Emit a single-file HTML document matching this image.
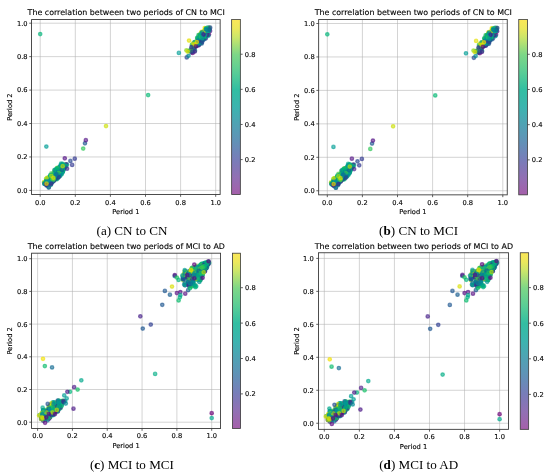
<!DOCTYPE html>
<html><head><meta charset="utf-8"><title>Correlation between two periods</title>
<style>html,body{margin:0;padding:0;background:#fff}svg{display:block}</style></head>
<body>
<svg width="550" height="476" viewBox="0 0 550 476">
<defs><linearGradient id="vg" x1="0" y1="0" x2="0" y2="1"><stop offset="0%" stop-color="#fbe758"/><stop offset="5%" stop-color="#ece85c"/><stop offset="10%" stop-color="#cde669"/><stop offset="15%" stop-color="#a5de78"/><stop offset="20%" stop-color="#7dd787"/><stop offset="25%" stop-color="#6cd28e"/><stop offset="30%" stop-color="#5acd96"/><stop offset="35%" stop-color="#46c69c"/><stop offset="40%" stop-color="#32bea2"/><stop offset="45%" stop-color="#37b9a8"/><stop offset="50%" stop-color="#3cb4af"/><stop offset="55%" stop-color="#46abb2"/><stop offset="60%" stop-color="#50a2b4"/><stop offset="65%" stop-color="#599ab6"/><stop offset="70%" stop-color="#6291b7"/><stop offset="75%" stop-color="#6d87b8"/><stop offset="80%" stop-color="#787db9"/><stop offset="85%" stop-color="#8476b6"/><stop offset="90%" stop-color="#9170b4"/><stop offset="95%" stop-color="#9b68af"/><stop offset="100%" stop-color="#a55faa"/></linearGradient></defs>
<rect width="550" height="476" fill="#fff"/>
<g><path d="M40.2 19.55V194.5M31.55 190.4H220.15M75.3 19.55V194.5M31.55 156.96H220.15M110.4 19.55V194.5M31.55 123.52H220.15M145.5 19.55V194.5M31.55 90.08H220.15M180.6 19.55V194.5M31.55 56.64H220.15M215.7 19.55V194.5M31.55 23.2H220.15" stroke="#b0b0b0" stroke-width="0.55" fill="none"/>
<g fill-opacity="0.6" stroke-opacity="0.6" stroke-width="1.25">
<circle cx="56.23" cy="175.97" r="1.75" fill="#00a88c" stroke="#00a88c"/>
<circle cx="50.18" cy="177.32" r="1.75" fill="#2bc658" stroke="#2bc658"/>
<circle cx="51.33" cy="181.1" r="1.75" fill="#00aa8a" stroke="#00aa8a"/>
<circle cx="57.69" cy="178.28" r="1.75" fill="#0a7996" stroke="#0a7996"/>
<circle cx="56.57" cy="175.66" r="1.75" fill="#32c854" stroke="#32c854"/>
<circle cx="50.68" cy="184.89" r="1.75" fill="#00aa8a" stroke="#00aa8a"/>
<circle cx="61.33" cy="169.06" r="1.75" fill="#048f96" stroke="#048f96"/>
<circle cx="57.03" cy="170.6" r="1.75" fill="#00ae86" stroke="#00ae86"/>
<circle cx="47.42" cy="181.39" r="1.75" fill="#00a193" stroke="#00a193"/>
<circle cx="55.14" cy="178.66" r="1.75" fill="#185d8e" stroke="#185d8e"/>
<circle cx="62.86" cy="169.36" r="1.75" fill="#03ba6c" stroke="#03ba6c"/>
<circle cx="46.87" cy="179.05" r="1.75" fill="#019996" stroke="#019996"/>
<circle cx="47.12" cy="182.54" r="1.75" fill="#84d728" stroke="#84d728"/>
<circle cx="54.66" cy="175.71" r="1.75" fill="#15c064" stroke="#15c064"/>
<circle cx="51.1" cy="176.61" r="1.75" fill="#009c96" stroke="#009c96"/>
<circle cx="46.09" cy="178.75" r="1.75" fill="#8fd922" stroke="#8fd922"/>
<circle cx="60.24" cy="166.74" r="1.75" fill="#00a68e" stroke="#00a68e"/>
<circle cx="45.99" cy="184.14" r="1.75" fill="#00a88c" stroke="#00a88c"/>
<circle cx="58.26" cy="171.16" r="1.75" fill="#0c7395" stroke="#0c7395"/>
<circle cx="60.4" cy="168.32" r="1.75" fill="#078496" stroke="#078496"/>
<circle cx="59.57" cy="172.31" r="1.75" fill="#1ac261" stroke="#1ac261"/>
<circle cx="51.48" cy="181.65" r="1.75" fill="#39308f" stroke="#39308f"/>
<circle cx="53.29" cy="176.96" r="1.75" fill="#087f96" stroke="#087f96"/>
<circle cx="56.68" cy="176.1" r="1.75" fill="#00a98b" stroke="#00a98b"/>
<circle cx="47.03" cy="183.6" r="1.75" fill="#049096" stroke="#049096"/>
<circle cx="63.64" cy="166.37" r="1.75" fill="#284690" stroke="#284690"/>
<circle cx="54.28" cy="170.46" r="1.75" fill="#38c951" stroke="#38c951"/>
<circle cx="57.96" cy="174.56" r="1.75" fill="#00a490" stroke="#00a490"/>
<circle cx="52.16" cy="178.56" r="1.75" fill="#087e96" stroke="#087e96"/>
<circle cx="57.84" cy="172.91" r="1.75" fill="#16618f" stroke="#16618f"/>
<circle cx="45.3" cy="184.08" r="1.75" fill="#00b677" stroke="#00b677"/>
<circle cx="53.61" cy="174.1" r="1.75" fill="#00a58f" stroke="#00a58f"/>
<circle cx="64.45" cy="167.05" r="1.75" fill="#38318f" stroke="#38318f"/>
<circle cx="62" cy="170.39" r="1.75" fill="#00ad87" stroke="#00ad87"/>
<circle cx="53.38" cy="181.22" r="1.75" fill="#146390" stroke="#146390"/>
<circle cx="57.11" cy="175.61" r="1.75" fill="#009f95" stroke="#009f95"/>
<circle cx="52.61" cy="176.42" r="1.75" fill="#b6de0c" stroke="#b6de0c"/>
<circle cx="52.45" cy="177.83" r="1.75" fill="#2c4090" stroke="#2c4090"/>
<circle cx="57.57" cy="175.37" r="1.75" fill="#244b8f" stroke="#244b8f"/>
<circle cx="50.43" cy="180.96" r="1.75" fill="#00a391" stroke="#00a391"/>
<circle cx="48.89" cy="181.48" r="1.75" fill="#00b380" stroke="#00b380"/>
<circle cx="56.42" cy="172.64" r="1.75" fill="#058d96" stroke="#058d96"/>
<circle cx="57.6" cy="174.26" r="1.75" fill="#195b8e" stroke="#195b8e"/>
<circle cx="50.11" cy="180.97" r="1.75" fill="#00b96e" stroke="#00b96e"/>
<circle cx="58.58" cy="176.4" r="1.75" fill="#088096" stroke="#088096"/>
<circle cx="54.13" cy="179.2" r="1.75" fill="#224e8f" stroke="#224e8f"/>
<circle cx="57.37" cy="168.83" r="1.75" fill="#00a193" stroke="#00a193"/>
<circle cx="61.72" cy="174.18" r="1.75" fill="#00b678" stroke="#00b678"/>
<circle cx="54.66" cy="176.58" r="1.75" fill="#14c064" stroke="#14c064"/>
<circle cx="56.81" cy="172.98" r="1.75" fill="#0dbd67" stroke="#0dbd67"/>
<circle cx="53.39" cy="177.96" r="1.75" fill="#323791" stroke="#323791"/>
<circle cx="49.9" cy="182.61" r="1.75" fill="#078296" stroke="#078296"/>
<circle cx="65.71" cy="164.68" r="1.75" fill="#70d533" stroke="#70d533"/>
<circle cx="54.19" cy="176.2" r="1.75" fill="#039496" stroke="#039496"/>
<circle cx="49.78" cy="180.87" r="1.75" fill="#00a193" stroke="#00a193"/>
<circle cx="57.38" cy="177.78" r="1.75" fill="#4d1c89" stroke="#4d1c89"/>
<circle cx="54.76" cy="175.99" r="1.75" fill="#00a490" stroke="#00a490"/>
<circle cx="50.61" cy="182.01" r="1.75" fill="#00af85" stroke="#00af85"/>
<circle cx="48.71" cy="183.15" r="1.75" fill="#00ab89" stroke="#00ab89"/>
<circle cx="46.39" cy="183.51" r="1.75" fill="#2a4290" stroke="#2a4290"/>
<circle cx="49.98" cy="178.81" r="1.75" fill="#019c96" stroke="#019c96"/>
<circle cx="47.69" cy="180.48" r="1.75" fill="#00aa8a" stroke="#00aa8a"/>
<circle cx="48.65" cy="183.08" r="1.75" fill="#18c162" stroke="#18c162"/>
<circle cx="45.73" cy="182.39" r="1.75" fill="#91d921" stroke="#91d921"/>
<circle cx="52.63" cy="174.77" r="1.75" fill="#00ab89" stroke="#00ab89"/>
<circle cx="59.65" cy="167.75" r="1.75" fill="#43cb4b" stroke="#43cb4b"/>
<circle cx="54.65" cy="172.16" r="1.75" fill="#19c162" stroke="#19c162"/>
<circle cx="49.56" cy="181.26" r="1.75" fill="#00b676" stroke="#00b676"/>
<circle cx="50.93" cy="179.94" r="1.75" fill="#019c96" stroke="#019c96"/>
<circle cx="53.86" cy="174.42" r="1.75" fill="#126891" stroke="#126891"/>
<circle cx="51.35" cy="182.57" r="1.75" fill="#02ba6d" stroke="#02ba6d"/>
<circle cx="56.22" cy="173.6" r="1.75" fill="#116a92" stroke="#116a92"/>
<circle cx="56.48" cy="175.23" r="1.75" fill="#234d8f" stroke="#234d8f"/>
<circle cx="56.48" cy="174.82" r="1.75" fill="#00b871" stroke="#00b871"/>
<circle cx="62.66" cy="172.07" r="1.75" fill="#1e538f" stroke="#1e538f"/>
<circle cx="50.85" cy="181.85" r="1.75" fill="#2b4090" stroke="#2b4090"/>
<circle cx="52.72" cy="177.73" r="1.75" fill="#029796" stroke="#029796"/>
<circle cx="51.86" cy="176.28" r="1.75" fill="#00a490" stroke="#00a490"/>
<circle cx="47.53" cy="180.41" r="1.75" fill="#106c92" stroke="#106c92"/>
<circle cx="51.55" cy="179.08" r="1.75" fill="#00a58f" stroke="#00a58f"/>
<circle cx="59.81" cy="170.98" r="1.75" fill="#00ae86" stroke="#00ae86"/>
<circle cx="63.23" cy="169.16" r="1.75" fill="#3c2d8e" stroke="#3c2d8e"/>
<circle cx="60.08" cy="169.19" r="1.75" fill="#1e548f" stroke="#1e548f"/>
<circle cx="47.53" cy="183.57" r="1.75" fill="#343590" stroke="#343590"/>
<circle cx="56.64" cy="172.16" r="1.75" fill="#00b084" stroke="#00b084"/>
<circle cx="43.98" cy="182.04" r="1.75" fill="#d9e005" stroke="#d9e005"/>
<circle cx="51.26" cy="179.24" r="1.75" fill="#019b96" stroke="#019b96"/>
<circle cx="54.1" cy="180.12" r="1.75" fill="#00ad87" stroke="#00ad87"/>
<circle cx="55.42" cy="177.15" r="1.75" fill="#15628f" stroke="#15628f"/>
<circle cx="62.89" cy="171.12" r="1.75" fill="#078496" stroke="#078496"/>
<circle cx="63.86" cy="169.47" r="1.75" fill="#00a391" stroke="#00a391"/>
<circle cx="62.49" cy="164.44" r="1.75" fill="#82d729" stroke="#82d729"/>
<circle cx="46.7" cy="183.19" r="1.75" fill="#0a7896" stroke="#0a7896"/>
<circle cx="52.58" cy="181.72" r="1.75" fill="#078396" stroke="#078396"/>
<circle cx="51.88" cy="176.86" r="1.75" fill="#0dbd68" stroke="#0dbd68"/>
<circle cx="58.81" cy="168.28" r="1.75" fill="#c6df08" stroke="#c6df08"/>
<circle cx="55.36" cy="175.93" r="1.75" fill="#00af85" stroke="#00af85"/>
<circle cx="48.88" cy="183.31" r="1.75" fill="#264890" stroke="#264890"/>
<circle cx="61.99" cy="169.16" r="1.75" fill="#1ac261" stroke="#1ac261"/>
<circle cx="51.98" cy="177.7" r="1.75" fill="#175e8e" stroke="#175e8e"/>
<circle cx="46.36" cy="182.49" r="1.75" fill="#088096" stroke="#088096"/>
<circle cx="44.34" cy="183.14" r="1.75" fill="#00ac88" stroke="#00ac88"/>
<circle cx="55.82" cy="171.43" r="1.75" fill="#009e96" stroke="#009e96"/>
<circle cx="54.49" cy="172.85" r="1.75" fill="#9cda1a" stroke="#9cda1a"/>
<circle cx="44.26" cy="182.76" r="1.75" fill="#67d438" stroke="#67d438"/>
<circle cx="61.82" cy="166.77" r="1.75" fill="#029796" stroke="#029796"/>
<circle cx="56.08" cy="178.2" r="1.75" fill="#0f6d93" stroke="#0f6d93"/>
<circle cx="58.96" cy="171.69" r="1.75" fill="#15628f" stroke="#15628f"/>
<circle cx="57.53" cy="172" r="1.75" fill="#1d558f" stroke="#1d558f"/>
<circle cx="51.59" cy="179.81" r="1.75" fill="#106b92" stroke="#106b92"/>
<circle cx="49.87" cy="178.24" r="1.75" fill="#097e96" stroke="#097e96"/>
<circle cx="54.98" cy="176.31" r="1.75" fill="#039296" stroke="#039296"/>
<circle cx="50.13" cy="182.67" r="1.75" fill="#039396" stroke="#039396"/>
<circle cx="56.03" cy="170.63" r="1.75" fill="#1cc260" stroke="#1cc260"/>
<circle cx="48.28" cy="180.47" r="1.75" fill="#00a78d" stroke="#00a78d"/>
<circle cx="48.6" cy="181.29" r="1.75" fill="#7bd62d" stroke="#7bd62d"/>
<circle cx="57.81" cy="170.15" r="1.75" fill="#009d96" stroke="#009d96"/>
<circle cx="52.98" cy="174.7" r="1.75" fill="#0f6d93" stroke="#0f6d93"/>
<circle cx="46.35" cy="183.26" r="1.75" fill="#0b7695" stroke="#0b7695"/>
<circle cx="56.74" cy="179.25" r="1.75" fill="#02ba6d" stroke="#02ba6d"/>
<circle cx="53.71" cy="178.41" r="1.75" fill="#15c063" stroke="#15c063"/>
<circle cx="62.08" cy="169.37" r="1.75" fill="#146590" stroke="#146590"/>
<circle cx="58.65" cy="174.2" r="1.75" fill="#00a490" stroke="#00a490"/>
<circle cx="55.06" cy="174.8" r="1.75" fill="#009d96" stroke="#009d96"/>
<circle cx="59.6" cy="167.66" r="1.75" fill="#0dbd67" stroke="#0dbd67"/>
<circle cx="47" cy="184.71" r="1.75" fill="#039496" stroke="#039496"/>
<circle cx="55.46" cy="177.82" r="1.75" fill="#00ac88" stroke="#00ac88"/>
<circle cx="57.21" cy="167.94" r="1.75" fill="#97da1d" stroke="#97da1d"/>
<circle cx="57.72" cy="173.78" r="1.75" fill="#00a094" stroke="#00a094"/>
<circle cx="51.11" cy="182.47" r="1.75" fill="#078496" stroke="#078496"/>
<circle cx="57.24" cy="172.5" r="1.75" fill="#0f6e93" stroke="#0f6e93"/>
<circle cx="50.91" cy="178.42" r="1.75" fill="#00ae86" stroke="#00ae86"/>
<circle cx="58.1" cy="174.04" r="1.75" fill="#00a490" stroke="#00a490"/>
<circle cx="44.8" cy="183.67" r="1.75" fill="#195b8e" stroke="#195b8e"/>
<circle cx="57.06" cy="174.54" r="1.75" fill="#0b7595" stroke="#0b7595"/>
<circle cx="58.16" cy="174.53" r="1.75" fill="#16608f" stroke="#16608f"/>
<circle cx="56.45" cy="173.45" r="1.75" fill="#00a391" stroke="#00a391"/>
<circle cx="45.62" cy="182.89" r="1.75" fill="#00b870" stroke="#00b870"/>
<circle cx="57.84" cy="174.12" r="1.75" fill="#0fbe66" stroke="#0fbe66"/>
<circle cx="62.39" cy="167.04" r="1.75" fill="#65d339" stroke="#65d339"/>
<circle cx="58.25" cy="172.32" r="1.75" fill="#088196" stroke="#088196"/>
<circle cx="61.03" cy="163.63" r="1.75" fill="#00ac88" stroke="#00ac88"/>
<circle cx="53.32" cy="178.89" r="1.75" fill="#00ab89" stroke="#00ab89"/>
<circle cx="59.29" cy="167.49" r="1.75" fill="#087f96" stroke="#087f96"/>
<circle cx="47.65" cy="182.95" r="1.75" fill="#068796" stroke="#068796"/>
<circle cx="58.28" cy="172.38" r="1.75" fill="#00b96f" stroke="#00b96f"/>
<circle cx="52.58" cy="175.97" r="1.75" fill="#16608f" stroke="#16608f"/>
<circle cx="55.98" cy="172.09" r="1.75" fill="#234d8f" stroke="#234d8f"/>
<circle cx="53.84" cy="173.3" r="1.75" fill="#078596" stroke="#078596"/>
<circle cx="55.7" cy="173.82" r="1.75" fill="#039396" stroke="#039396"/>
<circle cx="52.06" cy="179.89" r="1.75" fill="#2f3b91" stroke="#2f3b91"/>
<circle cx="67.02" cy="164.57" r="1.75" fill="#009f95" stroke="#009f95"/>
<circle cx="50.51" cy="178.62" r="1.75" fill="#20528f" stroke="#20528f"/>
<circle cx="51.98" cy="176.94" r="1.75" fill="#2a4390" stroke="#2a4390"/>
<circle cx="47" cy="179.89" r="1.75" fill="#28c559" stroke="#28c559"/>
<circle cx="49.4" cy="179.98" r="1.75" fill="#3dca4f" stroke="#3dca4f"/>
<circle cx="59.24" cy="168.36" r="1.75" fill="#96da1d" stroke="#96da1d"/>
<circle cx="61.68" cy="164.72" r="1.75" fill="#078596" stroke="#078596"/>
<circle cx="62.37" cy="167.48" r="1.75" fill="#078496" stroke="#078496"/>
<circle cx="60.41" cy="173.7" r="1.75" fill="#00a094" stroke="#00a094"/>
<circle cx="58.65" cy="174.7" r="1.75" fill="#353490" stroke="#353490"/>
<circle cx="54.59" cy="179.47" r="1.75" fill="#078596" stroke="#078596"/>
<circle cx="48.64" cy="177.73" r="1.75" fill="#3cca4f" stroke="#3cca4f"/>
<circle cx="59.05" cy="173.44" r="1.75" fill="#313991" stroke="#313991"/>
<circle cx="51.06" cy="176.21" r="1.75" fill="#00a78d" stroke="#00a78d"/>
<circle cx="54.88" cy="174" r="1.75" fill="#00b872" stroke="#00b872"/>
<circle cx="56.11" cy="169.85" r="1.75" fill="#4ccd46" stroke="#4ccd46"/>
<circle cx="48.05" cy="179.84" r="1.75" fill="#00b282" stroke="#00b282"/>
<circle cx="56.68" cy="173.93" r="1.75" fill="#165f8e" stroke="#165f8e"/>
<circle cx="54.1" cy="176.8" r="1.75" fill="#254a90" stroke="#254a90"/>
<circle cx="55.35" cy="174.8" r="1.75" fill="#00b96f" stroke="#00b96f"/>
<circle cx="61.4" cy="168.44" r="1.75" fill="#a4db16" stroke="#a4db16"/>
<circle cx="63.61" cy="168.01" r="1.75" fill="#019a96" stroke="#019a96"/>
<circle cx="62.75" cy="167.61" r="1.75" fill="#00ad87" stroke="#00ad87"/>
<circle cx="56.4" cy="169.83" r="1.75" fill="#09bc69" stroke="#09bc69"/>
<circle cx="60.62" cy="174.04" r="1.75" fill="#048e96" stroke="#048e96"/>
<circle cx="50.94" cy="178.83" r="1.75" fill="#2ac659" stroke="#2ac659"/>
<circle cx="65.35" cy="167.22" r="1.75" fill="#048e96" stroke="#048e96"/>
<circle cx="52.49" cy="177.43" r="1.75" fill="#0dbd68" stroke="#0dbd68"/>
<circle cx="44.38" cy="183.98" r="1.75" fill="#058b96" stroke="#058b96"/>
<circle cx="66.12" cy="164.26" r="1.75" fill="#3f2a8d" stroke="#3f2a8d"/>
<circle cx="47.31" cy="181.18" r="1.75" fill="#00a292" stroke="#00a292"/>
<circle cx="56.69" cy="177.74" r="1.75" fill="#116992" stroke="#116992"/>
<circle cx="53.35" cy="174.21" r="1.75" fill="#00a391" stroke="#00a391"/>
<circle cx="46.53" cy="185.49" r="1.75" fill="#106d92" stroke="#106d92"/>
<circle cx="61.18" cy="167.51" r="1.75" fill="#1b588e" stroke="#1b588e"/>
<circle cx="54.81" cy="175.1" r="1.75" fill="#00a094" stroke="#00a094"/>
<circle cx="59.88" cy="176.07" r="1.75" fill="#00b872" stroke="#00b872"/>
<circle cx="63.79" cy="168.4" r="1.75" fill="#00a88c" stroke="#00a88c"/>
<circle cx="57.83" cy="171.94" r="1.75" fill="#097b96" stroke="#097b96"/>
<circle cx="48.51" cy="177.97" r="1.75" fill="#5fd23c" stroke="#5fd23c"/>
<circle cx="49.71" cy="179.99" r="1.75" fill="#029896" stroke="#029896"/>
<circle cx="48.83" cy="180.96" r="1.75" fill="#00a490" stroke="#00a490"/>
<circle cx="58.96" cy="174.98" r="1.75" fill="#146490" stroke="#146490"/>
<circle cx="50.28" cy="176.48" r="1.75" fill="#00b47d" stroke="#00b47d"/>
<circle cx="47.66" cy="178.18" r="1.75" fill="#00b380" stroke="#00b380"/>
<circle cx="56.45" cy="173.83" r="1.75" fill="#17c163" stroke="#17c163"/>
<circle cx="50.51" cy="180.49" r="1.75" fill="#2cc658" stroke="#2cc658"/>
<circle cx="53.71" cy="180.83" r="1.75" fill="#5e0b7f" stroke="#5e0b7f"/>
<circle cx="52.26" cy="175.89" r="1.75" fill="#67d438" stroke="#67d438"/>
<circle cx="54.82" cy="169.91" r="1.75" fill="#068896" stroke="#068896"/>
<circle cx="47.09" cy="181.55" r="1.75" fill="#0dbd68" stroke="#0dbd68"/>
<circle cx="46.06" cy="181.19" r="1.75" fill="#00b872" stroke="#00b872"/>
<circle cx="46.18" cy="182.92" r="1.75" fill="#39308f" stroke="#39308f"/>
<circle cx="53.9" cy="179.01" r="1.75" fill="#00aa8a" stroke="#00aa8a"/>
<circle cx="46.26" cy="180.8" r="1.75" fill="#00b678" stroke="#00b678"/>
<circle cx="51.33" cy="182.25" r="1.75" fill="#45248c" stroke="#45248c"/>
<circle cx="56.35" cy="174.54" r="1.75" fill="#00ab89" stroke="#00ab89"/>
<circle cx="58.41" cy="171.2" r="1.75" fill="#284590" stroke="#284590"/>
<circle cx="61.96" cy="166.07" r="1.75" fill="#116991" stroke="#116991"/>
<circle cx="57.4" cy="171.88" r="1.75" fill="#0fbe67" stroke="#0fbe67"/>
<circle cx="61.46" cy="167.84" r="1.75" fill="#3dca4e" stroke="#3dca4e"/>
<circle cx="56.92" cy="175.38" r="1.75" fill="#0d7294" stroke="#0d7294"/>
<circle cx="60.54" cy="173.07" r="1.75" fill="#0a7996" stroke="#0a7996"/>
<circle cx="57.78" cy="172.4" r="1.75" fill="#00ae86" stroke="#00ae86"/>
<circle cx="66.11" cy="165.94" r="1.75" fill="#00b084" stroke="#00b084"/>
<circle cx="51.99" cy="181.77" r="1.75" fill="#00ab89" stroke="#00ab89"/>
<circle cx="56.21" cy="177.39" r="1.75" fill="#0e7093" stroke="#0e7093"/>
<circle cx="57.58" cy="174.01" r="1.75" fill="#00ac88" stroke="#00ac88"/>
<circle cx="51.13" cy="184.04" r="1.75" fill="#1a598e" stroke="#1a598e"/>
<circle cx="54.85" cy="178.97" r="1.75" fill="#165f8e" stroke="#165f8e"/>
<circle cx="55.77" cy="178.79" r="1.75" fill="#1e548f" stroke="#1e548f"/>
<circle cx="47.9" cy="182.1" r="1.75" fill="#2cc658" stroke="#2cc658"/>
<circle cx="50.72" cy="178.66" r="1.75" fill="#048d96" stroke="#048d96"/>
<circle cx="56.41" cy="168.8" r="1.75" fill="#00ac88" stroke="#00ac88"/>
<circle cx="62.82" cy="171.29" r="1.75" fill="#04ba6c" stroke="#04ba6c"/>
<circle cx="54.1" cy="178.02" r="1.75" fill="#00b579" stroke="#00b579"/>
<circle cx="54.05" cy="174" r="1.75" fill="#00b678" stroke="#00b678"/>
<circle cx="49.52" cy="181.48" r="1.75" fill="#00a094" stroke="#00a094"/>
<circle cx="51.84" cy="179.41" r="1.75" fill="#078396" stroke="#078396"/>
<circle cx="47.56" cy="178.53" r="1.75" fill="#46cc4a" stroke="#46cc4a"/>
<circle cx="55.34" cy="175.9" r="1.75" fill="#1f538f" stroke="#1f538f"/>
<circle cx="50.73" cy="182.66" r="1.75" fill="#274690" stroke="#274690"/>
<circle cx="50.98" cy="182.82" r="1.75" fill="#00b96e" stroke="#00b96e"/>
<circle cx="58.36" cy="171.11" r="1.75" fill="#00b281" stroke="#00b281"/>
<circle cx="55.67" cy="173.91" r="1.75" fill="#00a391" stroke="#00a391"/>
<circle cx="57.92" cy="175.93" r="1.75" fill="#078496" stroke="#078496"/>
<circle cx="52.54" cy="180.39" r="1.75" fill="#116991" stroke="#116991"/>
<circle cx="58.86" cy="170.09" r="1.75" fill="#068896" stroke="#068896"/>
<circle cx="58.09" cy="170.77" r="1.75" fill="#097c96" stroke="#097c96"/>
<circle cx="56.5" cy="175.5" r="1.75" fill="#294390" stroke="#294390"/>
<circle cx="63.78" cy="164.88" r="1.75" fill="#00b37e" stroke="#00b37e"/>
<circle cx="49.07" cy="179.91" r="1.75" fill="#019996" stroke="#019996"/>
<circle cx="62.32" cy="172.53" r="1.75" fill="#00a094" stroke="#00a094"/>
<circle cx="55.04" cy="176.13" r="1.75" fill="#058d96" stroke="#058d96"/>
<circle cx="52.82" cy="176.52" r="1.75" fill="#0e7094" stroke="#0e7094"/>
<circle cx="58.92" cy="172.87" r="1.75" fill="#39c950" stroke="#39c950"/>
<circle cx="60.29" cy="175.49" r="1.75" fill="#058c96" stroke="#058c96"/>
<circle cx="56.13" cy="174.96" r="1.75" fill="#009f95" stroke="#009f95"/>
<circle cx="49.03" cy="179.5" r="1.75" fill="#0c7495" stroke="#0c7495"/>
<circle cx="60.91" cy="165.34" r="1.75" fill="#00a490" stroke="#00a490"/>
<circle cx="58.87" cy="177.07" r="1.75" fill="#294490" stroke="#294490"/>
<circle cx="51.37" cy="173.42" r="1.75" fill="#49cd48" stroke="#49cd48"/>
<circle cx="52.85" cy="180.44" r="1.75" fill="#058c96" stroke="#058c96"/>
<circle cx="49.23" cy="178.76" r="1.75" fill="#67d438" stroke="#67d438"/>
<circle cx="51.84" cy="175.41" r="1.75" fill="#00b47c" stroke="#00b47c"/>
<circle cx="47.21" cy="180.74" r="1.75" fill="#126791" stroke="#126791"/>
<circle cx="55.72" cy="174.26" r="1.75" fill="#078396" stroke="#078396"/>
<circle cx="51.74" cy="181.65" r="1.75" fill="#00a094" stroke="#00a094"/>
<circle cx="62.68" cy="165.99" r="1.75" fill="#14c064" stroke="#14c064"/>
<circle cx="62.16" cy="169.96" r="1.75" fill="#136690" stroke="#136690"/>
<circle cx="48.81" cy="187.28" r="1.75" fill="#5e0b80" stroke="#5e0b80"/>
<circle cx="47.05" cy="177.79" r="1.75" fill="#d2df06" stroke="#d2df06"/>
<circle cx="47.3" cy="181.36" r="1.75" fill="#009c96" stroke="#009c96"/>
<circle cx="57.49" cy="168.19" r="1.75" fill="#01b96e" stroke="#01b96e"/>
<circle cx="47.27" cy="185.53" r="1.75" fill="#363390" stroke="#363390"/>
<circle cx="62.59" cy="163.93" r="1.75" fill="#00a88c" stroke="#00a88c"/>
<circle cx="60.46" cy="165.77" r="1.75" fill="#009e96" stroke="#009e96"/>
<circle cx="50.15" cy="176.3" r="1.75" fill="#27c55a" stroke="#27c55a"/>
<circle cx="63.78" cy="166.53" r="1.75" fill="#058d96" stroke="#058d96"/>
<circle cx="51.66" cy="181.84" r="1.75" fill="#0f6e93" stroke="#0f6e93"/>
<circle cx="50.26" cy="180.63" r="1.75" fill="#019c96" stroke="#019c96"/>
<circle cx="48.71" cy="187.38" r="1.75" fill="#039296" stroke="#039296"/>
<circle cx="51.37" cy="183.41" r="1.75" fill="#40298d" stroke="#40298d"/>
<circle cx="50.63" cy="179.57" r="1.75" fill="#048f96" stroke="#048f96"/>
<circle cx="53.49" cy="179.44" r="1.75" fill="#63d33a" stroke="#63d33a"/>
<circle cx="52.2" cy="178.63" r="1.75" fill="#46cc4a" stroke="#46cc4a"/>
<circle cx="56.45" cy="174.19" r="1.75" fill="#0d7394" stroke="#0d7394"/>
<circle cx="50.28" cy="175.21" r="1.75" fill="#00a88c" stroke="#00a88c"/>
<circle cx="51.28" cy="175.82" r="1.75" fill="#abdc12" stroke="#abdc12"/>
<circle cx="197.36" cy="41.17" r="1.75" fill="#00b676" stroke="#00b676"/>
<circle cx="197.77" cy="43.14" r="1.75" fill="#0c7495" stroke="#0c7495"/>
<circle cx="205.87" cy="38.25" r="1.75" fill="#2f3c91" stroke="#2f3c91"/>
<circle cx="202.72" cy="38.47" r="1.75" fill="#049096" stroke="#049096"/>
<circle cx="210.07" cy="30.95" r="1.75" fill="#531688" stroke="#531688"/>
<circle cx="197.76" cy="41.03" r="1.75" fill="#05bb6c" stroke="#05bb6c"/>
<circle cx="206.63" cy="31.57" r="1.75" fill="#0b7695" stroke="#0b7695"/>
<circle cx="200.48" cy="41.13" r="1.75" fill="#048e96" stroke="#048e96"/>
<circle cx="201.24" cy="39.11" r="1.75" fill="#5e0b80" stroke="#5e0b80"/>
<circle cx="197.7" cy="37.8" r="1.75" fill="#e1e004" stroke="#e1e004"/>
<circle cx="202.74" cy="38.95" r="1.75" fill="#0a7896" stroke="#0a7896"/>
<circle cx="197.9" cy="44.42" r="1.75" fill="#19c161" stroke="#19c161"/>
<circle cx="195.81" cy="44.93" r="1.75" fill="#00a490" stroke="#00a490"/>
<circle cx="198.29" cy="43.36" r="1.75" fill="#343590" stroke="#343590"/>
<circle cx="206.51" cy="33.16" r="1.75" fill="#068796" stroke="#068796"/>
<circle cx="200.35" cy="37.61" r="1.75" fill="#363390" stroke="#363390"/>
<circle cx="197.17" cy="37.96" r="1.75" fill="#00a58f" stroke="#00a58f"/>
<circle cx="207.98" cy="35.18" r="1.75" fill="#088096" stroke="#088096"/>
<circle cx="208.37" cy="29.87" r="1.75" fill="#106d93" stroke="#106d93"/>
<circle cx="204.96" cy="33.64" r="1.75" fill="#00ab89" stroke="#00ab89"/>
<circle cx="203.27" cy="35.93" r="1.75" fill="#4c1d89" stroke="#4c1d89"/>
<circle cx="199.33" cy="40.75" r="1.75" fill="#00b183" stroke="#00b183"/>
<circle cx="207.53" cy="31.73" r="1.75" fill="#097c96" stroke="#097c96"/>
<circle cx="198.07" cy="38.92" r="1.75" fill="#1cc260" stroke="#1cc260"/>
<circle cx="200.31" cy="40.39" r="1.75" fill="#00b676" stroke="#00b676"/>
<circle cx="194.45" cy="46.21" r="1.75" fill="#078496" stroke="#078496"/>
<circle cx="209.06" cy="29.03" r="1.75" fill="#048f96" stroke="#048f96"/>
<circle cx="189.86" cy="50.85" r="1.75" fill="#afdd0f" stroke="#afdd0f"/>
<circle cx="196.84" cy="43.58" r="1.75" fill="#078296" stroke="#078296"/>
<circle cx="207.97" cy="27.54" r="1.75" fill="#0a7996" stroke="#0a7996"/>
<circle cx="204.99" cy="33.74" r="1.75" fill="#16618f" stroke="#16618f"/>
<circle cx="194.83" cy="44.94" r="1.75" fill="#294590" stroke="#294590"/>
<circle cx="200.46" cy="39.08" r="1.75" fill="#244b8f" stroke="#244b8f"/>
<circle cx="191.22" cy="52.35" r="1.75" fill="#0a7896" stroke="#0a7896"/>
<circle cx="197.57" cy="44.56" r="1.75" fill="#058b96" stroke="#058b96"/>
<circle cx="201.56" cy="40.57" r="1.75" fill="#26c55b" stroke="#26c55b"/>
<circle cx="199.46" cy="39.57" r="1.75" fill="#30c756" stroke="#30c756"/>
<circle cx="196.05" cy="45.98" r="1.75" fill="#373290" stroke="#373290"/>
<circle cx="202.8" cy="39.16" r="1.75" fill="#0d7294" stroke="#0d7294"/>
<circle cx="203.73" cy="34.52" r="1.75" fill="#00b57a" stroke="#00b57a"/>
<circle cx="193.44" cy="45.58" r="1.75" fill="#46238b" stroke="#46238b"/>
<circle cx="204.55" cy="39.08" r="1.75" fill="#15628f" stroke="#15628f"/>
<circle cx="205.36" cy="28.64" r="1.75" fill="#f2e101" stroke="#f2e101"/>
<circle cx="206.24" cy="32.19" r="1.75" fill="#15628f" stroke="#15628f"/>
<circle cx="197.42" cy="42.73" r="1.75" fill="#8ad824" stroke="#8ad824"/>
<circle cx="204.83" cy="30.97" r="1.75" fill="#01b96e" stroke="#01b96e"/>
<circle cx="199.67" cy="39.66" r="1.75" fill="#1a5a8e" stroke="#1a5a8e"/>
<circle cx="204.22" cy="36.27" r="1.75" fill="#00b578" stroke="#00b578"/>
<circle cx="204.67" cy="28.04" r="1.75" fill="#f2e101" stroke="#f2e101"/>
<circle cx="197.23" cy="45.62" r="1.75" fill="#264890" stroke="#264890"/>
<circle cx="190.73" cy="50.42" r="1.75" fill="#13bf64" stroke="#13bf64"/>
<circle cx="203.59" cy="33" r="1.75" fill="#dbe005" stroke="#dbe005"/>
<circle cx="204.17" cy="37.62" r="1.75" fill="#048e96" stroke="#048e96"/>
<circle cx="194.34" cy="46.27" r="1.75" fill="#264890" stroke="#264890"/>
<circle cx="203.34" cy="34.55" r="1.75" fill="#00a094" stroke="#00a094"/>
<circle cx="198.48" cy="35.16" r="1.75" fill="#00ad87" stroke="#00ad87"/>
<circle cx="200.55" cy="41.29" r="1.75" fill="#00b677" stroke="#00b677"/>
<circle cx="205.6" cy="33.15" r="1.75" fill="#097c96" stroke="#097c96"/>
<circle cx="203.35" cy="33.8" r="1.75" fill="#00b47c" stroke="#00b47c"/>
<circle cx="200.01" cy="39.24" r="1.75" fill="#00a292" stroke="#00a292"/>
<circle cx="194.51" cy="49.1" r="1.75" fill="#244c8f" stroke="#244c8f"/>
<circle cx="202.32" cy="35.67" r="1.75" fill="#1b588e" stroke="#1b588e"/>
<circle cx="195.77" cy="44.05" r="1.75" fill="#058c96" stroke="#058c96"/>
<circle cx="192.68" cy="46.67" r="1.75" fill="#6ad436" stroke="#6ad436"/>
<circle cx="192.35" cy="45.16" r="1.75" fill="#009c96" stroke="#009c96"/>
<circle cx="195.02" cy="42.42" r="1.75" fill="#72d532" stroke="#72d532"/>
<circle cx="199.98" cy="38.37" r="1.75" fill="#3e2b8e" stroke="#3e2b8e"/>
<circle cx="199.73" cy="38.93" r="1.75" fill="#0abc69" stroke="#0abc69"/>
<circle cx="205.99" cy="35.6" r="1.75" fill="#3c2d8e" stroke="#3c2d8e"/>
<circle cx="208.61" cy="29.92" r="1.75" fill="#00b282" stroke="#00b282"/>
<circle cx="194.26" cy="45.47" r="1.75" fill="#00a58f" stroke="#00a58f"/>
<circle cx="200.45" cy="40.06" r="1.75" fill="#039296" stroke="#039296"/>
<circle cx="191.78" cy="48.66" r="1.75" fill="#23c45d" stroke="#23c45d"/>
<circle cx="200.91" cy="40.69" r="1.75" fill="#039496" stroke="#039496"/>
<circle cx="191.89" cy="44.58" r="1.75" fill="#41cb4c" stroke="#41cb4c"/>
<circle cx="201.54" cy="31.76" r="1.75" fill="#dbe005" stroke="#dbe005"/>
<circle cx="204.27" cy="35.62" r="1.75" fill="#224e8f" stroke="#224e8f"/>
<circle cx="209.37" cy="27.58" r="1.75" fill="#35c853" stroke="#35c853"/>
<circle cx="203.36" cy="36.24" r="1.75" fill="#00a094" stroke="#00a094"/>
<circle cx="201.34" cy="34.45" r="1.75" fill="#20518f" stroke="#20518f"/>
<circle cx="203.54" cy="34.19" r="1.75" fill="#029796" stroke="#029796"/>
<circle cx="195.4" cy="44.56" r="1.75" fill="#3dca4e" stroke="#3dca4e"/>
<circle cx="197.03" cy="43.51" r="1.75" fill="#a1db18" stroke="#a1db18"/>
<circle cx="205.91" cy="32.31" r="1.75" fill="#71d533" stroke="#71d533"/>
<circle cx="203.97" cy="37.65" r="1.75" fill="#5b0e82" stroke="#5b0e82"/>
<circle cx="194.33" cy="44.14" r="1.75" fill="#0e6f93" stroke="#0e6f93"/>
<circle cx="204.36" cy="36.42" r="1.75" fill="#116991" stroke="#116991"/>
<circle cx="205.04" cy="32.19" r="1.75" fill="#82d729" stroke="#82d729"/>
<circle cx="198.87" cy="40.41" r="1.75" fill="#00a292" stroke="#00a292"/>
<circle cx="206.13" cy="29.39" r="1.75" fill="#0ebe67" stroke="#0ebe67"/>
<circle cx="208.11" cy="30.18" r="1.75" fill="#00a78d" stroke="#00a78d"/>
<circle cx="205.24" cy="30.61" r="1.75" fill="#27c55a" stroke="#27c55a"/>
<circle cx="205.08" cy="36.16" r="1.75" fill="#323791" stroke="#323791"/>
<circle cx="205.2" cy="31.8" r="1.75" fill="#078396" stroke="#078396"/>
<circle cx="193.5" cy="47.57" r="1.75" fill="#13bf64" stroke="#13bf64"/>
<circle cx="204.2" cy="34.1" r="1.75" fill="#00b870" stroke="#00b870"/>
<circle cx="201.91" cy="37.07" r="1.75" fill="#00a490" stroke="#00a490"/>
<circle cx="202.56" cy="33.94" r="1.75" fill="#00b47b" stroke="#00b47b"/>
<circle cx="195.02" cy="50.76" r="1.75" fill="#00b282" stroke="#00b282"/>
<circle cx="205.68" cy="32.03" r="1.75" fill="#00b57b" stroke="#00b57b"/>
<circle cx="198.99" cy="44.75" r="1.75" fill="#254a90" stroke="#254a90"/>
<circle cx="194.85" cy="42.07" r="1.75" fill="#dae005" stroke="#dae005"/>
<circle cx="208.97" cy="34.57" r="1.75" fill="#660479" stroke="#660479"/>
<circle cx="199.07" cy="43.3" r="1.75" fill="#0f6e93" stroke="#0f6e93"/>
<circle cx="200.52" cy="43.49" r="1.75" fill="#00ad87" stroke="#00ad87"/>
<circle cx="199.75" cy="35.24" r="1.75" fill="#029896" stroke="#029896"/>
<circle cx="201.78" cy="40.97" r="1.75" fill="#00a292" stroke="#00a292"/>
<circle cx="195.42" cy="44.43" r="1.75" fill="#20518f" stroke="#20518f"/>
<circle cx="201.67" cy="39.02" r="1.75" fill="#00a193" stroke="#00a193"/>
<circle cx="192.64" cy="52.9" r="1.75" fill="#660479" stroke="#660479"/>
<circle cx="196.38" cy="44.57" r="1.75" fill="#0b7695" stroke="#0b7695"/>
<circle cx="188.47" cy="50.92" r="1.75" fill="#00a98b" stroke="#00a98b"/>
<circle cx="197.58" cy="42.76" r="1.75" fill="#42278c" stroke="#42278c"/>
<circle cx="205.24" cy="30.84" r="1.75" fill="#cadf07" stroke="#cadf07"/>
<circle cx="208.46" cy="30.72" r="1.75" fill="#31c755" stroke="#31c755"/>
<circle cx="210.19" cy="27.71" r="1.75" fill="#2a4390" stroke="#2a4390"/>
<circle cx="208.54" cy="30.69" r="1.75" fill="#039296" stroke="#039296"/>
<circle cx="200.55" cy="37.89" r="1.75" fill="#59d040" stroke="#59d040"/>
<circle cx="201.24" cy="32.81" r="1.75" fill="#f1e101" stroke="#f1e101"/>
<circle cx="207.61" cy="29.7" r="1.75" fill="#00a490" stroke="#00a490"/>
<circle cx="205.02" cy="33.15" r="1.75" fill="#00ac88" stroke="#00ac88"/>
<circle cx="194.34" cy="47.69" r="1.75" fill="#224e8f" stroke="#224e8f"/>
<circle cx="205.31" cy="35.43" r="1.75" fill="#4ece45" stroke="#4ece45"/>
<circle cx="206.31" cy="28.16" r="1.75" fill="#00b774" stroke="#00b774"/>
<circle cx="201.25" cy="41.09" r="1.75" fill="#15628f" stroke="#15628f"/>
<circle cx="204.41" cy="36.9" r="1.75" fill="#00ac88" stroke="#00ac88"/>
<circle cx="206.85" cy="31.85" r="1.75" fill="#51cf44" stroke="#51cf44"/>
<circle cx="196.42" cy="44.76" r="1.75" fill="#16618f" stroke="#16618f"/>
<circle cx="199.26" cy="34.93" r="1.75" fill="#9edb19" stroke="#9edb19"/>
<circle cx="194.75" cy="51.57" r="1.75" fill="#511888" stroke="#511888"/>
<circle cx="206.18" cy="31.36" r="1.75" fill="#9fdb19" stroke="#9fdb19"/>
<circle cx="199.29" cy="38.32" r="1.75" fill="#1f528f" stroke="#1f528f"/>
<circle cx="200.18" cy="42.34" r="1.75" fill="#058d96" stroke="#058d96"/>
<circle cx="203.03" cy="37.75" r="1.75" fill="#00a193" stroke="#00a193"/>
<circle cx="206.08" cy="31.27" r="1.75" fill="#9bda1b" stroke="#9bda1b"/>
<circle cx="201.63" cy="33.1" r="1.75" fill="#00b872" stroke="#00b872"/>
<circle cx="204.16" cy="37.22" r="1.75" fill="#00b870" stroke="#00b870"/>
<circle cx="198.68" cy="45.34" r="1.75" fill="#333691" stroke="#333691"/>
<circle cx="198.46" cy="38.56" r="1.75" fill="#00aa8a" stroke="#00aa8a"/>
<circle cx="193.26" cy="43.03" r="1.75" fill="#c4df08" stroke="#c4df08"/>
<circle cx="204.71" cy="34.97" r="1.75" fill="#2a4390" stroke="#2a4390"/>
<circle cx="201.77" cy="43.49" r="1.75" fill="#1c578f" stroke="#1c578f"/>
<circle cx="197.4" cy="38.47" r="1.75" fill="#20c45e" stroke="#20c45e"/>
<circle cx="208.15" cy="30.62" r="1.75" fill="#00a490" stroke="#00a490"/>
<circle cx="204.08" cy="31.68" r="1.75" fill="#8ed922" stroke="#8ed922"/>
<circle cx="204.98" cy="33.85" r="1.75" fill="#00a58f" stroke="#00a58f"/>
<circle cx="208.55" cy="30.66" r="1.75" fill="#068896" stroke="#068896"/>
<circle cx="197.35" cy="43.77" r="1.75" fill="#029796" stroke="#029796"/>
<circle cx="199.86" cy="35.57" r="1.75" fill="#088096" stroke="#088096"/>
<circle cx="203.87" cy="31.06" r="1.75" fill="#e4e003" stroke="#e4e003"/>
<circle cx="208.35" cy="35.74" r="1.75" fill="#009e96" stroke="#009e96"/>
<circle cx="199.47" cy="42.66" r="1.75" fill="#00ad87" stroke="#00ad87"/>
<circle cx="201.99" cy="32.28" r="1.75" fill="#048d96" stroke="#048d96"/>
<circle cx="203.57" cy="36.37" r="1.75" fill="#22c45d" stroke="#22c45d"/>
<circle cx="207.25" cy="34.86" r="1.75" fill="#45248c" stroke="#45248c"/>
<circle cx="202.71" cy="36.34" r="1.75" fill="#0f6d93" stroke="#0f6d93"/>
<circle cx="207.67" cy="30.93" r="1.75" fill="#00a193" stroke="#00a193"/>
<circle cx="199.68" cy="40.11" r="1.75" fill="#2f3c91" stroke="#2f3c91"/>
<circle cx="201.36" cy="39.22" r="1.75" fill="#4ece45" stroke="#4ece45"/>
<circle cx="198.63" cy="41.9" r="1.75" fill="#039496" stroke="#039496"/>
<circle cx="204.95" cy="35.03" r="1.75" fill="#00a58f" stroke="#00a58f"/>
<circle cx="198.49" cy="40.29" r="1.75" fill="#00b183" stroke="#00b183"/>
<circle cx="198.86" cy="43.02" r="1.75" fill="#048e96" stroke="#048e96"/>
<circle cx="199.56" cy="40.77" r="1.75" fill="#2c3f90" stroke="#2c3f90"/>
<circle cx="190.51" cy="50.79" r="1.75" fill="#234c8f" stroke="#234c8f"/>
<circle cx="205.81" cy="29.18" r="1.75" fill="#009e96" stroke="#009e96"/>
<circle cx="193.65" cy="45.75" r="1.75" fill="#00a292" stroke="#00a292"/>
<circle cx="194.45" cy="46.17" r="1.75" fill="#1ec35f" stroke="#1ec35f"/>
<circle cx="195.73" cy="42.91" r="1.75" fill="#00a58f" stroke="#00a58f"/>
<circle cx="198" cy="40.65" r="1.75" fill="#234c8f" stroke="#234c8f"/>
<circle cx="198.63" cy="38.05" r="1.75" fill="#00a094" stroke="#00a094"/>
<circle cx="202.78" cy="34.88" r="1.75" fill="#3a2f8f" stroke="#3a2f8f"/>
<circle cx="199.65" cy="34.93" r="1.75" fill="#00b47c" stroke="#00b47c"/>
<circle cx="194.52" cy="42.08" r="1.75" fill="#019c96" stroke="#019c96"/>
<circle cx="195.3" cy="44.99" r="1.75" fill="#058c96" stroke="#058c96"/>
<circle cx="209.5" cy="29.67" r="1.75" fill="#165f8e" stroke="#165f8e"/>
<circle cx="206.42" cy="29.64" r="1.75" fill="#097c96" stroke="#097c96"/>
<circle cx="200.86" cy="37.06" r="1.75" fill="#1ac261" stroke="#1ac261"/>
<circle cx="190.71" cy="50.43" r="1.75" fill="#53cf43" stroke="#53cf43"/>
<circle cx="203.09" cy="39.98" r="1.75" fill="#16618f" stroke="#16618f"/>
<circle cx="202.14" cy="42.05" r="1.75" fill="#274790" stroke="#274790"/>
<circle cx="195.05" cy="44.21" r="1.75" fill="#a9dc13" stroke="#a9dc13"/>
<circle cx="193.8" cy="44.48" r="1.75" fill="#e3e003" stroke="#e3e003"/>
<circle cx="191.37" cy="47.2" r="1.75" fill="#39308f" stroke="#39308f"/>
<circle cx="192.52" cy="51.63" r="1.75" fill="#2c4090" stroke="#2c4090"/>
<circle cx="202.04" cy="34.27" r="1.75" fill="#009d96" stroke="#009d96"/>
<circle cx="202.26" cy="38.33" r="1.75" fill="#009f95" stroke="#009f95"/>
<circle cx="196.83" cy="42.05" r="1.75" fill="#f2e101" stroke="#f2e101"/>
<circle cx="203.52" cy="34.27" r="1.75" fill="#41288d" stroke="#41288d"/>
<circle cx="195.83" cy="46.48" r="1.75" fill="#63077c" stroke="#63077c"/>
<circle cx="40.2" cy="34.07" r="1.75" fill="#00b57a" stroke="#00b57a"/>
<circle cx="46.34" cy="146.59" r="1.75" fill="#009e96" stroke="#009e96"/>
<circle cx="148.13" cy="95.1" r="1.75" fill="#00b872" stroke="#00b872"/>
<circle cx="106.01" cy="126.03" r="1.75" fill="#ccdf07" stroke="#ccdf07"/>
<circle cx="83.2" cy="148.6" r="1.75" fill="#2dc657" stroke="#2dc657"/>
<circle cx="84.95" cy="143.25" r="1.75" fill="#1d558f" stroke="#1d558f"/>
<circle cx="85.83" cy="140.24" r="1.75" fill="#551487" stroke="#551487"/>
<circle cx="64.77" cy="158.3" r="1.75" fill="#551487" stroke="#551487"/>
<circle cx="70.39" cy="160.97" r="1.75" fill="#284690" stroke="#284690"/>
<circle cx="74.77" cy="158.63" r="1.75" fill="#323791" stroke="#323791"/>
<circle cx="72.14" cy="164.99" r="1.75" fill="#323791" stroke="#323791"/>
<circle cx="67.05" cy="168.66" r="1.75" fill="#44268c" stroke="#44268c"/>
<circle cx="178.85" cy="52.96" r="1.75" fill="#009e96" stroke="#009e96"/>
<circle cx="189.02" cy="40.59" r="1.75" fill="#e5e003" stroke="#e5e003"/>
<circle cx="186.74" cy="57.48" r="1.75" fill="#284690" stroke="#284690"/>
<circle cx="188.5" cy="55.8" r="1.75" fill="#058b96" stroke="#058b96"/>
<circle cx="186.39" cy="50.29" r="1.75" fill="#91d921" stroke="#91d921"/>
<circle cx="187.62" cy="51.62" r="1.75" fill="#d8e005" stroke="#d8e005"/>
<circle cx="46.34" cy="184.55" r="1.75" fill="#551487" stroke="#551487"/>
<circle cx="46.52" cy="183.71" r="1.75" fill="#d8e005" stroke="#d8e005"/>
<circle cx="53.36" cy="177.86" r="1.75" fill="#d8e005" stroke="#d8e005"/>
<circle cx="62.66" cy="166.16" r="1.75" fill="#b9de0a" stroke="#b9de0a"/>
</g>
<path d="M40.2 194.5v2.3M31.55 190.4h-2.3M75.3 194.5v2.3M31.55 156.96h-2.3M110.4 194.5v2.3M31.55 123.52h-2.3M145.5 194.5v2.3M31.55 90.08h-2.3M180.6 194.5v2.3M31.55 56.64h-2.3M215.7 194.5v2.3M31.55 23.2h-2.3M240.35 159.58h2.3M240.35 124.46h2.3M240.35 89.34h2.3M240.35 54.22h2.3" stroke="#3a3a3a" stroke-width="0.8" fill="none"/>
<rect x="31.55" y="19.55" width="188.6" height="174.95" fill="none" stroke="#3a3a3a" stroke-width="0.9"/>
<rect x="231.65" y="19.55" width="8.7" height="174.95" fill="url(#vg)" stroke="none"/>
<rect x="231.65" y="19.55" width="8.7" height="174.95" fill="none" stroke="#3a3a3a" stroke-width="0.8"/>
<g font-family="'DejaVu Sans','Liberation Sans',sans-serif" fill="#000" stroke="#000" stroke-width="0.12">
<text x="126.15" y="15.2" font-size="7.93" text-anchor="middle">The correlation between two periods of CN to MCI</text>
<g font-size="6.7">
<text x="40.2" y="205.1" text-anchor="middle">0.0</text>
<text x="27.55" y="192.81" text-anchor="end">0.0</text>
<text x="75.3" y="205.1" text-anchor="middle">0.2</text>
<text x="27.55" y="159.37" text-anchor="end">0.2</text>
<text x="110.4" y="205.1" text-anchor="middle">0.4</text>
<text x="27.55" y="125.93" text-anchor="end">0.4</text>
<text x="145.5" y="205.1" text-anchor="middle">0.6</text>
<text x="27.55" y="92.49" text-anchor="end">0.6</text>
<text x="180.6" y="205.1" text-anchor="middle">0.8</text>
<text x="27.55" y="59.05" text-anchor="end">0.8</text>
<text x="215.7" y="205.1" text-anchor="middle">1.0</text>
<text x="27.55" y="25.61" text-anchor="end">1.0</text>
<text x="244.75" y="161.99">0.2</text>
<text x="244.75" y="126.87">0.4</text>
<text x="244.75" y="91.75">0.6</text>
<text x="244.75" y="56.63">0.8</text>
<text x="125.85" y="214" text-anchor="middle">Period 1</text>
<text transform="translate(11.5 107.03) rotate(-90)" text-anchor="middle">Period 2</text>
</g></g>
<text x="132" y="234.5" font-family="'Liberation Serif',serif" font-size="13.1" text-anchor="middle" fill="#000">(a) CN to CN</text></g>
<g><path d="M327.3 19.55V194.85M318.65 190.75H507.25M362.4 19.55V194.85M318.65 157.3H507.25M397.5 19.55V194.85M318.65 123.85H507.25M432.6 19.55V194.85M318.65 90.4H507.25M467.7 19.55V194.85M318.65 56.95H507.25M502.8 19.55V194.85M318.65 23.5H507.25" stroke="#b0b0b0" stroke-width="0.55" fill="none"/>
<g fill-opacity="0.6" stroke-opacity="0.6" stroke-width="1.25">
<circle cx="343.33" cy="176.31" r="1.75" fill="#00a88c" stroke="#00a88c"/>
<circle cx="337.28" cy="177.67" r="1.75" fill="#2bc658" stroke="#2bc658"/>
<circle cx="338.43" cy="181.44" r="1.75" fill="#00aa8a" stroke="#00aa8a"/>
<circle cx="344.79" cy="178.63" r="1.75" fill="#0a7996" stroke="#0a7996"/>
<circle cx="343.67" cy="176" r="1.75" fill="#32c854" stroke="#32c854"/>
<circle cx="337.78" cy="185.24" r="1.75" fill="#00aa8a" stroke="#00aa8a"/>
<circle cx="348.43" cy="169.4" r="1.75" fill="#048f96" stroke="#048f96"/>
<circle cx="344.13" cy="170.94" r="1.75" fill="#00ae86" stroke="#00ae86"/>
<circle cx="334.52" cy="181.73" r="1.75" fill="#00a193" stroke="#00a193"/>
<circle cx="342.24" cy="179" r="1.75" fill="#185d8e" stroke="#185d8e"/>
<circle cx="349.96" cy="169.71" r="1.75" fill="#03ba6c" stroke="#03ba6c"/>
<circle cx="333.97" cy="179.39" r="1.75" fill="#019996" stroke="#019996"/>
<circle cx="334.22" cy="182.88" r="1.75" fill="#84d728" stroke="#84d728"/>
<circle cx="341.76" cy="176.05" r="1.75" fill="#15c064" stroke="#15c064"/>
<circle cx="338.2" cy="176.96" r="1.75" fill="#009c96" stroke="#009c96"/>
<circle cx="333.19" cy="179.1" r="1.75" fill="#8fd922" stroke="#8fd922"/>
<circle cx="347.34" cy="167.09" r="1.75" fill="#00a68e" stroke="#00a68e"/>
<circle cx="333.09" cy="184.48" r="1.75" fill="#00a88c" stroke="#00a88c"/>
<circle cx="345.36" cy="171.51" r="1.75" fill="#0c7395" stroke="#0c7395"/>
<circle cx="347.5" cy="168.66" r="1.75" fill="#078496" stroke="#078496"/>
<circle cx="346.67" cy="172.66" r="1.75" fill="#1ac261" stroke="#1ac261"/>
<circle cx="338.58" cy="181.99" r="1.75" fill="#39308f" stroke="#39308f"/>
<circle cx="340.39" cy="177.31" r="1.75" fill="#087f96" stroke="#087f96"/>
<circle cx="343.78" cy="176.45" r="1.75" fill="#00a98b" stroke="#00a98b"/>
<circle cx="334.13" cy="183.95" r="1.75" fill="#049096" stroke="#049096"/>
<circle cx="350.74" cy="166.72" r="1.75" fill="#284690" stroke="#284690"/>
<circle cx="341.38" cy="170.81" r="1.75" fill="#38c951" stroke="#38c951"/>
<circle cx="345.06" cy="174.9" r="1.75" fill="#00a490" stroke="#00a490"/>
<circle cx="339.26" cy="178.91" r="1.75" fill="#087e96" stroke="#087e96"/>
<circle cx="344.94" cy="173.26" r="1.75" fill="#16618f" stroke="#16618f"/>
<circle cx="332.4" cy="184.43" r="1.75" fill="#00b677" stroke="#00b677"/>
<circle cx="340.71" cy="174.45" r="1.75" fill="#00a58f" stroke="#00a58f"/>
<circle cx="351.55" cy="167.4" r="1.75" fill="#38318f" stroke="#38318f"/>
<circle cx="349.1" cy="170.73" r="1.75" fill="#00ad87" stroke="#00ad87"/>
<circle cx="340.48" cy="181.56" r="1.75" fill="#146390" stroke="#146390"/>
<circle cx="344.21" cy="175.96" r="1.75" fill="#009f95" stroke="#009f95"/>
<circle cx="339.71" cy="176.76" r="1.75" fill="#b6de0c" stroke="#b6de0c"/>
<circle cx="339.55" cy="178.18" r="1.75" fill="#2c4090" stroke="#2c4090"/>
<circle cx="344.67" cy="175.72" r="1.75" fill="#244b8f" stroke="#244b8f"/>
<circle cx="337.53" cy="181.31" r="1.75" fill="#00a391" stroke="#00a391"/>
<circle cx="335.99" cy="181.82" r="1.75" fill="#00b380" stroke="#00b380"/>
<circle cx="343.52" cy="172.99" r="1.75" fill="#058d96" stroke="#058d96"/>
<circle cx="344.7" cy="174.61" r="1.75" fill="#195b8e" stroke="#195b8e"/>
<circle cx="337.21" cy="181.32" r="1.75" fill="#00b96e" stroke="#00b96e"/>
<circle cx="345.68" cy="176.75" r="1.75" fill="#088096" stroke="#088096"/>
<circle cx="341.23" cy="179.55" r="1.75" fill="#224e8f" stroke="#224e8f"/>
<circle cx="344.47" cy="169.17" r="1.75" fill="#00a193" stroke="#00a193"/>
<circle cx="348.82" cy="174.52" r="1.75" fill="#00b678" stroke="#00b678"/>
<circle cx="341.76" cy="176.92" r="1.75" fill="#14c064" stroke="#14c064"/>
<circle cx="343.91" cy="173.32" r="1.75" fill="#0dbd67" stroke="#0dbd67"/>
<circle cx="340.49" cy="178.31" r="1.75" fill="#323791" stroke="#323791"/>
<circle cx="337" cy="182.96" r="1.75" fill="#078296" stroke="#078296"/>
<circle cx="352.81" cy="165.02" r="1.75" fill="#70d533" stroke="#70d533"/>
<circle cx="341.29" cy="176.55" r="1.75" fill="#039496" stroke="#039496"/>
<circle cx="336.88" cy="181.22" r="1.75" fill="#00a193" stroke="#00a193"/>
<circle cx="344.48" cy="178.12" r="1.75" fill="#4d1c89" stroke="#4d1c89"/>
<circle cx="341.86" cy="176.34" r="1.75" fill="#00a490" stroke="#00a490"/>
<circle cx="337.71" cy="182.36" r="1.75" fill="#00af85" stroke="#00af85"/>
<circle cx="335.81" cy="183.5" r="1.75" fill="#00ab89" stroke="#00ab89"/>
<circle cx="333.49" cy="183.86" r="1.75" fill="#2a4290" stroke="#2a4290"/>
<circle cx="337.08" cy="179.16" r="1.75" fill="#019c96" stroke="#019c96"/>
<circle cx="334.79" cy="180.82" r="1.75" fill="#00aa8a" stroke="#00aa8a"/>
<circle cx="335.75" cy="183.43" r="1.75" fill="#18c162" stroke="#18c162"/>
<circle cx="332.83" cy="182.74" r="1.75" fill="#91d921" stroke="#91d921"/>
<circle cx="339.73" cy="175.11" r="1.75" fill="#00ab89" stroke="#00ab89"/>
<circle cx="346.75" cy="168.09" r="1.75" fill="#43cb4b" stroke="#43cb4b"/>
<circle cx="341.75" cy="172.51" r="1.75" fill="#19c162" stroke="#19c162"/>
<circle cx="336.66" cy="181.61" r="1.75" fill="#00b676" stroke="#00b676"/>
<circle cx="338.03" cy="180.29" r="1.75" fill="#019c96" stroke="#019c96"/>
<circle cx="340.96" cy="174.76" r="1.75" fill="#126891" stroke="#126891"/>
<circle cx="338.45" cy="182.91" r="1.75" fill="#02ba6d" stroke="#02ba6d"/>
<circle cx="343.32" cy="173.94" r="1.75" fill="#116a92" stroke="#116a92"/>
<circle cx="343.58" cy="175.58" r="1.75" fill="#234d8f" stroke="#234d8f"/>
<circle cx="343.58" cy="175.17" r="1.75" fill="#00b871" stroke="#00b871"/>
<circle cx="349.76" cy="172.42" r="1.75" fill="#1e538f" stroke="#1e538f"/>
<circle cx="337.95" cy="182.2" r="1.75" fill="#2b4090" stroke="#2b4090"/>
<circle cx="339.82" cy="178.08" r="1.75" fill="#029796" stroke="#029796"/>
<circle cx="338.96" cy="176.62" r="1.75" fill="#00a490" stroke="#00a490"/>
<circle cx="334.63" cy="180.75" r="1.75" fill="#106c92" stroke="#106c92"/>
<circle cx="338.65" cy="179.42" r="1.75" fill="#00a58f" stroke="#00a58f"/>
<circle cx="346.91" cy="171.33" r="1.75" fill="#00ae86" stroke="#00ae86"/>
<circle cx="350.33" cy="169.51" r="1.75" fill="#3c2d8e" stroke="#3c2d8e"/>
<circle cx="347.18" cy="169.54" r="1.75" fill="#1e548f" stroke="#1e548f"/>
<circle cx="334.63" cy="183.92" r="1.75" fill="#343590" stroke="#343590"/>
<circle cx="343.74" cy="172.5" r="1.75" fill="#00b084" stroke="#00b084"/>
<circle cx="331.08" cy="182.39" r="1.75" fill="#d9e005" stroke="#d9e005"/>
<circle cx="338.36" cy="179.59" r="1.75" fill="#019b96" stroke="#019b96"/>
<circle cx="341.2" cy="180.46" r="1.75" fill="#00ad87" stroke="#00ad87"/>
<circle cx="342.52" cy="177.5" r="1.75" fill="#15628f" stroke="#15628f"/>
<circle cx="349.99" cy="171.46" r="1.75" fill="#078496" stroke="#078496"/>
<circle cx="350.96" cy="169.81" r="1.75" fill="#00a391" stroke="#00a391"/>
<circle cx="349.59" cy="164.78" r="1.75" fill="#82d729" stroke="#82d729"/>
<circle cx="333.8" cy="183.54" r="1.75" fill="#0a7896" stroke="#0a7896"/>
<circle cx="339.68" cy="182.06" r="1.75" fill="#078396" stroke="#078396"/>
<circle cx="338.98" cy="177.2" r="1.75" fill="#0dbd68" stroke="#0dbd68"/>
<circle cx="345.91" cy="168.63" r="1.75" fill="#c6df08" stroke="#c6df08"/>
<circle cx="342.46" cy="176.27" r="1.75" fill="#00af85" stroke="#00af85"/>
<circle cx="335.98" cy="183.65" r="1.75" fill="#264890" stroke="#264890"/>
<circle cx="349.09" cy="169.51" r="1.75" fill="#1ac261" stroke="#1ac261"/>
<circle cx="339.08" cy="178.05" r="1.75" fill="#175e8e" stroke="#175e8e"/>
<circle cx="333.46" cy="182.83" r="1.75" fill="#088096" stroke="#088096"/>
<circle cx="331.44" cy="183.49" r="1.75" fill="#00ac88" stroke="#00ac88"/>
<circle cx="342.92" cy="171.78" r="1.75" fill="#009e96" stroke="#009e96"/>
<circle cx="341.59" cy="173.2" r="1.75" fill="#9cda1a" stroke="#9cda1a"/>
<circle cx="331.36" cy="183.1" r="1.75" fill="#67d438" stroke="#67d438"/>
<circle cx="348.92" cy="167.11" r="1.75" fill="#029796" stroke="#029796"/>
<circle cx="343.18" cy="178.54" r="1.75" fill="#0f6d93" stroke="#0f6d93"/>
<circle cx="346.06" cy="172.04" r="1.75" fill="#15628f" stroke="#15628f"/>
<circle cx="344.63" cy="172.35" r="1.75" fill="#1d558f" stroke="#1d558f"/>
<circle cx="338.69" cy="180.15" r="1.75" fill="#106b92" stroke="#106b92"/>
<circle cx="336.97" cy="178.58" r="1.75" fill="#097e96" stroke="#097e96"/>
<circle cx="342.08" cy="176.66" r="1.75" fill="#039296" stroke="#039296"/>
<circle cx="337.23" cy="183.02" r="1.75" fill="#039396" stroke="#039396"/>
<circle cx="343.13" cy="170.97" r="1.75" fill="#1cc260" stroke="#1cc260"/>
<circle cx="335.38" cy="180.82" r="1.75" fill="#00a78d" stroke="#00a78d"/>
<circle cx="335.7" cy="181.64" r="1.75" fill="#7bd62d" stroke="#7bd62d"/>
<circle cx="344.91" cy="170.5" r="1.75" fill="#009d96" stroke="#009d96"/>
<circle cx="340.08" cy="175.04" r="1.75" fill="#0f6d93" stroke="#0f6d93"/>
<circle cx="333.45" cy="183.6" r="1.75" fill="#0b7695" stroke="#0b7695"/>
<circle cx="343.84" cy="179.6" r="1.75" fill="#02ba6d" stroke="#02ba6d"/>
<circle cx="340.81" cy="178.75" r="1.75" fill="#15c063" stroke="#15c063"/>
<circle cx="349.18" cy="169.72" r="1.75" fill="#146590" stroke="#146590"/>
<circle cx="345.75" cy="174.54" r="1.75" fill="#00a490" stroke="#00a490"/>
<circle cx="342.16" cy="175.15" r="1.75" fill="#009d96" stroke="#009d96"/>
<circle cx="346.7" cy="168" r="1.75" fill="#0dbd67" stroke="#0dbd67"/>
<circle cx="334.1" cy="185.06" r="1.75" fill="#039496" stroke="#039496"/>
<circle cx="342.56" cy="178.16" r="1.75" fill="#00ac88" stroke="#00ac88"/>
<circle cx="344.31" cy="168.28" r="1.75" fill="#97da1d" stroke="#97da1d"/>
<circle cx="344.82" cy="174.12" r="1.75" fill="#00a094" stroke="#00a094"/>
<circle cx="338.21" cy="182.82" r="1.75" fill="#078496" stroke="#078496"/>
<circle cx="344.34" cy="172.84" r="1.75" fill="#0f6e93" stroke="#0f6e93"/>
<circle cx="338.01" cy="178.77" r="1.75" fill="#00ae86" stroke="#00ae86"/>
<circle cx="345.2" cy="174.39" r="1.75" fill="#00a490" stroke="#00a490"/>
<circle cx="331.9" cy="184.02" r="1.75" fill="#195b8e" stroke="#195b8e"/>
<circle cx="344.16" cy="174.88" r="1.75" fill="#0b7595" stroke="#0b7595"/>
<circle cx="345.26" cy="174.88" r="1.75" fill="#16608f" stroke="#16608f"/>
<circle cx="343.55" cy="173.79" r="1.75" fill="#00a391" stroke="#00a391"/>
<circle cx="332.72" cy="183.24" r="1.75" fill="#00b870" stroke="#00b870"/>
<circle cx="344.94" cy="174.47" r="1.75" fill="#0fbe66" stroke="#0fbe66"/>
<circle cx="349.49" cy="167.38" r="1.75" fill="#65d339" stroke="#65d339"/>
<circle cx="345.35" cy="172.67" r="1.75" fill="#088196" stroke="#088196"/>
<circle cx="348.13" cy="163.97" r="1.75" fill="#00ac88" stroke="#00ac88"/>
<circle cx="340.42" cy="179.23" r="1.75" fill="#00ab89" stroke="#00ab89"/>
<circle cx="346.39" cy="167.83" r="1.75" fill="#087f96" stroke="#087f96"/>
<circle cx="334.75" cy="183.3" r="1.75" fill="#068796" stroke="#068796"/>
<circle cx="345.38" cy="172.72" r="1.75" fill="#00b96f" stroke="#00b96f"/>
<circle cx="339.68" cy="176.32" r="1.75" fill="#16608f" stroke="#16608f"/>
<circle cx="343.08" cy="172.44" r="1.75" fill="#234d8f" stroke="#234d8f"/>
<circle cx="340.94" cy="173.65" r="1.75" fill="#078596" stroke="#078596"/>
<circle cx="342.8" cy="174.16" r="1.75" fill="#039396" stroke="#039396"/>
<circle cx="339.16" cy="180.24" r="1.75" fill="#2f3b91" stroke="#2f3b91"/>
<circle cx="354.12" cy="164.92" r="1.75" fill="#009f95" stroke="#009f95"/>
<circle cx="337.61" cy="178.96" r="1.75" fill="#20528f" stroke="#20528f"/>
<circle cx="339.08" cy="177.28" r="1.75" fill="#2a4390" stroke="#2a4390"/>
<circle cx="334.1" cy="180.24" r="1.75" fill="#28c559" stroke="#28c559"/>
<circle cx="336.5" cy="180.32" r="1.75" fill="#3dca4f" stroke="#3dca4f"/>
<circle cx="346.34" cy="168.71" r="1.75" fill="#96da1d" stroke="#96da1d"/>
<circle cx="348.78" cy="165.06" r="1.75" fill="#078596" stroke="#078596"/>
<circle cx="349.47" cy="167.83" r="1.75" fill="#078496" stroke="#078496"/>
<circle cx="347.51" cy="174.05" r="1.75" fill="#00a094" stroke="#00a094"/>
<circle cx="345.75" cy="175.04" r="1.75" fill="#353490" stroke="#353490"/>
<circle cx="341.69" cy="179.81" r="1.75" fill="#078596" stroke="#078596"/>
<circle cx="335.74" cy="178.08" r="1.75" fill="#3cca4f" stroke="#3cca4f"/>
<circle cx="346.15" cy="173.79" r="1.75" fill="#313991" stroke="#313991"/>
<circle cx="338.16" cy="176.56" r="1.75" fill="#00a78d" stroke="#00a78d"/>
<circle cx="341.98" cy="174.34" r="1.75" fill="#00b872" stroke="#00b872"/>
<circle cx="343.21" cy="170.19" r="1.75" fill="#4ccd46" stroke="#4ccd46"/>
<circle cx="335.15" cy="180.19" r="1.75" fill="#00b282" stroke="#00b282"/>
<circle cx="343.78" cy="174.28" r="1.75" fill="#165f8e" stroke="#165f8e"/>
<circle cx="341.2" cy="177.14" r="1.75" fill="#254a90" stroke="#254a90"/>
<circle cx="342.45" cy="175.14" r="1.75" fill="#00b96f" stroke="#00b96f"/>
<circle cx="348.5" cy="168.78" r="1.75" fill="#a4db16" stroke="#a4db16"/>
<circle cx="350.71" cy="168.35" r="1.75" fill="#019a96" stroke="#019a96"/>
<circle cx="349.85" cy="167.95" r="1.75" fill="#00ad87" stroke="#00ad87"/>
<circle cx="343.5" cy="170.17" r="1.75" fill="#09bc69" stroke="#09bc69"/>
<circle cx="347.72" cy="174.38" r="1.75" fill="#048e96" stroke="#048e96"/>
<circle cx="338.04" cy="179.17" r="1.75" fill="#2ac659" stroke="#2ac659"/>
<circle cx="352.45" cy="167.56" r="1.75" fill="#048e96" stroke="#048e96"/>
<circle cx="339.59" cy="177.78" r="1.75" fill="#0dbd68" stroke="#0dbd68"/>
<circle cx="331.48" cy="184.33" r="1.75" fill="#058b96" stroke="#058b96"/>
<circle cx="353.22" cy="164.6" r="1.75" fill="#3f2a8d" stroke="#3f2a8d"/>
<circle cx="334.41" cy="181.52" r="1.75" fill="#00a292" stroke="#00a292"/>
<circle cx="343.79" cy="178.08" r="1.75" fill="#116992" stroke="#116992"/>
<circle cx="340.45" cy="174.55" r="1.75" fill="#00a391" stroke="#00a391"/>
<circle cx="333.63" cy="185.84" r="1.75" fill="#106d92" stroke="#106d92"/>
<circle cx="348.28" cy="167.86" r="1.75" fill="#1b588e" stroke="#1b588e"/>
<circle cx="341.91" cy="175.44" r="1.75" fill="#00a094" stroke="#00a094"/>
<circle cx="346.98" cy="176.41" r="1.75" fill="#00b872" stroke="#00b872"/>
<circle cx="350.89" cy="168.75" r="1.75" fill="#00a88c" stroke="#00a88c"/>
<circle cx="344.93" cy="172.28" r="1.75" fill="#097b96" stroke="#097b96"/>
<circle cx="335.61" cy="178.31" r="1.75" fill="#5fd23c" stroke="#5fd23c"/>
<circle cx="336.81" cy="180.34" r="1.75" fill="#029896" stroke="#029896"/>
<circle cx="335.93" cy="181.31" r="1.75" fill="#00a490" stroke="#00a490"/>
<circle cx="346.06" cy="175.32" r="1.75" fill="#146490" stroke="#146490"/>
<circle cx="337.38" cy="176.83" r="1.75" fill="#00b47d" stroke="#00b47d"/>
<circle cx="334.76" cy="178.52" r="1.75" fill="#00b380" stroke="#00b380"/>
<circle cx="343.55" cy="174.18" r="1.75" fill="#17c163" stroke="#17c163"/>
<circle cx="337.61" cy="180.83" r="1.75" fill="#2cc658" stroke="#2cc658"/>
<circle cx="340.81" cy="181.18" r="1.75" fill="#5e0b7f" stroke="#5e0b7f"/>
<circle cx="339.36" cy="176.23" r="1.75" fill="#67d438" stroke="#67d438"/>
<circle cx="341.92" cy="170.26" r="1.75" fill="#068896" stroke="#068896"/>
<circle cx="334.19" cy="181.89" r="1.75" fill="#0dbd68" stroke="#0dbd68"/>
<circle cx="333.16" cy="181.54" r="1.75" fill="#00b872" stroke="#00b872"/>
<circle cx="333.28" cy="183.27" r="1.75" fill="#39308f" stroke="#39308f"/>
<circle cx="341" cy="179.35" r="1.75" fill="#00aa8a" stroke="#00aa8a"/>
<circle cx="333.36" cy="181.14" r="1.75" fill="#00b678" stroke="#00b678"/>
<circle cx="338.43" cy="182.6" r="1.75" fill="#45248c" stroke="#45248c"/>
<circle cx="343.45" cy="174.89" r="1.75" fill="#00ab89" stroke="#00ab89"/>
<circle cx="345.51" cy="171.55" r="1.75" fill="#284590" stroke="#284590"/>
<circle cx="349.06" cy="166.41" r="1.75" fill="#116991" stroke="#116991"/>
<circle cx="344.5" cy="172.22" r="1.75" fill="#0fbe67" stroke="#0fbe67"/>
<circle cx="348.56" cy="168.18" r="1.75" fill="#3dca4e" stroke="#3dca4e"/>
<circle cx="344.02" cy="175.72" r="1.75" fill="#0d7294" stroke="#0d7294"/>
<circle cx="347.64" cy="173.41" r="1.75" fill="#0a7996" stroke="#0a7996"/>
<circle cx="344.88" cy="172.75" r="1.75" fill="#00ae86" stroke="#00ae86"/>
<circle cx="353.21" cy="166.28" r="1.75" fill="#00b084" stroke="#00b084"/>
<circle cx="339.09" cy="182.12" r="1.75" fill="#00ab89" stroke="#00ab89"/>
<circle cx="343.31" cy="177.74" r="1.75" fill="#0e7093" stroke="#0e7093"/>
<circle cx="344.68" cy="174.36" r="1.75" fill="#00ac88" stroke="#00ac88"/>
<circle cx="338.23" cy="184.39" r="1.75" fill="#1a598e" stroke="#1a598e"/>
<circle cx="341.95" cy="179.32" r="1.75" fill="#165f8e" stroke="#165f8e"/>
<circle cx="342.87" cy="179.13" r="1.75" fill="#1e548f" stroke="#1e548f"/>
<circle cx="335" cy="182.45" r="1.75" fill="#2cc658" stroke="#2cc658"/>
<circle cx="337.82" cy="179" r="1.75" fill="#048d96" stroke="#048d96"/>
<circle cx="343.51" cy="169.15" r="1.75" fill="#00ac88" stroke="#00ac88"/>
<circle cx="349.92" cy="171.64" r="1.75" fill="#04ba6c" stroke="#04ba6c"/>
<circle cx="341.2" cy="178.37" r="1.75" fill="#00b579" stroke="#00b579"/>
<circle cx="341.15" cy="174.34" r="1.75" fill="#00b678" stroke="#00b678"/>
<circle cx="336.62" cy="181.83" r="1.75" fill="#00a094" stroke="#00a094"/>
<circle cx="338.94" cy="179.76" r="1.75" fill="#078396" stroke="#078396"/>
<circle cx="334.66" cy="178.88" r="1.75" fill="#46cc4a" stroke="#46cc4a"/>
<circle cx="342.44" cy="176.24" r="1.75" fill="#1f538f" stroke="#1f538f"/>
<circle cx="337.83" cy="183" r="1.75" fill="#274690" stroke="#274690"/>
<circle cx="338.08" cy="183.17" r="1.75" fill="#00b96e" stroke="#00b96e"/>
<circle cx="345.46" cy="171.45" r="1.75" fill="#00b281" stroke="#00b281"/>
<circle cx="342.77" cy="174.26" r="1.75" fill="#00a391" stroke="#00a391"/>
<circle cx="345.02" cy="176.28" r="1.75" fill="#078496" stroke="#078496"/>
<circle cx="339.64" cy="180.73" r="1.75" fill="#116991" stroke="#116991"/>
<circle cx="345.96" cy="170.43" r="1.75" fill="#068896" stroke="#068896"/>
<circle cx="345.19" cy="171.11" r="1.75" fill="#097c96" stroke="#097c96"/>
<circle cx="343.6" cy="175.85" r="1.75" fill="#294390" stroke="#294390"/>
<circle cx="350.88" cy="165.23" r="1.75" fill="#00b37e" stroke="#00b37e"/>
<circle cx="336.17" cy="180.26" r="1.75" fill="#019996" stroke="#019996"/>
<circle cx="349.42" cy="172.88" r="1.75" fill="#00a094" stroke="#00a094"/>
<circle cx="342.14" cy="176.48" r="1.75" fill="#058d96" stroke="#058d96"/>
<circle cx="339.92" cy="176.86" r="1.75" fill="#0e7094" stroke="#0e7094"/>
<circle cx="346.02" cy="173.21" r="1.75" fill="#39c950" stroke="#39c950"/>
<circle cx="347.39" cy="175.84" r="1.75" fill="#058c96" stroke="#058c96"/>
<circle cx="343.23" cy="175.3" r="1.75" fill="#009f95" stroke="#009f95"/>
<circle cx="336.13" cy="179.84" r="1.75" fill="#0c7495" stroke="#0c7495"/>
<circle cx="348.01" cy="165.68" r="1.75" fill="#00a490" stroke="#00a490"/>
<circle cx="345.97" cy="177.41" r="1.75" fill="#294490" stroke="#294490"/>
<circle cx="338.47" cy="173.76" r="1.75" fill="#49cd48" stroke="#49cd48"/>
<circle cx="339.95" cy="180.79" r="1.75" fill="#058c96" stroke="#058c96"/>
<circle cx="336.33" cy="179.11" r="1.75" fill="#67d438" stroke="#67d438"/>
<circle cx="338.94" cy="175.75" r="1.75" fill="#00b47c" stroke="#00b47c"/>
<circle cx="334.31" cy="181.09" r="1.75" fill="#126791" stroke="#126791"/>
<circle cx="342.82" cy="174.6" r="1.75" fill="#078396" stroke="#078396"/>
<circle cx="338.84" cy="181.99" r="1.75" fill="#00a094" stroke="#00a094"/>
<circle cx="349.78" cy="166.33" r="1.75" fill="#14c064" stroke="#14c064"/>
<circle cx="349.26" cy="170.3" r="1.75" fill="#136690" stroke="#136690"/>
<circle cx="335.91" cy="187.63" r="1.75" fill="#5e0b80" stroke="#5e0b80"/>
<circle cx="334.15" cy="178.14" r="1.75" fill="#d2df06" stroke="#d2df06"/>
<circle cx="334.4" cy="181.71" r="1.75" fill="#009c96" stroke="#009c96"/>
<circle cx="344.59" cy="168.53" r="1.75" fill="#01b96e" stroke="#01b96e"/>
<circle cx="334.37" cy="185.88" r="1.75" fill="#363390" stroke="#363390"/>
<circle cx="349.69" cy="164.27" r="1.75" fill="#00a88c" stroke="#00a88c"/>
<circle cx="347.56" cy="166.11" r="1.75" fill="#009e96" stroke="#009e96"/>
<circle cx="337.25" cy="176.65" r="1.75" fill="#27c55a" stroke="#27c55a"/>
<circle cx="350.88" cy="166.88" r="1.75" fill="#058d96" stroke="#058d96"/>
<circle cx="338.76" cy="182.18" r="1.75" fill="#0f6e93" stroke="#0f6e93"/>
<circle cx="337.36" cy="180.97" r="1.75" fill="#019c96" stroke="#019c96"/>
<circle cx="335.81" cy="187.73" r="1.75" fill="#039296" stroke="#039296"/>
<circle cx="338.47" cy="183.76" r="1.75" fill="#40298d" stroke="#40298d"/>
<circle cx="337.73" cy="179.91" r="1.75" fill="#048f96" stroke="#048f96"/>
<circle cx="340.59" cy="179.79" r="1.75" fill="#63d33a" stroke="#63d33a"/>
<circle cx="339.3" cy="178.98" r="1.75" fill="#46cc4a" stroke="#46cc4a"/>
<circle cx="343.55" cy="174.53" r="1.75" fill="#0d7394" stroke="#0d7394"/>
<circle cx="337.38" cy="175.55" r="1.75" fill="#00a88c" stroke="#00a88c"/>
<circle cx="338.38" cy="176.16" r="1.75" fill="#abdc12" stroke="#abdc12"/>
<circle cx="484.46" cy="41.47" r="1.75" fill="#00b676" stroke="#00b676"/>
<circle cx="484.87" cy="43.45" r="1.75" fill="#0c7495" stroke="#0c7495"/>
<circle cx="492.97" cy="38.56" r="1.75" fill="#2f3c91" stroke="#2f3c91"/>
<circle cx="489.82" cy="38.77" r="1.75" fill="#049096" stroke="#049096"/>
<circle cx="497.17" cy="31.25" r="1.75" fill="#531688" stroke="#531688"/>
<circle cx="484.86" cy="41.33" r="1.75" fill="#05bb6c" stroke="#05bb6c"/>
<circle cx="493.73" cy="31.87" r="1.75" fill="#0b7695" stroke="#0b7695"/>
<circle cx="487.58" cy="41.43" r="1.75" fill="#048e96" stroke="#048e96"/>
<circle cx="488.34" cy="39.41" r="1.75" fill="#5e0b80" stroke="#5e0b80"/>
<circle cx="484.8" cy="38.11" r="1.75" fill="#e1e004" stroke="#e1e004"/>
<circle cx="489.84" cy="39.26" r="1.75" fill="#0a7896" stroke="#0a7896"/>
<circle cx="485" cy="44.72" r="1.75" fill="#19c161" stroke="#19c161"/>
<circle cx="482.91" cy="45.24" r="1.75" fill="#00a490" stroke="#00a490"/>
<circle cx="485.39" cy="43.67" r="1.75" fill="#343590" stroke="#343590"/>
<circle cx="493.61" cy="33.46" r="1.75" fill="#068796" stroke="#068796"/>
<circle cx="487.45" cy="37.91" r="1.75" fill="#363390" stroke="#363390"/>
<circle cx="484.27" cy="38.26" r="1.75" fill="#00a58f" stroke="#00a58f"/>
<circle cx="495.08" cy="35.49" r="1.75" fill="#088096" stroke="#088096"/>
<circle cx="495.47" cy="30.18" r="1.75" fill="#106d93" stroke="#106d93"/>
<circle cx="492.06" cy="33.94" r="1.75" fill="#00ab89" stroke="#00ab89"/>
<circle cx="490.37" cy="36.24" r="1.75" fill="#4c1d89" stroke="#4c1d89"/>
<circle cx="486.43" cy="41.06" r="1.75" fill="#00b183" stroke="#00b183"/>
<circle cx="494.63" cy="32.03" r="1.75" fill="#097c96" stroke="#097c96"/>
<circle cx="485.17" cy="39.23" r="1.75" fill="#1cc260" stroke="#1cc260"/>
<circle cx="487.41" cy="40.7" r="1.75" fill="#00b676" stroke="#00b676"/>
<circle cx="481.55" cy="46.52" r="1.75" fill="#078496" stroke="#078496"/>
<circle cx="496.16" cy="29.33" r="1.75" fill="#048f96" stroke="#048f96"/>
<circle cx="476.96" cy="51.16" r="1.75" fill="#afdd0f" stroke="#afdd0f"/>
<circle cx="483.94" cy="43.88" r="1.75" fill="#078296" stroke="#078296"/>
<circle cx="495.07" cy="27.84" r="1.75" fill="#0a7996" stroke="#0a7996"/>
<circle cx="492.09" cy="34.05" r="1.75" fill="#16618f" stroke="#16618f"/>
<circle cx="481.93" cy="45.25" r="1.75" fill="#294590" stroke="#294590"/>
<circle cx="487.56" cy="39.38" r="1.75" fill="#244b8f" stroke="#244b8f"/>
<circle cx="478.32" cy="52.65" r="1.75" fill="#0a7896" stroke="#0a7896"/>
<circle cx="484.67" cy="44.86" r="1.75" fill="#058b96" stroke="#058b96"/>
<circle cx="488.66" cy="40.87" r="1.75" fill="#26c55b" stroke="#26c55b"/>
<circle cx="486.56" cy="39.87" r="1.75" fill="#30c756" stroke="#30c756"/>
<circle cx="483.15" cy="46.29" r="1.75" fill="#373290" stroke="#373290"/>
<circle cx="489.9" cy="39.47" r="1.75" fill="#0d7294" stroke="#0d7294"/>
<circle cx="490.83" cy="34.82" r="1.75" fill="#00b57a" stroke="#00b57a"/>
<circle cx="480.54" cy="45.89" r="1.75" fill="#46238b" stroke="#46238b"/>
<circle cx="491.65" cy="39.38" r="1.75" fill="#15628f" stroke="#15628f"/>
<circle cx="492.46" cy="28.94" r="1.75" fill="#f2e101" stroke="#f2e101"/>
<circle cx="493.34" cy="32.5" r="1.75" fill="#15628f" stroke="#15628f"/>
<circle cx="484.52" cy="43.04" r="1.75" fill="#8ad824" stroke="#8ad824"/>
<circle cx="491.93" cy="31.28" r="1.75" fill="#01b96e" stroke="#01b96e"/>
<circle cx="486.77" cy="39.96" r="1.75" fill="#1a5a8e" stroke="#1a5a8e"/>
<circle cx="491.32" cy="36.58" r="1.75" fill="#00b578" stroke="#00b578"/>
<circle cx="491.77" cy="28.34" r="1.75" fill="#f2e101" stroke="#f2e101"/>
<circle cx="484.33" cy="45.93" r="1.75" fill="#264890" stroke="#264890"/>
<circle cx="477.83" cy="50.73" r="1.75" fill="#13bf64" stroke="#13bf64"/>
<circle cx="490.69" cy="33.3" r="1.75" fill="#dbe005" stroke="#dbe005"/>
<circle cx="491.27" cy="37.92" r="1.75" fill="#048e96" stroke="#048e96"/>
<circle cx="481.44" cy="46.58" r="1.75" fill="#264890" stroke="#264890"/>
<circle cx="490.44" cy="34.85" r="1.75" fill="#00a094" stroke="#00a094"/>
<circle cx="485.58" cy="35.46" r="1.75" fill="#00ad87" stroke="#00ad87"/>
<circle cx="487.65" cy="41.59" r="1.75" fill="#00b677" stroke="#00b677"/>
<circle cx="492.7" cy="33.45" r="1.75" fill="#097c96" stroke="#097c96"/>
<circle cx="490.45" cy="34.1" r="1.75" fill="#00b47c" stroke="#00b47c"/>
<circle cx="487.11" cy="39.54" r="1.75" fill="#00a292" stroke="#00a292"/>
<circle cx="481.61" cy="49.41" r="1.75" fill="#244c8f" stroke="#244c8f"/>
<circle cx="489.42" cy="35.98" r="1.75" fill="#1b588e" stroke="#1b588e"/>
<circle cx="482.87" cy="44.36" r="1.75" fill="#058c96" stroke="#058c96"/>
<circle cx="479.78" cy="46.98" r="1.75" fill="#6ad436" stroke="#6ad436"/>
<circle cx="479.45" cy="45.47" r="1.75" fill="#009c96" stroke="#009c96"/>
<circle cx="482.12" cy="42.72" r="1.75" fill="#72d532" stroke="#72d532"/>
<circle cx="487.08" cy="38.68" r="1.75" fill="#3e2b8e" stroke="#3e2b8e"/>
<circle cx="486.83" cy="39.23" r="1.75" fill="#0abc69" stroke="#0abc69"/>
<circle cx="493.09" cy="35.9" r="1.75" fill="#3c2d8e" stroke="#3c2d8e"/>
<circle cx="495.71" cy="30.22" r="1.75" fill="#00b282" stroke="#00b282"/>
<circle cx="481.36" cy="45.78" r="1.75" fill="#00a58f" stroke="#00a58f"/>
<circle cx="487.55" cy="40.36" r="1.75" fill="#039296" stroke="#039296"/>
<circle cx="478.88" cy="48.97" r="1.75" fill="#23c45d" stroke="#23c45d"/>
<circle cx="488.01" cy="41" r="1.75" fill="#039496" stroke="#039496"/>
<circle cx="478.99" cy="44.88" r="1.75" fill="#41cb4c" stroke="#41cb4c"/>
<circle cx="488.64" cy="32.06" r="1.75" fill="#dbe005" stroke="#dbe005"/>
<circle cx="491.37" cy="35.93" r="1.75" fill="#224e8f" stroke="#224e8f"/>
<circle cx="496.47" cy="27.88" r="1.75" fill="#35c853" stroke="#35c853"/>
<circle cx="490.46" cy="36.55" r="1.75" fill="#00a094" stroke="#00a094"/>
<circle cx="488.44" cy="34.75" r="1.75" fill="#20518f" stroke="#20518f"/>
<circle cx="490.64" cy="34.49" r="1.75" fill="#029796" stroke="#029796"/>
<circle cx="482.5" cy="44.86" r="1.75" fill="#3dca4e" stroke="#3dca4e"/>
<circle cx="484.13" cy="43.81" r="1.75" fill="#a1db18" stroke="#a1db18"/>
<circle cx="493.01" cy="32.62" r="1.75" fill="#71d533" stroke="#71d533"/>
<circle cx="491.07" cy="37.95" r="1.75" fill="#5b0e82" stroke="#5b0e82"/>
<circle cx="481.43" cy="44.45" r="1.75" fill="#0e6f93" stroke="#0e6f93"/>
<circle cx="491.46" cy="36.72" r="1.75" fill="#116991" stroke="#116991"/>
<circle cx="492.14" cy="32.5" r="1.75" fill="#82d729" stroke="#82d729"/>
<circle cx="485.97" cy="40.71" r="1.75" fill="#00a292" stroke="#00a292"/>
<circle cx="493.23" cy="29.7" r="1.75" fill="#0ebe67" stroke="#0ebe67"/>
<circle cx="495.21" cy="30.48" r="1.75" fill="#00a78d" stroke="#00a78d"/>
<circle cx="492.34" cy="30.92" r="1.75" fill="#27c55a" stroke="#27c55a"/>
<circle cx="492.18" cy="36.46" r="1.75" fill="#323791" stroke="#323791"/>
<circle cx="492.3" cy="32.1" r="1.75" fill="#078396" stroke="#078396"/>
<circle cx="480.6" cy="47.88" r="1.75" fill="#13bf64" stroke="#13bf64"/>
<circle cx="491.3" cy="34.4" r="1.75" fill="#00b870" stroke="#00b870"/>
<circle cx="489.01" cy="37.37" r="1.75" fill="#00a490" stroke="#00a490"/>
<circle cx="489.66" cy="34.24" r="1.75" fill="#00b47b" stroke="#00b47b"/>
<circle cx="482.12" cy="51.07" r="1.75" fill="#00b282" stroke="#00b282"/>
<circle cx="492.78" cy="32.33" r="1.75" fill="#00b57b" stroke="#00b57b"/>
<circle cx="486.09" cy="45.06" r="1.75" fill="#254a90" stroke="#254a90"/>
<circle cx="481.95" cy="42.38" r="1.75" fill="#dae005" stroke="#dae005"/>
<circle cx="496.07" cy="34.87" r="1.75" fill="#660479" stroke="#660479"/>
<circle cx="486.17" cy="43.61" r="1.75" fill="#0f6e93" stroke="#0f6e93"/>
<circle cx="487.62" cy="43.79" r="1.75" fill="#00ad87" stroke="#00ad87"/>
<circle cx="486.85" cy="35.55" r="1.75" fill="#029896" stroke="#029896"/>
<circle cx="488.88" cy="41.27" r="1.75" fill="#00a292" stroke="#00a292"/>
<circle cx="482.52" cy="44.74" r="1.75" fill="#20518f" stroke="#20518f"/>
<circle cx="488.77" cy="39.32" r="1.75" fill="#00a193" stroke="#00a193"/>
<circle cx="479.74" cy="53.21" r="1.75" fill="#660479" stroke="#660479"/>
<circle cx="483.48" cy="44.87" r="1.75" fill="#0b7695" stroke="#0b7695"/>
<circle cx="475.57" cy="51.23" r="1.75" fill="#00a98b" stroke="#00a98b"/>
<circle cx="484.68" cy="43.06" r="1.75" fill="#42278c" stroke="#42278c"/>
<circle cx="492.34" cy="31.15" r="1.75" fill="#cadf07" stroke="#cadf07"/>
<circle cx="495.56" cy="31.02" r="1.75" fill="#31c755" stroke="#31c755"/>
<circle cx="497.29" cy="28.02" r="1.75" fill="#2a4390" stroke="#2a4390"/>
<circle cx="495.64" cy="31" r="1.75" fill="#039296" stroke="#039296"/>
<circle cx="487.65" cy="38.19" r="1.75" fill="#59d040" stroke="#59d040"/>
<circle cx="488.34" cy="33.11" r="1.75" fill="#f1e101" stroke="#f1e101"/>
<circle cx="494.71" cy="30.01" r="1.75" fill="#00a490" stroke="#00a490"/>
<circle cx="492.12" cy="33.46" r="1.75" fill="#00ac88" stroke="#00ac88"/>
<circle cx="481.44" cy="48" r="1.75" fill="#224e8f" stroke="#224e8f"/>
<circle cx="492.41" cy="35.73" r="1.75" fill="#4ece45" stroke="#4ece45"/>
<circle cx="493.41" cy="28.46" r="1.75" fill="#00b774" stroke="#00b774"/>
<circle cx="488.35" cy="41.39" r="1.75" fill="#15628f" stroke="#15628f"/>
<circle cx="491.51" cy="37.2" r="1.75" fill="#00ac88" stroke="#00ac88"/>
<circle cx="493.95" cy="32.15" r="1.75" fill="#51cf44" stroke="#51cf44"/>
<circle cx="483.52" cy="45.07" r="1.75" fill="#16618f" stroke="#16618f"/>
<circle cx="486.36" cy="35.24" r="1.75" fill="#9edb19" stroke="#9edb19"/>
<circle cx="481.85" cy="51.88" r="1.75" fill="#511888" stroke="#511888"/>
<circle cx="493.28" cy="31.66" r="1.75" fill="#9fdb19" stroke="#9fdb19"/>
<circle cx="486.39" cy="38.63" r="1.75" fill="#1f528f" stroke="#1f528f"/>
<circle cx="487.28" cy="42.65" r="1.75" fill="#058d96" stroke="#058d96"/>
<circle cx="490.13" cy="38.06" r="1.75" fill="#00a193" stroke="#00a193"/>
<circle cx="493.18" cy="31.57" r="1.75" fill="#9bda1b" stroke="#9bda1b"/>
<circle cx="488.73" cy="33.4" r="1.75" fill="#00b872" stroke="#00b872"/>
<circle cx="491.26" cy="37.52" r="1.75" fill="#00b870" stroke="#00b870"/>
<circle cx="485.78" cy="45.65" r="1.75" fill="#333691" stroke="#333691"/>
<circle cx="485.56" cy="38.86" r="1.75" fill="#00aa8a" stroke="#00aa8a"/>
<circle cx="480.36" cy="43.34" r="1.75" fill="#c4df08" stroke="#c4df08"/>
<circle cx="491.81" cy="35.28" r="1.75" fill="#2a4390" stroke="#2a4390"/>
<circle cx="488.87" cy="43.79" r="1.75" fill="#1c578f" stroke="#1c578f"/>
<circle cx="484.5" cy="38.77" r="1.75" fill="#20c45e" stroke="#20c45e"/>
<circle cx="495.25" cy="30.93" r="1.75" fill="#00a490" stroke="#00a490"/>
<circle cx="491.18" cy="31.98" r="1.75" fill="#8ed922" stroke="#8ed922"/>
<circle cx="492.08" cy="34.15" r="1.75" fill="#00a58f" stroke="#00a58f"/>
<circle cx="495.65" cy="30.96" r="1.75" fill="#068896" stroke="#068896"/>
<circle cx="484.45" cy="44.08" r="1.75" fill="#029796" stroke="#029796"/>
<circle cx="486.96" cy="35.88" r="1.75" fill="#088096" stroke="#088096"/>
<circle cx="490.97" cy="31.36" r="1.75" fill="#e4e003" stroke="#e4e003"/>
<circle cx="495.45" cy="36.05" r="1.75" fill="#009e96" stroke="#009e96"/>
<circle cx="486.57" cy="42.97" r="1.75" fill="#00ad87" stroke="#00ad87"/>
<circle cx="489.09" cy="32.59" r="1.75" fill="#048d96" stroke="#048d96"/>
<circle cx="490.67" cy="36.67" r="1.75" fill="#22c45d" stroke="#22c45d"/>
<circle cx="494.35" cy="35.16" r="1.75" fill="#45248c" stroke="#45248c"/>
<circle cx="489.81" cy="36.64" r="1.75" fill="#0f6d93" stroke="#0f6d93"/>
<circle cx="494.77" cy="31.24" r="1.75" fill="#00a193" stroke="#00a193"/>
<circle cx="486.78" cy="40.41" r="1.75" fill="#2f3c91" stroke="#2f3c91"/>
<circle cx="488.46" cy="39.52" r="1.75" fill="#4ece45" stroke="#4ece45"/>
<circle cx="485.73" cy="42.2" r="1.75" fill="#039496" stroke="#039496"/>
<circle cx="492.05" cy="35.33" r="1.75" fill="#00a58f" stroke="#00a58f"/>
<circle cx="485.59" cy="40.6" r="1.75" fill="#00b183" stroke="#00b183"/>
<circle cx="485.96" cy="43.33" r="1.75" fill="#048e96" stroke="#048e96"/>
<circle cx="486.66" cy="41.07" r="1.75" fill="#2c3f90" stroke="#2c3f90"/>
<circle cx="477.61" cy="51.1" r="1.75" fill="#234c8f" stroke="#234c8f"/>
<circle cx="492.91" cy="29.49" r="1.75" fill="#009e96" stroke="#009e96"/>
<circle cx="480.75" cy="46.06" r="1.75" fill="#00a292" stroke="#00a292"/>
<circle cx="481.55" cy="46.47" r="1.75" fill="#1ec35f" stroke="#1ec35f"/>
<circle cx="482.83" cy="43.22" r="1.75" fill="#00a58f" stroke="#00a58f"/>
<circle cx="485.1" cy="40.96" r="1.75" fill="#234c8f" stroke="#234c8f"/>
<circle cx="485.73" cy="38.35" r="1.75" fill="#00a094" stroke="#00a094"/>
<circle cx="489.88" cy="35.18" r="1.75" fill="#3a2f8f" stroke="#3a2f8f"/>
<circle cx="486.75" cy="35.23" r="1.75" fill="#00b47c" stroke="#00b47c"/>
<circle cx="481.62" cy="42.38" r="1.75" fill="#019c96" stroke="#019c96"/>
<circle cx="482.4" cy="45.3" r="1.75" fill="#058c96" stroke="#058c96"/>
<circle cx="496.6" cy="29.97" r="1.75" fill="#165f8e" stroke="#165f8e"/>
<circle cx="493.52" cy="29.94" r="1.75" fill="#097c96" stroke="#097c96"/>
<circle cx="487.96" cy="37.36" r="1.75" fill="#1ac261" stroke="#1ac261"/>
<circle cx="477.81" cy="50.74" r="1.75" fill="#53cf43" stroke="#53cf43"/>
<circle cx="490.19" cy="40.29" r="1.75" fill="#16618f" stroke="#16618f"/>
<circle cx="489.24" cy="42.35" r="1.75" fill="#274790" stroke="#274790"/>
<circle cx="482.15" cy="44.52" r="1.75" fill="#a9dc13" stroke="#a9dc13"/>
<circle cx="480.9" cy="44.79" r="1.75" fill="#e3e003" stroke="#e3e003"/>
<circle cx="478.47" cy="47.5" r="1.75" fill="#39308f" stroke="#39308f"/>
<circle cx="479.62" cy="51.94" r="1.75" fill="#2c4090" stroke="#2c4090"/>
<circle cx="489.14" cy="34.57" r="1.75" fill="#009d96" stroke="#009d96"/>
<circle cx="489.36" cy="38.64" r="1.75" fill="#009f95" stroke="#009f95"/>
<circle cx="483.93" cy="42.36" r="1.75" fill="#f2e101" stroke="#f2e101"/>
<circle cx="490.62" cy="34.57" r="1.75" fill="#41288d" stroke="#41288d"/>
<circle cx="482.93" cy="46.79" r="1.75" fill="#63077c" stroke="#63077c"/>
<circle cx="327.3" cy="34.37" r="1.75" fill="#00b57a" stroke="#00b57a"/>
<circle cx="333.44" cy="146.93" r="1.75" fill="#009e96" stroke="#009e96"/>
<circle cx="435.23" cy="95.42" r="1.75" fill="#00b872" stroke="#00b872"/>
<circle cx="393.11" cy="126.36" r="1.75" fill="#ccdf07" stroke="#ccdf07"/>
<circle cx="370.3" cy="148.94" r="1.75" fill="#2dc657" stroke="#2dc657"/>
<circle cx="372.05" cy="143.59" r="1.75" fill="#1d558f" stroke="#1d558f"/>
<circle cx="372.93" cy="140.57" r="1.75" fill="#551487" stroke="#551487"/>
<circle cx="351.87" cy="158.64" r="1.75" fill="#551487" stroke="#551487"/>
<circle cx="357.49" cy="161.31" r="1.75" fill="#284690" stroke="#284690"/>
<circle cx="361.87" cy="158.97" r="1.75" fill="#323791" stroke="#323791"/>
<circle cx="359.24" cy="165.33" r="1.75" fill="#323791" stroke="#323791"/>
<circle cx="354.15" cy="169.01" r="1.75" fill="#44268c" stroke="#44268c"/>
<circle cx="465.95" cy="53.27" r="1.75" fill="#009e96" stroke="#009e96"/>
<circle cx="476.12" cy="40.89" r="1.75" fill="#e5e003" stroke="#e5e003"/>
<circle cx="473.84" cy="57.79" r="1.75" fill="#284690" stroke="#284690"/>
<circle cx="475.6" cy="56.11" r="1.75" fill="#058b96" stroke="#058b96"/>
<circle cx="473.49" cy="50.59" r="1.75" fill="#91d921" stroke="#91d921"/>
<circle cx="474.72" cy="51.93" r="1.75" fill="#d8e005" stroke="#d8e005"/>
<circle cx="333.44" cy="184.9" r="1.75" fill="#551487" stroke="#551487"/>
<circle cx="333.62" cy="184.06" r="1.75" fill="#d8e005" stroke="#d8e005"/>
<circle cx="340.46" cy="178.21" r="1.75" fill="#d8e005" stroke="#d8e005"/>
<circle cx="349.76" cy="166.5" r="1.75" fill="#b9de0a" stroke="#b9de0a"/>
</g>
<path d="M327.3 194.85v2.3M318.65 190.75h-2.3M362.4 194.85v2.3M318.65 157.3h-2.3M397.5 194.85v2.3M318.65 123.85h-2.3M432.6 194.85v2.3M318.65 90.4h-2.3M467.7 194.85v2.3M318.65 56.95h-2.3M502.8 194.85v2.3M318.65 23.5h-2.3M527.45 159.86h2.3M527.45 124.67h2.3M527.45 89.48h2.3M527.45 54.29h2.3" stroke="#3a3a3a" stroke-width="0.8" fill="none"/>
<rect x="318.65" y="19.55" width="188.6" height="175.3" fill="none" stroke="#3a3a3a" stroke-width="0.9"/>
<rect x="518.75" y="19.55" width="8.7" height="175.3" fill="url(#vg)" stroke="none"/>
<rect x="518.75" y="19.55" width="8.7" height="175.3" fill="none" stroke="#3a3a3a" stroke-width="0.8"/>
<g font-family="'DejaVu Sans','Liberation Sans',sans-serif" fill="#000" stroke="#000" stroke-width="0.12">
<text x="413.25" y="15.2" font-size="7.93" text-anchor="middle">The correlation between two periods of CN to MCI</text>
<g font-size="6.7">
<text x="327.3" y="205.4" text-anchor="middle">0.0</text>
<text x="314.65" y="193.16" text-anchor="end">0.0</text>
<text x="362.4" y="205.4" text-anchor="middle">0.2</text>
<text x="314.65" y="159.71" text-anchor="end">0.2</text>
<text x="397.5" y="205.4" text-anchor="middle">0.4</text>
<text x="314.65" y="126.26" text-anchor="end">0.4</text>
<text x="432.6" y="205.4" text-anchor="middle">0.6</text>
<text x="314.65" y="92.81" text-anchor="end">0.6</text>
<text x="467.7" y="205.4" text-anchor="middle">0.8</text>
<text x="314.65" y="59.36" text-anchor="end">0.8</text>
<text x="502.8" y="205.4" text-anchor="middle">1.0</text>
<text x="314.65" y="25.91" text-anchor="end">1.0</text>
<text x="531.85" y="162.27">0.2</text>
<text x="531.85" y="127.08">0.4</text>
<text x="531.85" y="91.89">0.6</text>
<text x="531.85" y="56.7">0.8</text>
<text x="412.95" y="214.3" text-anchor="middle">Period 1</text>
<text transform="translate(298.6 107.2) rotate(-90)" text-anchor="middle">Period 2</text>
</g></g>
<text x="418.6" y="234.5" font-family="'Liberation Serif',serif" font-size="13.1" text-anchor="middle" fill="#000">(<tspan font-weight="bold">b</tspan>) CN to MCI</text></g>
<g><path d="M37.6 253.2V428.5M31.55 422.2H220.55M72.42 253.2V428.5M31.55 389.5H220.55M107.24 253.2V428.5M31.55 356.8H220.55M142.06 253.2V428.5M31.55 324.1H220.55M176.88 253.2V428.5M31.55 291.4H220.55M211.7 253.2V428.5M31.55 258.7H220.55" stroke="#b0b0b0" stroke-width="0.55" fill="none"/>
<g fill-opacity="0.6" stroke-opacity="0.6" stroke-width="1.25">
<circle cx="45.06" cy="412.76" r="1.75" fill="#20518f" stroke="#20518f"/>
<circle cx="45.87" cy="412.86" r="1.75" fill="#16608f" stroke="#16608f"/>
<circle cx="49.23" cy="413.54" r="1.75" fill="#531688" stroke="#531688"/>
<circle cx="54.38" cy="405.6" r="1.75" fill="#00a391" stroke="#00a391"/>
<circle cx="54.23" cy="406.23" r="1.75" fill="#15618f" stroke="#15618f"/>
<circle cx="45.69" cy="416.46" r="1.75" fill="#0b7695" stroke="#0b7695"/>
<circle cx="42.68" cy="417.97" r="1.75" fill="#50ce44" stroke="#50ce44"/>
<circle cx="42.65" cy="418.46" r="1.75" fill="#058a96" stroke="#058a96"/>
<circle cx="44.28" cy="415.42" r="1.75" fill="#34c853" stroke="#34c853"/>
<circle cx="54.64" cy="408.46" r="1.75" fill="#214f8f" stroke="#214f8f"/>
<circle cx="47.17" cy="411.91" r="1.75" fill="#b6de0c" stroke="#b6de0c"/>
<circle cx="59.25" cy="408.93" r="1.75" fill="#068696" stroke="#068696"/>
<circle cx="48.48" cy="413.42" r="1.75" fill="#00ad87" stroke="#00ad87"/>
<circle cx="52.53" cy="414.3" r="1.75" fill="#16608e" stroke="#16608e"/>
<circle cx="61.97" cy="402.18" r="1.75" fill="#5dd13d" stroke="#5dd13d"/>
<circle cx="50.15" cy="409.44" r="1.75" fill="#00b773" stroke="#00b773"/>
<circle cx="49.67" cy="411.41" r="1.75" fill="#106c92" stroke="#106c92"/>
<circle cx="48.92" cy="412.48" r="1.75" fill="#5cd13e" stroke="#5cd13e"/>
<circle cx="45.51" cy="414.88" r="1.75" fill="#373290" stroke="#373290"/>
<circle cx="39.64" cy="415.02" r="1.75" fill="#00a58f" stroke="#00a58f"/>
<circle cx="52.46" cy="412.52" r="1.75" fill="#068896" stroke="#068896"/>
<circle cx="55.88" cy="403.41" r="1.75" fill="#136691" stroke="#136691"/>
<circle cx="48.12" cy="417.73" r="1.75" fill="#00b183" stroke="#00b183"/>
<circle cx="44.58" cy="417.44" r="1.75" fill="#068796" stroke="#068796"/>
<circle cx="46.3" cy="413.88" r="1.75" fill="#00a58f" stroke="#00a58f"/>
<circle cx="47.14" cy="416.44" r="1.75" fill="#00a98b" stroke="#00a98b"/>
<circle cx="51.06" cy="409.63" r="1.75" fill="#00b579" stroke="#00b579"/>
<circle cx="44.17" cy="413.9" r="1.75" fill="#1d558f" stroke="#1d558f"/>
<circle cx="61.83" cy="404.4" r="1.75" fill="#097e96" stroke="#097e96"/>
<circle cx="59.5" cy="403.15" r="1.75" fill="#1e538f" stroke="#1e538f"/>
<circle cx="55.07" cy="407.92" r="1.75" fill="#00a094" stroke="#00a094"/>
<circle cx="54.46" cy="413.36" r="1.75" fill="#029896" stroke="#029896"/>
<circle cx="60.26" cy="402.81" r="1.75" fill="#0abc69" stroke="#0abc69"/>
<circle cx="53.09" cy="410.99" r="1.75" fill="#264890" stroke="#264890"/>
<circle cx="50.09" cy="406.96" r="1.75" fill="#38c951" stroke="#38c951"/>
<circle cx="50.11" cy="413.88" r="1.75" fill="#00a88c" stroke="#00a88c"/>
<circle cx="43.8" cy="411.12" r="1.75" fill="#00b37f" stroke="#00b37f"/>
<circle cx="42.72" cy="419.3" r="1.75" fill="#00a58f" stroke="#00a58f"/>
<circle cx="53.41" cy="402.39" r="1.75" fill="#00a68e" stroke="#00a68e"/>
<circle cx="46.06" cy="412.89" r="1.75" fill="#20518f" stroke="#20518f"/>
<circle cx="49.28" cy="410.39" r="1.75" fill="#00a490" stroke="#00a490"/>
<circle cx="57.61" cy="402.18" r="1.75" fill="#0d7294" stroke="#0d7294"/>
<circle cx="53.5" cy="405.39" r="1.75" fill="#f2e101" stroke="#f2e101"/>
<circle cx="49.74" cy="407.05" r="1.75" fill="#00a094" stroke="#00a094"/>
<circle cx="48.7" cy="406.92" r="1.75" fill="#00a193" stroke="#00a193"/>
<circle cx="50.55" cy="411.81" r="1.75" fill="#195b8e" stroke="#195b8e"/>
<circle cx="59.7" cy="406.48" r="1.75" fill="#07bb6b" stroke="#07bb6b"/>
<circle cx="53.52" cy="415.06" r="1.75" fill="#00a490" stroke="#00a490"/>
<circle cx="46.57" cy="415.43" r="1.75" fill="#088196" stroke="#088196"/>
<circle cx="43.89" cy="414.04" r="1.75" fill="#15c064" stroke="#15c064"/>
<circle cx="58.96" cy="402.27" r="1.75" fill="#531687" stroke="#531687"/>
<circle cx="53.68" cy="407.63" r="1.75" fill="#264990" stroke="#264990"/>
<circle cx="50.03" cy="412.27" r="1.75" fill="#00b676" stroke="#00b676"/>
<circle cx="51.36" cy="412.02" r="1.75" fill="#17c163" stroke="#17c163"/>
<circle cx="42.89" cy="418.32" r="1.75" fill="#353490" stroke="#353490"/>
<circle cx="48.9" cy="410.92" r="1.75" fill="#29c559" stroke="#29c559"/>
<circle cx="52.99" cy="414.14" r="1.75" fill="#019b96" stroke="#019b96"/>
<circle cx="53.28" cy="406.11" r="1.75" fill="#1ec35f" stroke="#1ec35f"/>
<circle cx="56.73" cy="409.79" r="1.75" fill="#5bd13f" stroke="#5bd13f"/>
<circle cx="48.71" cy="412.82" r="1.75" fill="#097d96" stroke="#097d96"/>
<circle cx="47.4" cy="415.5" r="1.75" fill="#52cf43" stroke="#52cf43"/>
<circle cx="44.34" cy="417.33" r="1.75" fill="#00a88c" stroke="#00a88c"/>
<circle cx="58.36" cy="407.06" r="1.75" fill="#185c8e" stroke="#185c8e"/>
<circle cx="52.62" cy="412.54" r="1.75" fill="#343590" stroke="#343590"/>
<circle cx="51.09" cy="410.97" r="1.75" fill="#00b183" stroke="#00b183"/>
<circle cx="43.26" cy="420.68" r="1.75" fill="#2b4190" stroke="#2b4190"/>
<circle cx="43.23" cy="410.01" r="1.75" fill="#00aa8a" stroke="#00aa8a"/>
<circle cx="59.12" cy="404.5" r="1.75" fill="#4f1a89" stroke="#4f1a89"/>
<circle cx="50.82" cy="412.56" r="1.75" fill="#8fd922" stroke="#8fd922"/>
<circle cx="42.78" cy="419.32" r="1.75" fill="#97da1d" stroke="#97da1d"/>
<circle cx="51.16" cy="413.59" r="1.75" fill="#0abc69" stroke="#0abc69"/>
<circle cx="58.01" cy="410.94" r="1.75" fill="#531687" stroke="#531687"/>
<circle cx="43.06" cy="418.1" r="1.75" fill="#00b183" stroke="#00b183"/>
<circle cx="50.53" cy="409.78" r="1.75" fill="#00ad87" stroke="#00ad87"/>
<circle cx="57.52" cy="409.24" r="1.75" fill="#1b588e" stroke="#1b588e"/>
<circle cx="48.58" cy="412.43" r="1.75" fill="#019a96" stroke="#019a96"/>
<circle cx="51.6" cy="413.65" r="1.75" fill="#087f96" stroke="#087f96"/>
<circle cx="44.88" cy="415.78" r="1.75" fill="#04ba6c" stroke="#04ba6c"/>
<circle cx="41.23" cy="417.66" r="1.75" fill="#1b588e" stroke="#1b588e"/>
<circle cx="55.76" cy="404.74" r="1.75" fill="#00b774" stroke="#00b774"/>
<circle cx="45.81" cy="413.46" r="1.75" fill="#097b96" stroke="#097b96"/>
<circle cx="58.79" cy="405.66" r="1.75" fill="#2a4290" stroke="#2a4290"/>
<circle cx="44.94" cy="412.78" r="1.75" fill="#4fce45" stroke="#4fce45"/>
<circle cx="54.65" cy="408.54" r="1.75" fill="#00b183" stroke="#00b183"/>
<circle cx="49.35" cy="410.68" r="1.75" fill="#2d3e90" stroke="#2d3e90"/>
<circle cx="55.19" cy="404.57" r="1.75" fill="#82d729" stroke="#82d729"/>
<circle cx="46.27" cy="415.45" r="1.75" fill="#6ed534" stroke="#6ed534"/>
<circle cx="55.73" cy="410.17" r="1.75" fill="#96da1e" stroke="#96da1e"/>
<circle cx="43.71" cy="414.7" r="1.75" fill="#00b281" stroke="#00b281"/>
<circle cx="65.14" cy="401.24" r="1.75" fill="#039496" stroke="#039496"/>
<circle cx="52.55" cy="411.78" r="1.75" fill="#00b282" stroke="#00b282"/>
<circle cx="46.03" cy="418.28" r="1.75" fill="#5f0a7f" stroke="#5f0a7f"/>
<circle cx="49.92" cy="408.66" r="1.75" fill="#254990" stroke="#254990"/>
<circle cx="56.68" cy="405.89" r="1.75" fill="#195a8e" stroke="#195a8e"/>
<circle cx="57.5" cy="411.41" r="1.75" fill="#591083" stroke="#591083"/>
<circle cx="45.8" cy="412.51" r="1.75" fill="#234d8f" stroke="#234d8f"/>
<circle cx="52.74" cy="402.57" r="1.75" fill="#00b084" stroke="#00b084"/>
<circle cx="52.53" cy="403.55" r="1.75" fill="#21508f" stroke="#21508f"/>
<circle cx="51.94" cy="411.3" r="1.75" fill="#00a490" stroke="#00a490"/>
<circle cx="50.48" cy="410.56" r="1.75" fill="#84d728" stroke="#84d728"/>
<circle cx="55.99" cy="404.48" r="1.75" fill="#274690" stroke="#274690"/>
<circle cx="47.89" cy="410.23" r="1.75" fill="#00ab89" stroke="#00ab89"/>
<circle cx="51.89" cy="409.46" r="1.75" fill="#591084" stroke="#591084"/>
<circle cx="52.86" cy="412.15" r="1.75" fill="#1e538f" stroke="#1e538f"/>
<circle cx="49.87" cy="408.97" r="1.75" fill="#47228b" stroke="#47228b"/>
<circle cx="56.54" cy="403.68" r="1.75" fill="#20c45e" stroke="#20c45e"/>
<circle cx="49.61" cy="415.82" r="1.75" fill="#106c92" stroke="#106c92"/>
<circle cx="48.09" cy="414.06" r="1.75" fill="#49208a" stroke="#49208a"/>
<circle cx="58.64" cy="402.9" r="1.75" fill="#01b96e" stroke="#01b96e"/>
<circle cx="42.13" cy="418.08" r="1.75" fill="#019b96" stroke="#019b96"/>
<circle cx="44.25" cy="414.53" r="1.75" fill="#00b37f" stroke="#00b37f"/>
<circle cx="45.18" cy="412.85" r="1.75" fill="#088096" stroke="#088096"/>
<circle cx="43.46" cy="415.15" r="1.75" fill="#009d96" stroke="#009d96"/>
<circle cx="59.63" cy="403.18" r="1.75" fill="#087f96" stroke="#087f96"/>
<circle cx="45.94" cy="419.19" r="1.75" fill="#00b282" stroke="#00b282"/>
<circle cx="45.9" cy="412.82" r="1.75" fill="#1c578f" stroke="#1c578f"/>
<circle cx="42.32" cy="413.34" r="1.75" fill="#088096" stroke="#088096"/>
<circle cx="50.55" cy="404.68" r="1.75" fill="#15628f" stroke="#15628f"/>
<circle cx="53.77" cy="408.05" r="1.75" fill="#37328f" stroke="#37328f"/>
<circle cx="45.38" cy="415.37" r="1.75" fill="#1e548f" stroke="#1e548f"/>
<circle cx="46.18" cy="409.95" r="1.75" fill="#92d920" stroke="#92d920"/>
<circle cx="51.37" cy="405.61" r="1.75" fill="#acdc12" stroke="#acdc12"/>
<circle cx="47.36" cy="412.45" r="1.75" fill="#00af85" stroke="#00af85"/>
<circle cx="51.68" cy="407.56" r="1.75" fill="#ebe002" stroke="#ebe002"/>
<circle cx="45.74" cy="417.43" r="1.75" fill="#96da1d" stroke="#96da1d"/>
<circle cx="43.55" cy="414.94" r="1.75" fill="#214f8f" stroke="#214f8f"/>
<circle cx="56.93" cy="407.7" r="1.75" fill="#45248c" stroke="#45248c"/>
<circle cx="56.8" cy="405.75" r="1.75" fill="#264990" stroke="#264990"/>
<circle cx="55.39" cy="406.92" r="1.75" fill="#1a5a8e" stroke="#1a5a8e"/>
<circle cx="50.03" cy="412.69" r="1.75" fill="#49cd48" stroke="#49cd48"/>
<circle cx="47.58" cy="420.26" r="1.75" fill="#0a7896" stroke="#0a7896"/>
<circle cx="56.89" cy="407.74" r="1.75" fill="#00a193" stroke="#00a193"/>
<circle cx="48.35" cy="411.61" r="1.75" fill="#0a7996" stroke="#0a7996"/>
<circle cx="48.26" cy="412.95" r="1.75" fill="#45cc4a" stroke="#45cc4a"/>
<circle cx="54.89" cy="408.18" r="1.75" fill="#35c853" stroke="#35c853"/>
<circle cx="50.2" cy="409.72" r="1.75" fill="#00ac88" stroke="#00ac88"/>
<circle cx="49.78" cy="409.27" r="1.75" fill="#009f95" stroke="#009f95"/>
<circle cx="57.27" cy="402.39" r="1.75" fill="#f2e101" stroke="#f2e101"/>
<circle cx="53.95" cy="410.3" r="1.75" fill="#16608f" stroke="#16608f"/>
<circle cx="57.89" cy="404.3" r="1.75" fill="#19c162" stroke="#19c162"/>
<circle cx="50.44" cy="411.91" r="1.75" fill="#00b183" stroke="#00b183"/>
<circle cx="54.25" cy="410.25" r="1.75" fill="#078596" stroke="#078596"/>
<circle cx="50.81" cy="415.3" r="1.75" fill="#274790" stroke="#274790"/>
<circle cx="43.69" cy="417.06" r="1.75" fill="#4fce45" stroke="#4fce45"/>
<circle cx="59.01" cy="406" r="1.75" fill="#4d1c89" stroke="#4d1c89"/>
<circle cx="42.99" cy="410.41" r="1.75" fill="#195b8e" stroke="#195b8e"/>
<circle cx="42.15" cy="418.41" r="1.75" fill="#313891" stroke="#313891"/>
<circle cx="47.33" cy="414.29" r="1.75" fill="#048f96" stroke="#048f96"/>
<circle cx="59.67" cy="403.99" r="1.75" fill="#00af85" stroke="#00af85"/>
<circle cx="43.55" cy="410.82" r="1.75" fill="#24c45c" stroke="#24c45c"/>
<circle cx="47.02" cy="416.9" r="1.75" fill="#0c7595" stroke="#0c7595"/>
<circle cx="55.81" cy="406.67" r="1.75" fill="#20518f" stroke="#20518f"/>
<circle cx="53.09" cy="410.95" r="1.75" fill="#284590" stroke="#284590"/>
<circle cx="52.17" cy="409.74" r="1.75" fill="#44cc4a" stroke="#44cc4a"/>
<circle cx="57.7" cy="404.64" r="1.75" fill="#4dce46" stroke="#4dce46"/>
<circle cx="54.14" cy="404.31" r="1.75" fill="#029796" stroke="#029796"/>
<circle cx="57.38" cy="409.12" r="1.75" fill="#058b96" stroke="#058b96"/>
<circle cx="48.9" cy="412.27" r="1.75" fill="#00a98b" stroke="#00a98b"/>
<circle cx="41.54" cy="413.32" r="1.75" fill="#dde004" stroke="#dde004"/>
<circle cx="62.54" cy="401.8" r="1.75" fill="#353490" stroke="#353490"/>
<circle cx="42.11" cy="418.7" r="1.75" fill="#a4db16" stroke="#a4db16"/>
<circle cx="51.4" cy="412.82" r="1.75" fill="#78d62f" stroke="#78d62f"/>
<circle cx="45.06" cy="422.83" r="1.75" fill="#5e0b80" stroke="#5e0b80"/>
<circle cx="51.3" cy="410.44" r="1.75" fill="#049096" stroke="#049096"/>
<circle cx="42.34" cy="414.07" r="1.75" fill="#00b96e" stroke="#00b96e"/>
<circle cx="52.01" cy="410.96" r="1.75" fill="#00af85" stroke="#00af85"/>
<circle cx="50.47" cy="416.76" r="1.75" fill="#00b774" stroke="#00b774"/>
<circle cx="46.25" cy="413.65" r="1.75" fill="#30c755" stroke="#30c755"/>
<circle cx="61.16" cy="401.29" r="1.75" fill="#60d23c" stroke="#60d23c"/>
<circle cx="58.88" cy="400.58" r="1.75" fill="#35c853" stroke="#35c853"/>
<circle cx="41.92" cy="415.29" r="1.75" fill="#0c7495" stroke="#0c7495"/>
<circle cx="51.84" cy="410.49" r="1.75" fill="#00a68e" stroke="#00a68e"/>
<circle cx="53.41" cy="407.05" r="1.75" fill="#00af85" stroke="#00af85"/>
<circle cx="49.16" cy="417.8" r="1.75" fill="#1e548f" stroke="#1e548f"/>
<circle cx="46.15" cy="411.04" r="1.75" fill="#078396" stroke="#078396"/>
<circle cx="55.35" cy="406.02" r="1.75" fill="#08bc6a" stroke="#08bc6a"/>
<circle cx="48.6" cy="409.06" r="1.75" fill="#0a7996" stroke="#0a7996"/>
<circle cx="51.54" cy="406.63" r="1.75" fill="#00b775" stroke="#00b775"/>
<circle cx="48.44" cy="413.52" r="1.75" fill="#4d1c89" stroke="#4d1c89"/>
<circle cx="50.56" cy="411.23" r="1.75" fill="#274790" stroke="#274790"/>
<circle cx="46.17" cy="417.44" r="1.75" fill="#0f6e93" stroke="#0f6e93"/>
<circle cx="49.3" cy="418.55" r="1.75" fill="#521788" stroke="#521788"/>
<circle cx="51.82" cy="410.07" r="1.75" fill="#1d558f" stroke="#1d558f"/>
<circle cx="45.61" cy="414.57" r="1.75" fill="#76d630" stroke="#76d630"/>
<circle cx="47.07" cy="417.33" r="1.75" fill="#16608e" stroke="#16608e"/>
<circle cx="47.52" cy="411.14" r="1.75" fill="#039196" stroke="#039196"/>
<circle cx="52.36" cy="408.88" r="1.75" fill="#00aa8a" stroke="#00aa8a"/>
<circle cx="45.52" cy="413.68" r="1.75" fill="#abdc12" stroke="#abdc12"/>
<circle cx="48.04" cy="415.43" r="1.75" fill="#00b579" stroke="#00b579"/>
<circle cx="49.78" cy="417.11" r="1.75" fill="#2e3d91" stroke="#2e3d91"/>
<circle cx="49.31" cy="409.4" r="1.75" fill="#264890" stroke="#264890"/>
<circle cx="49.11" cy="410.1" r="1.75" fill="#009d96" stroke="#009d96"/>
<circle cx="50.3" cy="411.33" r="1.75" fill="#009e96" stroke="#009e96"/>
<circle cx="45.82" cy="416.25" r="1.75" fill="#039296" stroke="#039296"/>
<circle cx="62.98" cy="400.73" r="1.75" fill="#1dc360" stroke="#1dc360"/>
<circle cx="61.55" cy="401.58" r="1.75" fill="#078296" stroke="#078296"/>
<circle cx="59.62" cy="404.37" r="1.75" fill="#23c45c" stroke="#23c45c"/>
<circle cx="60.53" cy="408.1" r="1.75" fill="#0abc69" stroke="#0abc69"/>
<circle cx="54.21" cy="405.2" r="1.75" fill="#22c45d" stroke="#22c45d"/>
<circle cx="54.86" cy="411.65" r="1.75" fill="#068596" stroke="#068596"/>
<circle cx="45.3" cy="416.42" r="1.75" fill="#26c55b" stroke="#26c55b"/>
<circle cx="58.51" cy="404.75" r="1.75" fill="#106b92" stroke="#106b92"/>
<circle cx="53.82" cy="407.12" r="1.75" fill="#45cc4a" stroke="#45cc4a"/>
<circle cx="48.89" cy="417.42" r="1.75" fill="#048e96" stroke="#048e96"/>
<circle cx="45.54" cy="411.26" r="1.75" fill="#26c55b" stroke="#26c55b"/>
<circle cx="45.93" cy="412.67" r="1.75" fill="#019896" stroke="#019896"/>
<circle cx="41.73" cy="415.91" r="1.75" fill="#bbde0a" stroke="#bbde0a"/>
<circle cx="43.12" cy="413.11" r="1.75" fill="#195b8e" stroke="#195b8e"/>
<circle cx="56.22" cy="408.25" r="1.75" fill="#00a98b" stroke="#00a98b"/>
<circle cx="57.43" cy="411.47" r="1.75" fill="#00a98b" stroke="#00a98b"/>
<circle cx="46.46" cy="413.25" r="1.75" fill="#00a88c" stroke="#00a88c"/>
<circle cx="45.51" cy="410.94" r="1.75" fill="#058c96" stroke="#058c96"/>
<circle cx="47.47" cy="409.75" r="1.75" fill="#2dc657" stroke="#2dc657"/>
<circle cx="56.59" cy="407.11" r="1.75" fill="#49208a" stroke="#49208a"/>
<circle cx="46.82" cy="414.29" r="1.75" fill="#00b871" stroke="#00b871"/>
<circle cx="51.44" cy="409.07" r="1.75" fill="#3d2c8e" stroke="#3d2c8e"/>
<circle cx="60.57" cy="407.41" r="1.75" fill="#38318f" stroke="#38318f"/>
<circle cx="52.67" cy="410.97" r="1.75" fill="#56d041" stroke="#56d041"/>
<circle cx="47.89" cy="415.1" r="1.75" fill="#65d339" stroke="#65d339"/>
<circle cx="41.91" cy="413.09" r="1.75" fill="#bede09" stroke="#bede09"/>
<circle cx="49.27" cy="413.92" r="1.75" fill="#00b47b" stroke="#00b47b"/>
<circle cx="39.04" cy="415.53" r="1.75" fill="#dee004" stroke="#dee004"/>
<circle cx="50.68" cy="410.57" r="1.75" fill="#79d62e" stroke="#79d62e"/>
<circle cx="49.5" cy="417.03" r="1.75" fill="#43cb4b" stroke="#43cb4b"/>
<circle cx="51.33" cy="403.33" r="1.75" fill="#c8df08" stroke="#c8df08"/>
<circle cx="50.1" cy="414.2" r="1.75" fill="#3c2d8e" stroke="#3c2d8e"/>
<circle cx="51.72" cy="407.79" r="1.75" fill="#048e96" stroke="#048e96"/>
<circle cx="49.22" cy="406.57" r="1.75" fill="#f2e101" stroke="#f2e101"/>
<circle cx="59.02" cy="404.93" r="1.75" fill="#078396" stroke="#078396"/>
<circle cx="50.33" cy="414.82" r="1.75" fill="#126891" stroke="#126891"/>
<circle cx="49.68" cy="408.22" r="1.75" fill="#0f6e93" stroke="#0f6e93"/>
<circle cx="57.88" cy="404.14" r="1.75" fill="#1f528f" stroke="#1f528f"/>
<circle cx="48.37" cy="416.57" r="1.75" fill="#660479" stroke="#660479"/>
<circle cx="53.3" cy="411.68" r="1.75" fill="#00b96f" stroke="#00b96f"/>
<circle cx="52.53" cy="410.2" r="1.75" fill="#0a7896" stroke="#0a7896"/>
<circle cx="46.11" cy="411.49" r="1.75" fill="#009d96" stroke="#009d96"/>
<circle cx="48.03" cy="413.82" r="1.75" fill="#1d558f" stroke="#1d558f"/>
<circle cx="58.18" cy="402.13" r="1.75" fill="#00a98b" stroke="#00a98b"/>
<circle cx="54.4" cy="402.4" r="1.75" fill="#00a68e" stroke="#00a68e"/>
<circle cx="53.58" cy="404.22" r="1.75" fill="#058c96" stroke="#058c96"/>
<circle cx="43.63" cy="412.09" r="1.75" fill="#c7df08" stroke="#c7df08"/>
<circle cx="50.02" cy="407.35" r="1.75" fill="#61d23b" stroke="#61d23b"/>
<circle cx="61.84" cy="405.63" r="1.75" fill="#00b96f" stroke="#00b96f"/>
<circle cx="42.14" cy="414.03" r="1.75" fill="#00a094" stroke="#00a094"/>
<circle cx="49.07" cy="410.96" r="1.75" fill="#00b37f" stroke="#00b37f"/>
<circle cx="53.94" cy="408.14" r="1.75" fill="#00a68e" stroke="#00a68e"/>
<circle cx="46.48" cy="417.79" r="1.75" fill="#15618f" stroke="#15618f"/>
<circle cx="55.23" cy="411.56" r="1.75" fill="#65057a" stroke="#65057a"/>
<circle cx="53.33" cy="411.76" r="1.75" fill="#21508f" stroke="#21508f"/>
<circle cx="41.13" cy="418.98" r="1.75" fill="#561386" stroke="#561386"/>
<circle cx="58.44" cy="407.38" r="1.75" fill="#0b7695" stroke="#0b7695"/>
<circle cx="52.78" cy="411.32" r="1.75" fill="#234c8f" stroke="#234c8f"/>
<circle cx="63.6" cy="401.13" r="1.75" fill="#541587" stroke="#541587"/>
<circle cx="51.49" cy="407.83" r="1.75" fill="#58d040" stroke="#58d040"/>
<circle cx="42.82" cy="418.42" r="1.75" fill="#058b96" stroke="#058b96"/>
<circle cx="54.1" cy="408.07" r="1.75" fill="#2e3d91" stroke="#2e3d91"/>
<circle cx="57.73" cy="400.56" r="1.75" fill="#254a90" stroke="#254a90"/>
<circle cx="51.1" cy="411.24" r="1.75" fill="#097b96" stroke="#097b96"/>
<circle cx="51.3" cy="408.2" r="1.75" fill="#00b96f" stroke="#00b96f"/>
<circle cx="63.66" cy="402.36" r="1.75" fill="#254a90" stroke="#254a90"/>
<circle cx="49.12" cy="410.91" r="1.75" fill="#0d7294" stroke="#0d7294"/>
<circle cx="53.3" cy="407.95" r="1.75" fill="#1fc35e" stroke="#1fc35e"/>
<circle cx="58.7" cy="403.09" r="1.75" fill="#019a96" stroke="#019a96"/>
<circle cx="50.06" cy="412.62" r="1.75" fill="#58d040" stroke="#58d040"/>
<circle cx="58.41" cy="406.97" r="1.75" fill="#00b677" stroke="#00b677"/>
<circle cx="47.99" cy="413.9" r="1.75" fill="#521788" stroke="#521788"/>
<circle cx="45.6" cy="416.54" r="1.75" fill="#07bb6a" stroke="#07bb6a"/>
<circle cx="48.91" cy="408.9" r="1.75" fill="#106b92" stroke="#106b92"/>
<circle cx="42.51" cy="414.74" r="1.75" fill="#068896" stroke="#068896"/>
<circle cx="48.04" cy="416.78" r="1.75" fill="#244c8f" stroke="#244c8f"/>
<circle cx="47.23" cy="411.6" r="1.75" fill="#2d3e90" stroke="#2d3e90"/>
<circle cx="46.49" cy="415.8" r="1.75" fill="#00a094" stroke="#00a094"/>
<circle cx="46.86" cy="412.45" r="1.75" fill="#9dda1a" stroke="#9dda1a"/>
<circle cx="44.11" cy="417.9" r="1.75" fill="#294490" stroke="#294490"/>
<circle cx="47.9" cy="417.8" r="1.75" fill="#00ab89" stroke="#00ab89"/>
<circle cx="58.43" cy="400.86" r="1.75" fill="#009d96" stroke="#009d96"/>
<circle cx="49.84" cy="409.91" r="1.75" fill="#00a094" stroke="#00a094"/>
<circle cx="47.72" cy="417.15" r="1.75" fill="#0abc69" stroke="#0abc69"/>
<circle cx="52.53" cy="414.97" r="1.75" fill="#224e8f" stroke="#224e8f"/>
<circle cx="53.82" cy="409.52" r="1.75" fill="#00b183" stroke="#00b183"/>
<circle cx="197.89" cy="270.83" r="1.75" fill="#3d2c8e" stroke="#3d2c8e"/>
<circle cx="192.92" cy="267.74" r="1.75" fill="#11bf65" stroke="#11bf65"/>
<circle cx="191.37" cy="278.53" r="1.75" fill="#00a68e" stroke="#00a68e"/>
<circle cx="200.19" cy="272.66" r="1.75" fill="#00b282" stroke="#00b282"/>
<circle cx="200.44" cy="269.03" r="1.75" fill="#00b57a" stroke="#00b57a"/>
<circle cx="200.95" cy="272.91" r="1.75" fill="#0bbd69" stroke="#0bbd69"/>
<circle cx="187.91" cy="277.91" r="1.75" fill="#048d96" stroke="#048d96"/>
<circle cx="201.52" cy="265.3" r="1.75" fill="#d5df06" stroke="#d5df06"/>
<circle cx="201.87" cy="266.58" r="1.75" fill="#1d558f" stroke="#1d558f"/>
<circle cx="199.23" cy="272.13" r="1.75" fill="#019996" stroke="#019996"/>
<circle cx="205.99" cy="264.58" r="1.75" fill="#0d7194" stroke="#0d7194"/>
<circle cx="187.86" cy="278.14" r="1.75" fill="#00b96f" stroke="#00b96f"/>
<circle cx="189.1" cy="273.66" r="1.75" fill="#039196" stroke="#039196"/>
<circle cx="199.23" cy="272.09" r="1.75" fill="#185c8e" stroke="#185c8e"/>
<circle cx="194.55" cy="277.08" r="1.75" fill="#21c45d" stroke="#21c45d"/>
<circle cx="192.22" cy="272.02" r="1.75" fill="#00a78d" stroke="#00a78d"/>
<circle cx="199.09" cy="270" r="1.75" fill="#00a58f" stroke="#00a58f"/>
<circle cx="192.73" cy="274.89" r="1.75" fill="#00a490" stroke="#00a490"/>
<circle cx="195.88" cy="271.73" r="1.75" fill="#0b7595" stroke="#0b7595"/>
<circle cx="192.52" cy="281.52" r="1.75" fill="#41288d" stroke="#41288d"/>
<circle cx="193.1" cy="277.08" r="1.75" fill="#00b47b" stroke="#00b47b"/>
<circle cx="185.6" cy="276.53" r="1.75" fill="#00b773" stroke="#00b773"/>
<circle cx="190.55" cy="279.6" r="1.75" fill="#05bb6b" stroke="#05bb6b"/>
<circle cx="190.09" cy="280.31" r="1.75" fill="#0d7294" stroke="#0d7294"/>
<circle cx="192.74" cy="275.1" r="1.75" fill="#009e96" stroke="#009e96"/>
<circle cx="194" cy="273.63" r="1.75" fill="#39c951" stroke="#39c951"/>
<circle cx="174.67" cy="276.08" r="1.75" fill="#0d7294" stroke="#0d7294"/>
<circle cx="188.94" cy="285.99" r="1.75" fill="#1f528f" stroke="#1f528f"/>
<circle cx="201.22" cy="268.36" r="1.75" fill="#36c852" stroke="#36c852"/>
<circle cx="194.9" cy="267.35" r="1.75" fill="#039196" stroke="#039196"/>
<circle cx="206.14" cy="264.16" r="1.75" fill="#45248b" stroke="#45248b"/>
<circle cx="197.63" cy="270.68" r="1.75" fill="#00a490" stroke="#00a490"/>
<circle cx="199.53" cy="276.61" r="1.75" fill="#3d2c8e" stroke="#3d2c8e"/>
<circle cx="204.18" cy="264.26" r="1.75" fill="#04ba6c" stroke="#04ba6c"/>
<circle cx="188.65" cy="275.42" r="1.75" fill="#00b871" stroke="#00b871"/>
<circle cx="200.79" cy="266.94" r="1.75" fill="#00ae86" stroke="#00ae86"/>
<circle cx="201.45" cy="269.07" r="1.75" fill="#67d438" stroke="#67d438"/>
<circle cx="200.88" cy="268.02" r="1.75" fill="#097d96" stroke="#097d96"/>
<circle cx="194.99" cy="274.83" r="1.75" fill="#ccdf07" stroke="#ccdf07"/>
<circle cx="195.21" cy="270.84" r="1.75" fill="#07bb6b" stroke="#07bb6b"/>
<circle cx="184.18" cy="284.61" r="1.75" fill="#019996" stroke="#019996"/>
<circle cx="196.96" cy="269.81" r="1.75" fill="#bfde09" stroke="#bfde09"/>
<circle cx="207.23" cy="265.22" r="1.75" fill="#00af85" stroke="#00af85"/>
<circle cx="197.48" cy="273.57" r="1.75" fill="#9fdb18" stroke="#9fdb18"/>
<circle cx="205.01" cy="271.37" r="1.75" fill="#244b8f" stroke="#244b8f"/>
<circle cx="205.54" cy="265.01" r="1.75" fill="#019a96" stroke="#019a96"/>
<circle cx="201.91" cy="266.24" r="1.75" fill="#49208a" stroke="#49208a"/>
<circle cx="193.06" cy="277.69" r="1.75" fill="#38c951" stroke="#38c951"/>
<circle cx="185.26" cy="271.24" r="1.75" fill="#136690" stroke="#136690"/>
<circle cx="197.52" cy="276.77" r="1.75" fill="#2c4090" stroke="#2c4090"/>
<circle cx="194.38" cy="276.8" r="1.75" fill="#294490" stroke="#294490"/>
<circle cx="203.7" cy="268.83" r="1.75" fill="#5d0d81" stroke="#5d0d81"/>
<circle cx="195.27" cy="276.74" r="1.75" fill="#16c063" stroke="#16c063"/>
<circle cx="192.72" cy="279.29" r="1.75" fill="#254a90" stroke="#254a90"/>
<circle cx="197.28" cy="280" r="1.75" fill="#00b47c" stroke="#00b47c"/>
<circle cx="201.56" cy="271.66" r="1.75" fill="#097c96" stroke="#097c96"/>
<circle cx="202.22" cy="263.75" r="1.75" fill="#11bf66" stroke="#11bf66"/>
<circle cx="195.37" cy="275.41" r="1.75" fill="#00af85" stroke="#00af85"/>
<circle cx="192.62" cy="272.44" r="1.75" fill="#41cb4d" stroke="#41cb4d"/>
<circle cx="201.05" cy="273.54" r="1.75" fill="#5cd13e" stroke="#5cd13e"/>
<circle cx="204.41" cy="266.04" r="1.75" fill="#00b084" stroke="#00b084"/>
<circle cx="189.11" cy="276.82" r="1.75" fill="#45cc4a" stroke="#45cc4a"/>
<circle cx="193.06" cy="277.22" r="1.75" fill="#146490" stroke="#146490"/>
<circle cx="202.26" cy="269.25" r="1.75" fill="#049096" stroke="#049096"/>
<circle cx="184.96" cy="285.25" r="1.75" fill="#244c8f" stroke="#244c8f"/>
<circle cx="203.53" cy="266.55" r="1.75" fill="#00b96f" stroke="#00b96f"/>
<circle cx="194.22" cy="271.62" r="1.75" fill="#2fc756" stroke="#2fc756"/>
<circle cx="198.62" cy="267.45" r="1.75" fill="#f2e101" stroke="#f2e101"/>
<circle cx="198.69" cy="277.05" r="1.75" fill="#0d7294" stroke="#0d7294"/>
<circle cx="204.7" cy="271.27" r="1.75" fill="#44258c" stroke="#44258c"/>
<circle cx="192.07" cy="278.32" r="1.75" fill="#1a5a8e" stroke="#1a5a8e"/>
<circle cx="192.05" cy="277.23" r="1.75" fill="#3ac950" stroke="#3ac950"/>
<circle cx="183.21" cy="280.27" r="1.75" fill="#94d91f" stroke="#94d91f"/>
<circle cx="188.54" cy="274.54" r="1.75" fill="#146390" stroke="#146390"/>
<circle cx="193.74" cy="279.4" r="1.75" fill="#b2dd0e" stroke="#b2dd0e"/>
<circle cx="201.69" cy="263.96" r="1.75" fill="#00b57a" stroke="#00b57a"/>
<circle cx="201.38" cy="267.9" r="1.75" fill="#1a5a8e" stroke="#1a5a8e"/>
<circle cx="209.23" cy="262.9" r="1.75" fill="#00b578" stroke="#00b578"/>
<circle cx="191.29" cy="273.17" r="1.75" fill="#00b871" stroke="#00b871"/>
<circle cx="194.69" cy="273.55" r="1.75" fill="#068996" stroke="#068996"/>
<circle cx="197.59" cy="271.04" r="1.75" fill="#581285" stroke="#581285"/>
<circle cx="199.31" cy="277.75" r="1.75" fill="#28c55a" stroke="#28c55a"/>
<circle cx="204.1" cy="266.76" r="1.75" fill="#2e3d91" stroke="#2e3d91"/>
<circle cx="196.04" cy="272.88" r="1.75" fill="#00b96e" stroke="#00b96e"/>
<circle cx="196.06" cy="274.23" r="1.75" fill="#04ba6c" stroke="#04ba6c"/>
<circle cx="197.48" cy="269.76" r="1.75" fill="#20518f" stroke="#20518f"/>
<circle cx="195.98" cy="268.98" r="1.75" fill="#039496" stroke="#039496"/>
<circle cx="196.74" cy="267.73" r="1.75" fill="#00a88c" stroke="#00a88c"/>
<circle cx="195.8" cy="269.11" r="1.75" fill="#029696" stroke="#029696"/>
<circle cx="202.08" cy="268.37" r="1.75" fill="#31c755" stroke="#31c755"/>
<circle cx="194.96" cy="268.17" r="1.75" fill="#116a92" stroke="#116a92"/>
<circle cx="201.69" cy="267.63" r="1.75" fill="#30c756" stroke="#30c756"/>
<circle cx="197.33" cy="269.33" r="1.75" fill="#294490" stroke="#294490"/>
<circle cx="197.02" cy="273.68" r="1.75" fill="#c9df08" stroke="#c9df08"/>
<circle cx="203.18" cy="271.11" r="1.75" fill="#24c45c" stroke="#24c45c"/>
<circle cx="200.25" cy="280.24" r="1.75" fill="#126791" stroke="#126791"/>
<circle cx="207.05" cy="263.14" r="1.75" fill="#00b084" stroke="#00b084"/>
<circle cx="200.94" cy="271.28" r="1.75" fill="#1b598e" stroke="#1b598e"/>
<circle cx="204.34" cy="265.89" r="1.75" fill="#00a98b" stroke="#00a98b"/>
<circle cx="201.82" cy="266.05" r="1.75" fill="#a0db18" stroke="#a0db18"/>
<circle cx="203.16" cy="271.65" r="1.75" fill="#660479" stroke="#660479"/>
<circle cx="195.24" cy="285.33" r="1.75" fill="#41cb4c" stroke="#41cb4c"/>
<circle cx="193" cy="275.07" r="1.75" fill="#9bda1b" stroke="#9bda1b"/>
<circle cx="193.31" cy="274.31" r="1.75" fill="#00b57a" stroke="#00b57a"/>
<circle cx="187.98" cy="282.91" r="1.75" fill="#00a98b" stroke="#00a98b"/>
<circle cx="206.27" cy="264.94" r="1.75" fill="#45248c" stroke="#45248c"/>
<circle cx="207.23" cy="265.73" r="1.75" fill="#24c45c" stroke="#24c45c"/>
<circle cx="200.52" cy="269.68" r="1.75" fill="#00b380" stroke="#00b380"/>
<circle cx="202.32" cy="269.91" r="1.75" fill="#00a193" stroke="#00a193"/>
<circle cx="195.3" cy="272.39" r="1.75" fill="#58d040" stroke="#58d040"/>
<circle cx="189.39" cy="274.53" r="1.75" fill="#303a91" stroke="#303a91"/>
<circle cx="199.53" cy="272.38" r="1.75" fill="#1b588e" stroke="#1b588e"/>
<circle cx="206.98" cy="262.92" r="1.75" fill="#00a292" stroke="#00a292"/>
<circle cx="197.07" cy="271.87" r="1.75" fill="#03ba6c" stroke="#03ba6c"/>
<circle cx="200.47" cy="267.48" r="1.75" fill="#088196" stroke="#088196"/>
<circle cx="187.06" cy="273.27" r="1.75" fill="#224e8f" stroke="#224e8f"/>
<circle cx="200.72" cy="267.39" r="1.75" fill="#03ba6c" stroke="#03ba6c"/>
<circle cx="191.51" cy="274.13" r="1.75" fill="#00ab89" stroke="#00ab89"/>
<circle cx="184.32" cy="278.95" r="1.75" fill="#234d8f" stroke="#234d8f"/>
<circle cx="196.34" cy="275.24" r="1.75" fill="#00b282" stroke="#00b282"/>
<circle cx="189.01" cy="280.11" r="1.75" fill="#058b96" stroke="#058b96"/>
<circle cx="194.41" cy="273.48" r="1.75" fill="#00a68e" stroke="#00a68e"/>
<circle cx="183.07" cy="277.17" r="1.75" fill="#3e2b8e" stroke="#3e2b8e"/>
<circle cx="186.6" cy="274.68" r="1.75" fill="#343591" stroke="#343591"/>
<circle cx="184.63" cy="271.53" r="1.75" fill="#8ad824" stroke="#8ad824"/>
<circle cx="206" cy="266.37" r="1.75" fill="#00b084" stroke="#00b084"/>
<circle cx="207.15" cy="263.32" r="1.75" fill="#511888" stroke="#511888"/>
<circle cx="205" cy="269.55" r="1.75" fill="#00ad87" stroke="#00ad87"/>
<circle cx="203.87" cy="267.57" r="1.75" fill="#029596" stroke="#029596"/>
<circle cx="202.26" cy="273.52" r="1.75" fill="#00a88c" stroke="#00a88c"/>
<circle cx="186.65" cy="275.28" r="1.75" fill="#106c92" stroke="#106c92"/>
<circle cx="200.3" cy="267.46" r="1.75" fill="#00a193" stroke="#00a193"/>
<circle cx="196.55" cy="278.51" r="1.75" fill="#048d96" stroke="#048d96"/>
<circle cx="205.49" cy="264.27" r="1.75" fill="#165f8e" stroke="#165f8e"/>
<circle cx="187.32" cy="277.09" r="1.75" fill="#3b2e8e" stroke="#3b2e8e"/>
<circle cx="183.77" cy="274.11" r="1.75" fill="#96da1e" stroke="#96da1e"/>
<circle cx="199.16" cy="268.1" r="1.75" fill="#165f8e" stroke="#165f8e"/>
<circle cx="202.63" cy="267.14" r="1.75" fill="#175e8e" stroke="#175e8e"/>
<circle cx="199.05" cy="271.1" r="1.75" fill="#146490" stroke="#146490"/>
<circle cx="194.93" cy="271.91" r="1.75" fill="#60d23c" stroke="#60d23c"/>
<circle cx="207.62" cy="262.52" r="1.75" fill="#5bd13f" stroke="#5bd13f"/>
<circle cx="208.29" cy="262.68" r="1.75" fill="#1f538f" stroke="#1f538f"/>
<circle cx="191.4" cy="286.35" r="1.75" fill="#00b380" stroke="#00b380"/>
<circle cx="183.57" cy="277.91" r="1.75" fill="#333691" stroke="#333691"/>
<circle cx="192.31" cy="281.4" r="1.75" fill="#039196" stroke="#039196"/>
<circle cx="200.24" cy="270.57" r="1.75" fill="#00b675" stroke="#00b675"/>
<circle cx="190.54" cy="274.42" r="1.75" fill="#00b37e" stroke="#00b37e"/>
<circle cx="188.06" cy="281.32" r="1.75" fill="#27c55a" stroke="#27c55a"/>
<circle cx="194.72" cy="270.19" r="1.75" fill="#175e8e" stroke="#175e8e"/>
<circle cx="197.88" cy="277.05" r="1.75" fill="#106c92" stroke="#106c92"/>
<circle cx="196.66" cy="270.12" r="1.75" fill="#88d825" stroke="#88d825"/>
<circle cx="205.33" cy="267.86" r="1.75" fill="#48cd49" stroke="#48cd49"/>
<circle cx="206.77" cy="266.23" r="1.75" fill="#08bc6a" stroke="#08bc6a"/>
<circle cx="192.08" cy="284.02" r="1.75" fill="#26c55b" stroke="#26c55b"/>
<circle cx="196.81" cy="272.36" r="1.75" fill="#048f96" stroke="#048f96"/>
<circle cx="201.84" cy="270.25" r="1.75" fill="#541587" stroke="#541587"/>
<circle cx="197.6" cy="278.96" r="1.75" fill="#4a1f8a" stroke="#4a1f8a"/>
<circle cx="190.61" cy="272.58" r="1.75" fill="#00a391" stroke="#00a391"/>
<circle cx="198.08" cy="275.94" r="1.75" fill="#00a68e" stroke="#00a68e"/>
<circle cx="194.39" cy="275.64" r="1.75" fill="#00aa8a" stroke="#00aa8a"/>
<circle cx="199.2" cy="269.78" r="1.75" fill="#11bf65" stroke="#11bf65"/>
<circle cx="207.29" cy="263.76" r="1.75" fill="#1a5a8e" stroke="#1a5a8e"/>
<circle cx="188.72" cy="278.12" r="1.75" fill="#bcde0a" stroke="#bcde0a"/>
<circle cx="199.47" cy="268.46" r="1.75" fill="#274690" stroke="#274690"/>
<circle cx="200.21" cy="270.03" r="1.75" fill="#0f6d93" stroke="#0f6d93"/>
<circle cx="188.21" cy="274.89" r="1.75" fill="#0ebe67" stroke="#0ebe67"/>
<circle cx="199.62" cy="272.43" r="1.75" fill="#00b57b" stroke="#00b57b"/>
<circle cx="207.27" cy="264.67" r="1.75" fill="#13bf65" stroke="#13bf65"/>
<circle cx="207.52" cy="262.7" r="1.75" fill="#00a094" stroke="#00a094"/>
<circle cx="193.05" cy="282.24" r="1.75" fill="#15628f" stroke="#15628f"/>
<circle cx="193.43" cy="274.15" r="1.75" fill="#00a094" stroke="#00a094"/>
<circle cx="201.78" cy="268.53" r="1.75" fill="#0a7796" stroke="#0a7796"/>
<circle cx="201" cy="270.46" r="1.75" fill="#00a490" stroke="#00a490"/>
<circle cx="196.55" cy="270.83" r="1.75" fill="#1e538f" stroke="#1e538f"/>
<circle cx="201.5" cy="267.1" r="1.75" fill="#00a292" stroke="#00a292"/>
<circle cx="199.35" cy="281.92" r="1.75" fill="#029596" stroke="#029596"/>
<circle cx="195.01" cy="276.08" r="1.75" fill="#019c96" stroke="#019c96"/>
<circle cx="201.27" cy="268.33" r="1.75" fill="#00a391" stroke="#00a391"/>
<circle cx="191.28" cy="275.37" r="1.75" fill="#343590" stroke="#343590"/>
<circle cx="199.92" cy="271.92" r="1.75" fill="#00aa8a" stroke="#00aa8a"/>
<circle cx="204.21" cy="268.87" r="1.75" fill="#521788" stroke="#521788"/>
<circle cx="201.73" cy="267.96" r="1.75" fill="#511888" stroke="#511888"/>
<circle cx="188.63" cy="276.43" r="1.75" fill="#195c8e" stroke="#195c8e"/>
<circle cx="196.25" cy="286.26" r="1.75" fill="#00a88c" stroke="#00a88c"/>
<circle cx="193.58" cy="285.7" r="1.75" fill="#00b870" stroke="#00b870"/>
<circle cx="195.06" cy="277.48" r="1.75" fill="#029596" stroke="#029596"/>
<circle cx="201.35" cy="278.18" r="1.75" fill="#224f8f" stroke="#224f8f"/>
<circle cx="196.95" cy="275.43" r="1.75" fill="#078596" stroke="#078596"/>
<circle cx="197.25" cy="269.5" r="1.75" fill="#254990" stroke="#254990"/>
<circle cx="199.23" cy="275.02" r="1.75" fill="#c0de09" stroke="#c0de09"/>
<circle cx="200.48" cy="269.04" r="1.75" fill="#274690" stroke="#274690"/>
<circle cx="190.3" cy="285.05" r="1.75" fill="#37328f" stroke="#37328f"/>
<circle cx="196" cy="271.86" r="1.75" fill="#0fbe66" stroke="#0fbe66"/>
<circle cx="187.69" cy="277.32" r="1.75" fill="#39308f" stroke="#39308f"/>
<circle cx="196.87" cy="268.28" r="1.75" fill="#00a78d" stroke="#00a78d"/>
<circle cx="192.35" cy="276.59" r="1.75" fill="#d4df06" stroke="#d4df06"/>
<circle cx="200.53" cy="266.59" r="1.75" fill="#15618f" stroke="#15618f"/>
<circle cx="202.26" cy="266.82" r="1.75" fill="#1d568f" stroke="#1d568f"/>
<circle cx="201.71" cy="269.74" r="1.75" fill="#087f96" stroke="#087f96"/>
<circle cx="200.85" cy="265.47" r="1.75" fill="#087f96" stroke="#087f96"/>
<circle cx="201.48" cy="270.41" r="1.75" fill="#00a490" stroke="#00a490"/>
<circle cx="192.42" cy="276.04" r="1.75" fill="#21508f" stroke="#21508f"/>
<circle cx="191.97" cy="268.17" r="1.75" fill="#c6df08" stroke="#c6df08"/>
<circle cx="183.37" cy="279.19" r="1.75" fill="#0c7595" stroke="#0c7595"/>
<circle cx="206.96" cy="264.67" r="1.75" fill="#571285" stroke="#571285"/>
<circle cx="196.74" cy="271.75" r="1.75" fill="#097c96" stroke="#097c96"/>
<circle cx="203.87" cy="267.62" r="1.75" fill="#2a4390" stroke="#2a4390"/>
<circle cx="207.29" cy="263.32" r="1.75" fill="#24c45c" stroke="#24c45c"/>
<circle cx="204.71" cy="269.3" r="1.75" fill="#5c0d81" stroke="#5c0d81"/>
<circle cx="190.16" cy="277.75" r="1.75" fill="#41288d" stroke="#41288d"/>
<circle cx="204.79" cy="269.33" r="1.75" fill="#1d558f" stroke="#1d558f"/>
<circle cx="200.9" cy="268.02" r="1.75" fill="#60d23c" stroke="#60d23c"/>
<circle cx="202.91" cy="266.34" r="1.75" fill="#185d8e" stroke="#185d8e"/>
<circle cx="198.06" cy="268.84" r="1.75" fill="#44258c" stroke="#44258c"/>
<circle cx="196.94" cy="265.9" r="1.75" fill="#62d23b" stroke="#62d23b"/>
<circle cx="200.99" cy="275.59" r="1.75" fill="#38318f" stroke="#38318f"/>
<circle cx="191.21" cy="286.46" r="1.75" fill="#38c951" stroke="#38c951"/>
<circle cx="191.84" cy="284.05" r="1.75" fill="#029896" stroke="#029896"/>
<circle cx="196.2" cy="276.13" r="1.75" fill="#00a58f" stroke="#00a58f"/>
<circle cx="190.41" cy="274.15" r="1.75" fill="#00af85" stroke="#00af85"/>
<circle cx="187.82" cy="283.59" r="1.75" fill="#039396" stroke="#039396"/>
<circle cx="204.74" cy="266.75" r="1.75" fill="#254a90" stroke="#254a90"/>
<circle cx="204.86" cy="267.97" r="1.75" fill="#00aa8a" stroke="#00aa8a"/>
<circle cx="202.41" cy="269.47" r="1.75" fill="#53cf42" stroke="#53cf42"/>
<circle cx="192.56" cy="279.34" r="1.75" fill="#8fd922" stroke="#8fd922"/>
<circle cx="196.31" cy="273.79" r="1.75" fill="#254a90" stroke="#254a90"/>
<circle cx="200.99" cy="274.46" r="1.75" fill="#39308f" stroke="#39308f"/>
<circle cx="196.63" cy="273.37" r="1.75" fill="#00b870" stroke="#00b870"/>
<circle cx="202.54" cy="266.22" r="1.75" fill="#0b7796" stroke="#0b7796"/>
<circle cx="204.58" cy="265.01" r="1.75" fill="#00b37f" stroke="#00b37f"/>
<circle cx="201.68" cy="272.64" r="1.75" fill="#b6de0c" stroke="#b6de0c"/>
<circle cx="191.04" cy="273.98" r="1.75" fill="#313991" stroke="#313991"/>
<circle cx="201.02" cy="266.83" r="1.75" fill="#e7e003" stroke="#e7e003"/>
<circle cx="202.03" cy="267.26" r="1.75" fill="#18c162" stroke="#18c162"/>
<circle cx="206.69" cy="265.77" r="1.75" fill="#029796" stroke="#029796"/>
<circle cx="205.45" cy="268.12" r="1.75" fill="#75d530" stroke="#75d530"/>
<circle cx="198.44" cy="271.21" r="1.75" fill="#00a094" stroke="#00a094"/>
<circle cx="193.53" cy="282.13" r="1.75" fill="#00b57a" stroke="#00b57a"/>
<circle cx="201.34" cy="273.52" r="1.75" fill="#195b8e" stroke="#195b8e"/>
<circle cx="200.68" cy="266.86" r="1.75" fill="#097c96" stroke="#097c96"/>
<circle cx="204.84" cy="263.9" r="1.75" fill="#068796" stroke="#068796"/>
<circle cx="198.71" cy="268.98" r="1.75" fill="#1a5a8e" stroke="#1a5a8e"/>
<circle cx="196.54" cy="268.47" r="1.75" fill="#a4db16" stroke="#a4db16"/>
<circle cx="193.32" cy="272" r="1.75" fill="#00ad87" stroke="#00ad87"/>
<circle cx="207.51" cy="264.54" r="1.75" fill="#1c568f" stroke="#1c568f"/>
<circle cx="201.78" cy="265.56" r="1.75" fill="#23c45d" stroke="#23c45d"/>
<circle cx="184.85" cy="283.07" r="1.75" fill="#116a92" stroke="#116a92"/>
<circle cx="193.36" cy="273.93" r="1.75" fill="#00a292" stroke="#00a292"/>
<circle cx="183.45" cy="275.15" r="1.75" fill="#7dd72c" stroke="#7dd72c"/>
<circle cx="201.04" cy="267.71" r="1.75" fill="#64d33a" stroke="#64d33a"/>
<circle cx="201.28" cy="265.02" r="1.75" fill="#1e538f" stroke="#1e538f"/>
<circle cx="207.34" cy="263.03" r="1.75" fill="#088096" stroke="#088096"/>
<circle cx="204.37" cy="266.68" r="1.75" fill="#2ac659" stroke="#2ac659"/>
<circle cx="198.87" cy="273.8" r="1.75" fill="#05bb6b" stroke="#05bb6b"/>
<circle cx="188.62" cy="281.36" r="1.75" fill="#00a68e" stroke="#00a68e"/>
<circle cx="208.54" cy="263.89" r="1.75" fill="#3b2e8e" stroke="#3b2e8e"/>
<circle cx="205.93" cy="264.51" r="1.75" fill="#0ebe67" stroke="#0ebe67"/>
<circle cx="205.07" cy="265.44" r="1.75" fill="#00a094" stroke="#00a094"/>
<circle cx="188.51" cy="284.36" r="1.75" fill="#234d8f" stroke="#234d8f"/>
<circle cx="200.38" cy="280.01" r="1.75" fill="#00b870" stroke="#00b870"/>
<circle cx="206.98" cy="267.54" r="1.75" fill="#00a88c" stroke="#00a88c"/>
<circle cx="191.9" cy="273.86" r="1.75" fill="#43268c" stroke="#43268c"/>
<circle cx="197.52" cy="276.67" r="1.75" fill="#00b579" stroke="#00b579"/>
<circle cx="192.33" cy="270.83" r="1.75" fill="#5bd13e" stroke="#5bd13e"/>
<circle cx="196.33" cy="276.77" r="1.75" fill="#078396" stroke="#078396"/>
<circle cx="196.17" cy="271.97" r="1.75" fill="#45248c" stroke="#45248c"/>
<circle cx="202.16" cy="272.83" r="1.75" fill="#087e96" stroke="#087e96"/>
<circle cx="204.43" cy="267.22" r="1.75" fill="#00a88c" stroke="#00a88c"/>
<circle cx="196.55" cy="274.08" r="1.75" fill="#0e7093" stroke="#0e7093"/>
<circle cx="208.51" cy="261.56" r="1.75" fill="#00a98b" stroke="#00a98b"/>
<circle cx="203.78" cy="263.45" r="1.75" fill="#019b96" stroke="#019b96"/>
<circle cx="182.67" cy="279.07" r="1.75" fill="#1e548f" stroke="#1e548f"/>
<circle cx="199.95" cy="276.08" r="1.75" fill="#18c162" stroke="#18c162"/>
<circle cx="198.66" cy="271.12" r="1.75" fill="#0d7294" stroke="#0d7294"/>
<circle cx="185.13" cy="284.98" r="1.75" fill="#00a68e" stroke="#00a68e"/>
<circle cx="199.62" cy="272.64" r="1.75" fill="#254990" stroke="#254990"/>
<circle cx="198.06" cy="269.63" r="1.75" fill="#0e7194" stroke="#0e7194"/>
<circle cx="182.32" cy="275.71" r="1.75" fill="#019996" stroke="#019996"/>
<circle cx="202.81" cy="268.51" r="1.75" fill="#20c45e" stroke="#20c45e"/>
<circle cx="188.62" cy="274.23" r="1.75" fill="#00a490" stroke="#00a490"/>
<circle cx="192.89" cy="270.39" r="1.75" fill="#00a193" stroke="#00a193"/>
<circle cx="202.45" cy="270.89" r="1.75" fill="#009e96" stroke="#009e96"/>
<circle cx="184.76" cy="273.38" r="1.75" fill="#078396" stroke="#078396"/>
<circle cx="199.81" cy="265.6" r="1.75" fill="#00a193" stroke="#00a193"/>
<circle cx="197.95" cy="270.71" r="1.75" fill="#058a96" stroke="#058a96"/>
<circle cx="205.01" cy="262.75" r="1.75" fill="#00b47b" stroke="#00b47b"/>
<circle cx="194.93" cy="273.46" r="1.75" fill="#0a7796" stroke="#0a7796"/>
<circle cx="188.26" cy="274.29" r="1.75" fill="#00b871" stroke="#00b871"/>
<circle cx="194.78" cy="271.91" r="1.75" fill="#511888" stroke="#511888"/>
<circle cx="204.32" cy="267.92" r="1.75" fill="#126891" stroke="#126891"/>
<circle cx="203.98" cy="265.67" r="1.75" fill="#73d532" stroke="#73d532"/>
<circle cx="204.86" cy="265.72" r="1.75" fill="#088096" stroke="#088096"/>
<circle cx="190.43" cy="281.97" r="1.75" fill="#48218b" stroke="#48218b"/>
<circle cx="188.11" cy="290.22" r="1.75" fill="#1c578f" stroke="#1c578f"/>
<circle cx="197.09" cy="276.23" r="1.75" fill="#76d630" stroke="#76d630"/>
<circle cx="204.59" cy="268.64" r="1.75" fill="#078396" stroke="#078396"/>
<circle cx="203.16" cy="264.66" r="1.75" fill="#009d96" stroke="#009d96"/>
<circle cx="206.23" cy="268.32" r="1.75" fill="#313991" stroke="#313991"/>
<circle cx="195.03" cy="274.15" r="1.75" fill="#126891" stroke="#126891"/>
<circle cx="197.01" cy="275.46" r="1.75" fill="#126791" stroke="#126791"/>
<circle cx="197.79" cy="277.97" r="1.75" fill="#116b92" stroke="#116b92"/>
<circle cx="192.92" cy="273.01" r="1.75" fill="#00a68e" stroke="#00a68e"/>
<circle cx="203.41" cy="268.83" r="1.75" fill="#a4db16" stroke="#a4db16"/>
<circle cx="204.93" cy="263.42" r="1.75" fill="#1b598e" stroke="#1b598e"/>
<circle cx="203.64" cy="266.94" r="1.75" fill="#234c8f" stroke="#234c8f"/>
<circle cx="203.09" cy="266.28" r="1.75" fill="#00b084" stroke="#00b084"/>
<circle cx="190.21" cy="279.78" r="1.75" fill="#5bd13e" stroke="#5bd13e"/>
<circle cx="190.61" cy="275.08" r="1.75" fill="#74d531" stroke="#74d531"/>
<circle cx="199.41" cy="267.61" r="1.75" fill="#7cd62c" stroke="#7cd62c"/>
<circle cx="206.33" cy="264.75" r="1.75" fill="#088196" stroke="#088196"/>
<circle cx="197.5" cy="272.25" r="1.75" fill="#068796" stroke="#068796"/>
<circle cx="188.82" cy="271.29" r="1.75" fill="#106b92" stroke="#106b92"/>
<circle cx="203.02" cy="268.62" r="1.75" fill="#00a094" stroke="#00a094"/>
<circle cx="187.01" cy="272.03" r="1.75" fill="#96da1e" stroke="#96da1e"/>
<circle cx="199.45" cy="271.85" r="1.75" fill="#00a391" stroke="#00a391"/>
<circle cx="204.56" cy="266.88" r="1.75" fill="#294490" stroke="#294490"/>
<circle cx="206.09" cy="267.76" r="1.75" fill="#234c8f" stroke="#234c8f"/>
<circle cx="192.46" cy="282.17" r="1.75" fill="#019896" stroke="#019896"/>
<circle cx="205.96" cy="268.13" r="1.75" fill="#264990" stroke="#264990"/>
<circle cx="206.07" cy="265.25" r="1.75" fill="#1a5a8e" stroke="#1a5a8e"/>
<circle cx="195.38" cy="271.31" r="1.75" fill="#078496" stroke="#078496"/>
<circle cx="203.54" cy="266.76" r="1.75" fill="#00ab89" stroke="#00ab89"/>
<circle cx="199.25" cy="272.91" r="1.75" fill="#00ac88" stroke="#00ac88"/>
<circle cx="196.1" cy="278.85" r="1.75" fill="#bbde0a" stroke="#bbde0a"/>
<circle cx="190.29" cy="283.54" r="1.75" fill="#39308f" stroke="#39308f"/>
<circle cx="199.95" cy="276.1" r="1.75" fill="#244b8f" stroke="#244b8f"/>
<circle cx="197.45" cy="278.56" r="1.75" fill="#35c853" stroke="#35c853"/>
<circle cx="200.82" cy="264.57" r="1.75" fill="#00b96f" stroke="#00b96f"/>
<circle cx="200.78" cy="268.47" r="1.75" fill="#058b96" stroke="#058b96"/>
<circle cx="206.73" cy="265.12" r="1.75" fill="#088096" stroke="#088096"/>
<circle cx="201.49" cy="266.78" r="1.75" fill="#00aa8a" stroke="#00aa8a"/>
<circle cx="205.79" cy="262.55" r="1.75" fill="#00ac88" stroke="#00ac88"/>
<circle cx="195.33" cy="277.48" r="1.75" fill="#2f3b91" stroke="#2f3b91"/>
<circle cx="203.93" cy="266.49" r="1.75" fill="#009e96" stroke="#009e96"/>
<circle cx="205.29" cy="267.75" r="1.75" fill="#44258c" stroke="#44258c"/>
<circle cx="205.55" cy="268.33" r="1.75" fill="#06bb6b" stroke="#06bb6b"/>
<circle cx="201.66" cy="265.16" r="1.75" fill="#36c952" stroke="#36c952"/>
<circle cx="191.81" cy="268.24" r="1.75" fill="#00b47d" stroke="#00b47d"/>
<circle cx="198.44" cy="274.45" r="1.75" fill="#00af85" stroke="#00af85"/>
<circle cx="194.65" cy="285.22" r="1.75" fill="#029596" stroke="#029596"/>
<circle cx="197.71" cy="267.44" r="1.75" fill="#0a7896" stroke="#0a7896"/>
<circle cx="191.03" cy="272.9" r="1.75" fill="#165f8e" stroke="#165f8e"/>
<circle cx="199.46" cy="268.88" r="1.75" fill="#0f6e93" stroke="#0f6e93"/>
<circle cx="188.96" cy="272.41" r="1.75" fill="#097a96" stroke="#097a96"/>
<circle cx="198.48" cy="272.64" r="1.75" fill="#363390" stroke="#363390"/>
<circle cx="205.61" cy="264.26" r="1.75" fill="#244b8f" stroke="#244b8f"/>
<circle cx="206.1" cy="263.16" r="1.75" fill="#00b37f" stroke="#00b37f"/>
<circle cx="193.16" cy="277.97" r="1.75" fill="#36c852" stroke="#36c852"/>
<circle cx="196.68" cy="271.11" r="1.75" fill="#61d23b" stroke="#61d23b"/>
<circle cx="204.3" cy="266.43" r="1.75" fill="#29c659" stroke="#29c659"/>
<circle cx="202.71" cy="266.33" r="1.75" fill="#70d533" stroke="#70d533"/>
<circle cx="202.03" cy="267.6" r="1.75" fill="#4b1e8a" stroke="#4b1e8a"/>
<circle cx="195.38" cy="287.18" r="1.75" fill="#00b281" stroke="#00b281"/>
<circle cx="199.28" cy="270.27" r="1.75" fill="#029796" stroke="#029796"/>
<circle cx="201.96" cy="273.06" r="1.75" fill="#264890" stroke="#264890"/>
<circle cx="205.43" cy="266.57" r="1.75" fill="#274790" stroke="#274790"/>
<circle cx="201.1" cy="275.49" r="1.75" fill="#00a292" stroke="#00a292"/>
<circle cx="198.17" cy="268.85" r="1.75" fill="#50ce45" stroke="#50ce45"/>
<circle cx="195.46" cy="275.7" r="1.75" fill="#00ad87" stroke="#00ad87"/>
<circle cx="197.6" cy="273.76" r="1.75" fill="#4d1c89" stroke="#4d1c89"/>
<circle cx="187.99" cy="274.03" r="1.75" fill="#284590" stroke="#284590"/>
<circle cx="201.37" cy="266.79" r="1.75" fill="#078396" stroke="#078396"/>
<circle cx="191.91" cy="278.66" r="1.75" fill="#313891" stroke="#313891"/>
<circle cx="202.81" cy="274.85" r="1.75" fill="#3dca4f" stroke="#3dca4f"/>
<circle cx="203.69" cy="265.15" r="1.75" fill="#254990" stroke="#254990"/>
<circle cx="201.07" cy="269.74" r="1.75" fill="#35c853" stroke="#35c853"/>
<circle cx="197.24" cy="274.05" r="1.75" fill="#00b871" stroke="#00b871"/>
<circle cx="200.69" cy="267.24" r="1.75" fill="#088096" stroke="#088096"/>
<circle cx="198.66" cy="273.71" r="1.75" fill="#00ae86" stroke="#00ae86"/>
<circle cx="204.08" cy="266.3" r="1.75" fill="#29c559" stroke="#29c559"/>
<circle cx="193.96" cy="271.61" r="1.75" fill="#addd11" stroke="#addd11"/>
<circle cx="188.98" cy="276.76" r="1.75" fill="#38c951" stroke="#38c951"/>
<circle cx="188.47" cy="285.06" r="1.75" fill="#3f2a8d" stroke="#3f2a8d"/>
<circle cx="198.25" cy="267.04" r="1.75" fill="#009e96" stroke="#009e96"/>
<circle cx="191.27" cy="272.37" r="1.75" fill="#00a193" stroke="#00a193"/>
<circle cx="190.84" cy="269.76" r="1.75" fill="#6dd535" stroke="#6dd535"/>
<circle cx="201.2" cy="268.96" r="1.75" fill="#097b96" stroke="#097b96"/>
<circle cx="202.98" cy="266.64" r="1.75" fill="#03ba6c" stroke="#03ba6c"/>
<circle cx="197.02" cy="268.92" r="1.75" fill="#54cf42" stroke="#54cf42"/>
<circle cx="195.38" cy="272.3" r="1.75" fill="#039196" stroke="#039196"/>
<circle cx="193.77" cy="274.99" r="1.75" fill="#088196" stroke="#088196"/>
<circle cx="206.94" cy="263.61" r="1.75" fill="#068996" stroke="#068996"/>
<circle cx="207.2" cy="263.62" r="1.75" fill="#1e538f" stroke="#1e538f"/>
<circle cx="190.17" cy="283.4" r="1.75" fill="#039296" stroke="#039296"/>
<circle cx="204.97" cy="266.63" r="1.75" fill="#00b872" stroke="#00b872"/>
<circle cx="201.34" cy="267.55" r="1.75" fill="#50ce44" stroke="#50ce44"/>
<circle cx="206.75" cy="264.08" r="1.75" fill="#00b37e" stroke="#00b37e"/>
<circle cx="198.2" cy="278.37" r="1.75" fill="#00af85" stroke="#00af85"/>
<circle cx="207.86" cy="262.56" r="1.75" fill="#00b579" stroke="#00b579"/>
<circle cx="196.01" cy="267.75" r="1.75" fill="#00a68e" stroke="#00a68e"/>
<circle cx="190.29" cy="272.09" r="1.75" fill="#abdc12" stroke="#abdc12"/>
<circle cx="202.67" cy="274.69" r="1.75" fill="#00b084" stroke="#00b084"/>
<circle cx="193.34" cy="281.08" r="1.75" fill="#078396" stroke="#078396"/>
<circle cx="189.66" cy="275.16" r="1.75" fill="#2a4390" stroke="#2a4390"/>
<circle cx="198.32" cy="271.15" r="1.75" fill="#00b57a" stroke="#00b57a"/>
<circle cx="202.65" cy="267.27" r="1.75" fill="#32c755" stroke="#32c755"/>
<circle cx="188.1" cy="281.8" r="1.75" fill="#0e6f93" stroke="#0e6f93"/>
<circle cx="198.71" cy="270.88" r="1.75" fill="#156390" stroke="#156390"/>
<circle cx="200.71" cy="272.92" r="1.75" fill="#17c162" stroke="#17c162"/>
<circle cx="188.69" cy="273.86" r="1.75" fill="#039496" stroke="#039496"/>
<circle cx="43" cy="358.76" r="1.75" fill="#f2e101" stroke="#f2e101"/>
<circle cx="44.83" cy="366.12" r="1.75" fill="#06bb6b" stroke="#06bb6b"/>
<circle cx="52.05" cy="367.43" r="1.75" fill="#116991" stroke="#116991"/>
<circle cx="81.3" cy="380.34" r="1.75" fill="#00a88c" stroke="#00a88c"/>
<circle cx="74.16" cy="387.21" r="1.75" fill="#4e1b89" stroke="#4e1b89"/>
<circle cx="77.64" cy="389.5" r="1.75" fill="#12bf65" stroke="#12bf65"/>
<circle cx="73.46" cy="408.63" r="1.75" fill="#4e1b89" stroke="#4e1b89"/>
<circle cx="64.24" cy="395.39" r="1.75" fill="#009e96" stroke="#009e96"/>
<circle cx="69.98" cy="391.79" r="1.75" fill="#00b57a" stroke="#00b57a"/>
<circle cx="67.37" cy="391.79" r="1.75" fill="#4e1b89" stroke="#4e1b89"/>
<circle cx="66.67" cy="398.49" r="1.75" fill="#009e96" stroke="#009e96"/>
<circle cx="65.8" cy="403.56" r="1.75" fill="#058b96" stroke="#058b96"/>
<circle cx="47.7" cy="403.89" r="1.75" fill="#214f8f" stroke="#214f8f"/>
<circle cx="42.65" cy="407.65" r="1.75" fill="#00a88c" stroke="#00a88c"/>
<circle cx="43.35" cy="410.75" r="1.75" fill="#00a88c" stroke="#00a88c"/>
<circle cx="140.32" cy="316.25" r="1.75" fill="#47228b" stroke="#47228b"/>
<circle cx="142.76" cy="328.51" r="1.75" fill="#1d558f" stroke="#1d558f"/>
<circle cx="150.77" cy="324.59" r="1.75" fill="#2e3d91" stroke="#2e3d91"/>
<circle cx="162.26" cy="304.81" r="1.75" fill="#1d558f" stroke="#1d558f"/>
<circle cx="164.87" cy="290.91" r="1.75" fill="#1d558f" stroke="#1d558f"/>
<circle cx="169.92" cy="294.67" r="1.75" fill="#195b8e" stroke="#195b8e"/>
<circle cx="172.01" cy="286.5" r="1.75" fill="#d8e005" stroke="#d8e005"/>
<circle cx="174.79" cy="275.05" r="1.75" fill="#591084" stroke="#591084"/>
<circle cx="176.88" cy="293.03" r="1.75" fill="#591084" stroke="#591084"/>
<circle cx="180.36" cy="292.05" r="1.75" fill="#551487" stroke="#551487"/>
<circle cx="185.24" cy="293.69" r="1.75" fill="#591084" stroke="#591084"/>
<circle cx="178.62" cy="300.39" r="1.75" fill="#06bb6b" stroke="#06bb6b"/>
<circle cx="179.84" cy="297.29" r="1.75" fill="#00b282" stroke="#00b282"/>
<circle cx="180.36" cy="295.16" r="1.75" fill="#00a88c" stroke="#00a88c"/>
<circle cx="202.65" cy="277.83" r="1.75" fill="#591084" stroke="#591084"/>
<circle cx="189.94" cy="288.13" r="1.75" fill="#00b96e" stroke="#00b96e"/>
<circle cx="155.12" cy="373.97" r="1.75" fill="#00ae86" stroke="#00ae86"/>
<circle cx="211.7" cy="413.21" r="1.75" fill="#6a0076" stroke="#6a0076"/>
<circle cx="211.7" cy="418.11" r="1.75" fill="#00a88c" stroke="#00a88c"/>
<circle cx="41.08" cy="418.93" r="1.75" fill="#91d921" stroke="#91d921"/>
<circle cx="41.95" cy="417.3" r="1.75" fill="#b9de0a" stroke="#b9de0a"/>
<circle cx="42.82" cy="418.11" r="1.75" fill="#d8e005" stroke="#d8e005"/>
<circle cx="52.4" cy="412.39" r="1.75" fill="#b9de0a" stroke="#b9de0a"/>
<circle cx="56.75" cy="409.94" r="1.75" fill="#c6df08" stroke="#c6df08"/>
<circle cx="46.3" cy="417.3" r="1.75" fill="#600a7e" stroke="#600a7e"/>
<circle cx="55.01" cy="414.02" r="1.75" fill="#600a7e" stroke="#600a7e"/>
<circle cx="48.92" cy="414.02" r="1.75" fill="#591084" stroke="#591084"/>
<circle cx="184.71" cy="270.14" r="1.75" fill="#009e96" stroke="#009e96"/>
<circle cx="190.98" cy="270.14" r="1.75" fill="#e5e003" stroke="#e5e003"/>
<circle cx="203.69" cy="272.27" r="1.75" fill="#a9dc13" stroke="#a9dc13"/>
<circle cx="194.29" cy="264.59" r="1.75" fill="#600a7e" stroke="#600a7e"/>
<circle cx="208.57" cy="261.32" r="1.75" fill="#62087d" stroke="#62087d"/>
<circle cx="187.33" cy="275.05" r="1.75" fill="#591084" stroke="#591084"/>
<circle cx="194.29" cy="278.32" r="1.75" fill="#551487" stroke="#551487"/>
<circle cx="176.88" cy="277.5" r="1.75" fill="#1ec35f" stroke="#1ec35f"/>
<circle cx="178.62" cy="279.95" r="1.75" fill="#00b57a" stroke="#00b57a"/>
</g>
<path d="M37.6 428.5v2.3M31.55 422.2h-2.3M72.42 428.5v2.3M31.55 389.5h-2.3M107.24 428.5v2.3M31.55 356.8h-2.3M142.06 428.5v2.3M31.55 324.1h-2.3M176.88 428.5v2.3M31.55 291.4h-2.3M211.7 428.5v2.3M31.55 258.7h-2.3M240.6 393.9h2.3M240.6 358.5h2.3M240.6 323.1h2.3M240.6 287.7h2.3" stroke="#3a3a3a" stroke-width="0.8" fill="none"/>
<rect x="31.55" y="253.2" width="189" height="175.3" fill="none" stroke="#3a3a3a" stroke-width="0.9"/>
<rect x="232.45" y="253.2" width="8.15" height="175.3" fill="url(#vg)" stroke="none"/>
<rect x="232.45" y="253.2" width="8.15" height="175.3" fill="none" stroke="#3a3a3a" stroke-width="0.8"/>
<g font-family="'DejaVu Sans','Liberation Sans',sans-serif" fill="#000" stroke="#000" stroke-width="0.12">
<text x="126.35" y="248.8" font-size="7.93" text-anchor="middle">The correlation between two periods of MCI to AD</text>
<g font-size="6.7">
<text x="37.6" y="438.2" text-anchor="middle">0.0</text>
<text x="27.55" y="424.61" text-anchor="end">0.0</text>
<text x="72.42" y="438.2" text-anchor="middle">0.2</text>
<text x="27.55" y="391.91" text-anchor="end">0.2</text>
<text x="107.24" y="438.2" text-anchor="middle">0.4</text>
<text x="27.55" y="359.21" text-anchor="end">0.4</text>
<text x="142.06" y="438.2" text-anchor="middle">0.6</text>
<text x="27.55" y="326.51" text-anchor="end">0.6</text>
<text x="176.88" y="438.2" text-anchor="middle">0.8</text>
<text x="27.55" y="293.81" text-anchor="end">0.8</text>
<text x="211.7" y="438.2" text-anchor="middle">1.0</text>
<text x="27.55" y="261.11" text-anchor="end">1.0</text>
<text x="245" y="396.31">0.2</text>
<text x="245" y="360.91">0.4</text>
<text x="245" y="325.51">0.6</text>
<text x="245" y="290.11">0.8</text>
<text x="126.05" y="447.9" text-anchor="middle">Period 1</text>
<text transform="translate(11.5 340.85) rotate(-90)" text-anchor="middle">Period 2</text>
</g></g>
<text x="131.9" y="468.7" font-family="'Liberation Serif',serif" font-size="13.1" text-anchor="middle" fill="#000">(<tspan font-weight="bold">c</tspan>) MCI to MCI</text></g>
<g><path d="M324.3 252.75V429.35M318.55 423.25H508.55M359.36 252.75V429.35M318.55 390.28H508.55M394.42 252.75V429.35M318.55 357.31H508.55M429.48 252.75V429.35M318.55 324.34H508.55M464.54 252.75V429.35M318.55 291.37H508.55M499.6 252.75V429.35M318.55 258.4H508.55" stroke="#b0b0b0" stroke-width="0.55" fill="none"/>
<g fill-opacity="0.6" stroke-opacity="0.6" stroke-width="1.25">
<circle cx="331.81" cy="413.74" r="1.75" fill="#20518f" stroke="#20518f"/>
<circle cx="332.63" cy="413.83" r="1.75" fill="#16608f" stroke="#16608f"/>
<circle cx="336.01" cy="414.52" r="1.75" fill="#531688" stroke="#531688"/>
<circle cx="341.19" cy="406.51" r="1.75" fill="#00a391" stroke="#00a391"/>
<circle cx="341.05" cy="407.15" r="1.75" fill="#15618f" stroke="#15618f"/>
<circle cx="332.44" cy="417.46" r="1.75" fill="#0b7695" stroke="#0b7695"/>
<circle cx="329.42" cy="418.98" r="1.75" fill="#50ce44" stroke="#50ce44"/>
<circle cx="329.39" cy="419.48" r="1.75" fill="#058a96" stroke="#058a96"/>
<circle cx="331.03" cy="416.41" r="1.75" fill="#34c853" stroke="#34c853"/>
<circle cx="341.45" cy="409.39" r="1.75" fill="#214f8f" stroke="#214f8f"/>
<circle cx="333.94" cy="412.88" r="1.75" fill="#b6de0c" stroke="#b6de0c"/>
<circle cx="346.1" cy="409.87" r="1.75" fill="#068696" stroke="#068696"/>
<circle cx="335.25" cy="414.39" r="1.75" fill="#00ad87" stroke="#00ad87"/>
<circle cx="339.33" cy="415.29" r="1.75" fill="#16608e" stroke="#16608e"/>
<circle cx="348.84" cy="403.06" r="1.75" fill="#5dd13d" stroke="#5dd13d"/>
<circle cx="336.93" cy="410.39" r="1.75" fill="#00b773" stroke="#00b773"/>
<circle cx="336.45" cy="412.37" r="1.75" fill="#106c92" stroke="#106c92"/>
<circle cx="335.69" cy="413.45" r="1.75" fill="#5cd13e" stroke="#5cd13e"/>
<circle cx="332.26" cy="415.87" r="1.75" fill="#373290" stroke="#373290"/>
<circle cx="326.35" cy="416.01" r="1.75" fill="#00a58f" stroke="#00a58f"/>
<circle cx="339.26" cy="413.49" r="1.75" fill="#068896" stroke="#068896"/>
<circle cx="342.71" cy="404.3" r="1.75" fill="#136691" stroke="#136691"/>
<circle cx="334.9" cy="418.74" r="1.75" fill="#00b183" stroke="#00b183"/>
<circle cx="331.33" cy="418.45" r="1.75" fill="#068796" stroke="#068796"/>
<circle cx="333.06" cy="414.86" r="1.75" fill="#00a58f" stroke="#00a58f"/>
<circle cx="333.91" cy="417.44" r="1.75" fill="#00a98b" stroke="#00a98b"/>
<circle cx="337.85" cy="410.58" r="1.75" fill="#00b579" stroke="#00b579"/>
<circle cx="330.91" cy="414.88" r="1.75" fill="#1d558f" stroke="#1d558f"/>
<circle cx="348.69" cy="405.31" r="1.75" fill="#097e96" stroke="#097e96"/>
<circle cx="346.35" cy="404.04" r="1.75" fill="#1e538f" stroke="#1e538f"/>
<circle cx="341.9" cy="408.85" r="1.75" fill="#00a094" stroke="#00a094"/>
<circle cx="341.28" cy="414.34" r="1.75" fill="#029896" stroke="#029896"/>
<circle cx="347.11" cy="403.7" r="1.75" fill="#0abc69" stroke="#0abc69"/>
<circle cx="339.89" cy="411.94" r="1.75" fill="#264890" stroke="#264890"/>
<circle cx="336.88" cy="407.88" r="1.75" fill="#38c951" stroke="#38c951"/>
<circle cx="336.9" cy="414.86" r="1.75" fill="#00a88c" stroke="#00a88c"/>
<circle cx="330.54" cy="412.08" r="1.75" fill="#00b37f" stroke="#00b37f"/>
<circle cx="329.46" cy="420.32" r="1.75" fill="#00a58f" stroke="#00a58f"/>
<circle cx="340.22" cy="403.27" r="1.75" fill="#00a68e" stroke="#00a68e"/>
<circle cx="332.82" cy="413.86" r="1.75" fill="#20518f" stroke="#20518f"/>
<circle cx="336.06" cy="411.34" r="1.75" fill="#00a490" stroke="#00a490"/>
<circle cx="344.45" cy="403.06" r="1.75" fill="#0d7294" stroke="#0d7294"/>
<circle cx="340.31" cy="406.3" r="1.75" fill="#f2e101" stroke="#f2e101"/>
<circle cx="336.53" cy="407.98" r="1.75" fill="#00a094" stroke="#00a094"/>
<circle cx="335.48" cy="407.84" r="1.75" fill="#00a193" stroke="#00a193"/>
<circle cx="337.34" cy="412.77" r="1.75" fill="#195b8e" stroke="#195b8e"/>
<circle cx="346.55" cy="407.4" r="1.75" fill="#07bb6b" stroke="#07bb6b"/>
<circle cx="340.33" cy="416.05" r="1.75" fill="#00a490" stroke="#00a490"/>
<circle cx="333.33" cy="416.43" r="1.75" fill="#088196" stroke="#088196"/>
<circle cx="330.63" cy="415.02" r="1.75" fill="#15c064" stroke="#15c064"/>
<circle cx="345.81" cy="403.16" r="1.75" fill="#531687" stroke="#531687"/>
<circle cx="340.49" cy="408.56" r="1.75" fill="#264990" stroke="#264990"/>
<circle cx="336.81" cy="413.24" r="1.75" fill="#00b676" stroke="#00b676"/>
<circle cx="338.15" cy="412.99" r="1.75" fill="#17c163" stroke="#17c163"/>
<circle cx="329.62" cy="419.34" r="1.75" fill="#353490" stroke="#353490"/>
<circle cx="335.68" cy="411.87" r="1.75" fill="#29c559" stroke="#29c559"/>
<circle cx="339.8" cy="415.13" r="1.75" fill="#019b96" stroke="#019b96"/>
<circle cx="340.09" cy="407.03" r="1.75" fill="#1ec35f" stroke="#1ec35f"/>
<circle cx="343.56" cy="410.74" r="1.75" fill="#5bd13f" stroke="#5bd13f"/>
<circle cx="335.48" cy="413.79" r="1.75" fill="#097d96" stroke="#097d96"/>
<circle cx="334.16" cy="416.5" r="1.75" fill="#52cf43" stroke="#52cf43"/>
<circle cx="331.08" cy="418.34" r="1.75" fill="#00a88c" stroke="#00a88c"/>
<circle cx="345.21" cy="407.99" r="1.75" fill="#185c8e" stroke="#185c8e"/>
<circle cx="339.42" cy="413.51" r="1.75" fill="#343590" stroke="#343590"/>
<circle cx="337.89" cy="411.93" r="1.75" fill="#00b183" stroke="#00b183"/>
<circle cx="330" cy="421.72" r="1.75" fill="#2b4190" stroke="#2b4190"/>
<circle cx="329.97" cy="410.96" r="1.75" fill="#00aa8a" stroke="#00aa8a"/>
<circle cx="345.97" cy="405.4" r="1.75" fill="#4f1a89" stroke="#4f1a89"/>
<circle cx="337.61" cy="413.53" r="1.75" fill="#8fd922" stroke="#8fd922"/>
<circle cx="329.52" cy="420.35" r="1.75" fill="#97da1d" stroke="#97da1d"/>
<circle cx="337.95" cy="414.57" r="1.75" fill="#0abc69" stroke="#0abc69"/>
<circle cx="344.85" cy="411.89" r="1.75" fill="#531687" stroke="#531687"/>
<circle cx="329.8" cy="419.11" r="1.75" fill="#00b183" stroke="#00b183"/>
<circle cx="337.31" cy="410.73" r="1.75" fill="#00ad87" stroke="#00ad87"/>
<circle cx="344.36" cy="410.18" r="1.75" fill="#1b588e" stroke="#1b588e"/>
<circle cx="335.35" cy="413.4" r="1.75" fill="#019a96" stroke="#019a96"/>
<circle cx="338.39" cy="414.62" r="1.75" fill="#087f96" stroke="#087f96"/>
<circle cx="331.64" cy="416.78" r="1.75" fill="#04ba6c" stroke="#04ba6c"/>
<circle cx="327.95" cy="418.67" r="1.75" fill="#1b588e" stroke="#1b588e"/>
<circle cx="342.58" cy="405.64" r="1.75" fill="#00b774" stroke="#00b774"/>
<circle cx="332.57" cy="414.44" r="1.75" fill="#097b96" stroke="#097b96"/>
<circle cx="345.64" cy="406.58" r="1.75" fill="#2a4290" stroke="#2a4290"/>
<circle cx="331.69" cy="413.75" r="1.75" fill="#4fce45" stroke="#4fce45"/>
<circle cx="341.46" cy="409.48" r="1.75" fill="#00b183" stroke="#00b183"/>
<circle cx="336.13" cy="411.63" r="1.75" fill="#2d3e90" stroke="#2d3e90"/>
<circle cx="342.01" cy="405.48" r="1.75" fill="#82d729" stroke="#82d729"/>
<circle cx="333.03" cy="416.44" r="1.75" fill="#6ed534" stroke="#6ed534"/>
<circle cx="342.55" cy="411.13" r="1.75" fill="#96da1e" stroke="#96da1e"/>
<circle cx="330.45" cy="415.68" r="1.75" fill="#00b281" stroke="#00b281"/>
<circle cx="352.03" cy="402.11" r="1.75" fill="#039496" stroke="#039496"/>
<circle cx="339.36" cy="412.74" r="1.75" fill="#00b282" stroke="#00b282"/>
<circle cx="332.79" cy="419.3" r="1.75" fill="#5f0a7f" stroke="#5f0a7f"/>
<circle cx="336.71" cy="409.59" r="1.75" fill="#254990" stroke="#254990"/>
<circle cx="343.51" cy="406.81" r="1.75" fill="#195a8e" stroke="#195a8e"/>
<circle cx="344.33" cy="412.37" r="1.75" fill="#591083" stroke="#591083"/>
<circle cx="332.56" cy="413.48" r="1.75" fill="#234d8f" stroke="#234d8f"/>
<circle cx="339.54" cy="403.46" r="1.75" fill="#00b084" stroke="#00b084"/>
<circle cx="339.33" cy="404.45" r="1.75" fill="#21508f" stroke="#21508f"/>
<circle cx="338.74" cy="412.26" r="1.75" fill="#00a490" stroke="#00a490"/>
<circle cx="337.27" cy="411.51" r="1.75" fill="#84d728" stroke="#84d728"/>
<circle cx="342.82" cy="405.38" r="1.75" fill="#274690" stroke="#274690"/>
<circle cx="334.66" cy="411.18" r="1.75" fill="#00ab89" stroke="#00ab89"/>
<circle cx="338.69" cy="410.41" r="1.75" fill="#591084" stroke="#591084"/>
<circle cx="339.67" cy="413.12" r="1.75" fill="#1e538f" stroke="#1e538f"/>
<circle cx="336.66" cy="409.91" r="1.75" fill="#47228b" stroke="#47228b"/>
<circle cx="343.37" cy="404.58" r="1.75" fill="#20c45e" stroke="#20c45e"/>
<circle cx="336.4" cy="416.82" r="1.75" fill="#106c92" stroke="#106c92"/>
<circle cx="334.86" cy="415.05" r="1.75" fill="#49208a" stroke="#49208a"/>
<circle cx="345.49" cy="403.79" r="1.75" fill="#01b96e" stroke="#01b96e"/>
<circle cx="328.86" cy="419.1" r="1.75" fill="#019b96" stroke="#019b96"/>
<circle cx="330.99" cy="415.51" r="1.75" fill="#00b37f" stroke="#00b37f"/>
<circle cx="331.94" cy="413.83" r="1.75" fill="#088096" stroke="#088096"/>
<circle cx="330.2" cy="416.14" r="1.75" fill="#009d96" stroke="#009d96"/>
<circle cx="346.48" cy="404.08" r="1.75" fill="#087f96" stroke="#087f96"/>
<circle cx="332.7" cy="420.22" r="1.75" fill="#00b282" stroke="#00b282"/>
<circle cx="332.66" cy="413.79" r="1.75" fill="#1c578f" stroke="#1c578f"/>
<circle cx="329.05" cy="414.32" r="1.75" fill="#088096" stroke="#088096"/>
<circle cx="337.34" cy="405.59" r="1.75" fill="#15628f" stroke="#15628f"/>
<circle cx="340.58" cy="408.98" r="1.75" fill="#37328f" stroke="#37328f"/>
<circle cx="332.13" cy="416.36" r="1.75" fill="#1e548f" stroke="#1e548f"/>
<circle cx="332.94" cy="410.9" r="1.75" fill="#92d920" stroke="#92d920"/>
<circle cx="338.17" cy="406.53" r="1.75" fill="#acdc12" stroke="#acdc12"/>
<circle cx="334.12" cy="413.41" r="1.75" fill="#00af85" stroke="#00af85"/>
<circle cx="338.48" cy="408.49" r="1.75" fill="#ebe002" stroke="#ebe002"/>
<circle cx="332.49" cy="418.44" r="1.75" fill="#96da1d" stroke="#96da1d"/>
<circle cx="330.29" cy="415.93" r="1.75" fill="#214f8f" stroke="#214f8f"/>
<circle cx="343.77" cy="408.63" r="1.75" fill="#45248c" stroke="#45248c"/>
<circle cx="343.63" cy="406.66" r="1.75" fill="#264990" stroke="#264990"/>
<circle cx="342.21" cy="407.84" r="1.75" fill="#1a5a8e" stroke="#1a5a8e"/>
<circle cx="336.82" cy="413.66" r="1.75" fill="#49cd48" stroke="#49cd48"/>
<circle cx="334.35" cy="421.3" r="1.75" fill="#0a7896" stroke="#0a7896"/>
<circle cx="343.72" cy="408.68" r="1.75" fill="#00a193" stroke="#00a193"/>
<circle cx="335.13" cy="412.57" r="1.75" fill="#0a7996" stroke="#0a7996"/>
<circle cx="335.03" cy="413.92" r="1.75" fill="#45cc4a" stroke="#45cc4a"/>
<circle cx="341.71" cy="409.11" r="1.75" fill="#35c853" stroke="#35c853"/>
<circle cx="336.98" cy="410.67" r="1.75" fill="#00ac88" stroke="#00ac88"/>
<circle cx="336.57" cy="410.21" r="1.75" fill="#009f95" stroke="#009f95"/>
<circle cx="344.1" cy="403.28" r="1.75" fill="#f2e101" stroke="#f2e101"/>
<circle cx="340.76" cy="411.25" r="1.75" fill="#16608f" stroke="#16608f"/>
<circle cx="344.73" cy="405.2" r="1.75" fill="#19c162" stroke="#19c162"/>
<circle cx="337.23" cy="412.87" r="1.75" fill="#00b183" stroke="#00b183"/>
<circle cx="341.07" cy="411.2" r="1.75" fill="#078596" stroke="#078596"/>
<circle cx="337.61" cy="416.29" r="1.75" fill="#274790" stroke="#274790"/>
<circle cx="330.43" cy="418.07" r="1.75" fill="#4fce45" stroke="#4fce45"/>
<circle cx="345.86" cy="406.92" r="1.75" fill="#4d1c89" stroke="#4d1c89"/>
<circle cx="329.73" cy="411.36" r="1.75" fill="#195b8e" stroke="#195b8e"/>
<circle cx="328.88" cy="419.43" r="1.75" fill="#313891" stroke="#313891"/>
<circle cx="334.1" cy="415.28" r="1.75" fill="#048f96" stroke="#048f96"/>
<circle cx="346.53" cy="404.89" r="1.75" fill="#00af85" stroke="#00af85"/>
<circle cx="330.29" cy="411.78" r="1.75" fill="#24c45c" stroke="#24c45c"/>
<circle cx="333.78" cy="417.91" r="1.75" fill="#0c7595" stroke="#0c7595"/>
<circle cx="342.63" cy="407.6" r="1.75" fill="#20518f" stroke="#20518f"/>
<circle cx="339.89" cy="411.91" r="1.75" fill="#284590" stroke="#284590"/>
<circle cx="338.97" cy="410.69" r="1.75" fill="#44cc4a" stroke="#44cc4a"/>
<circle cx="344.54" cy="405.55" r="1.75" fill="#4dce46" stroke="#4dce46"/>
<circle cx="340.95" cy="405.22" r="1.75" fill="#029796" stroke="#029796"/>
<circle cx="344.22" cy="410.06" r="1.75" fill="#058b96" stroke="#058b96"/>
<circle cx="335.68" cy="413.24" r="1.75" fill="#00a98b" stroke="#00a98b"/>
<circle cx="328.27" cy="414.3" r="1.75" fill="#dde004" stroke="#dde004"/>
<circle cx="349.41" cy="402.68" r="1.75" fill="#353490" stroke="#353490"/>
<circle cx="328.84" cy="419.72" r="1.75" fill="#a4db16" stroke="#a4db16"/>
<circle cx="338.19" cy="413.79" r="1.75" fill="#78d62f" stroke="#78d62f"/>
<circle cx="331.81" cy="423.88" r="1.75" fill="#5e0b80" stroke="#5e0b80"/>
<circle cx="338.1" cy="411.39" r="1.75" fill="#049096" stroke="#049096"/>
<circle cx="329.08" cy="415.05" r="1.75" fill="#00b96e" stroke="#00b96e"/>
<circle cx="338.81" cy="411.91" r="1.75" fill="#00af85" stroke="#00af85"/>
<circle cx="337.26" cy="417.76" r="1.75" fill="#00b774" stroke="#00b774"/>
<circle cx="333.01" cy="414.63" r="1.75" fill="#30c755" stroke="#30c755"/>
<circle cx="348.02" cy="402.17" r="1.75" fill="#60d23c" stroke="#60d23c"/>
<circle cx="345.72" cy="401.45" r="1.75" fill="#35c853" stroke="#35c853"/>
<circle cx="328.65" cy="416.28" r="1.75" fill="#0c7495" stroke="#0c7495"/>
<circle cx="338.64" cy="411.44" r="1.75" fill="#00a68e" stroke="#00a68e"/>
<circle cx="340.21" cy="407.98" r="1.75" fill="#00af85" stroke="#00af85"/>
<circle cx="335.94" cy="418.81" r="1.75" fill="#1e548f" stroke="#1e548f"/>
<circle cx="332.91" cy="412" r="1.75" fill="#078396" stroke="#078396"/>
<circle cx="342.17" cy="406.94" r="1.75" fill="#08bc6a" stroke="#08bc6a"/>
<circle cx="335.37" cy="410" r="1.75" fill="#0a7996" stroke="#0a7996"/>
<circle cx="338.34" cy="407.55" r="1.75" fill="#00b775" stroke="#00b775"/>
<circle cx="335.21" cy="414.5" r="1.75" fill="#4d1c89" stroke="#4d1c89"/>
<circle cx="337.35" cy="412.19" r="1.75" fill="#274790" stroke="#274790"/>
<circle cx="332.93" cy="418.45" r="1.75" fill="#0f6e93" stroke="#0f6e93"/>
<circle cx="336.08" cy="419.57" r="1.75" fill="#521788" stroke="#521788"/>
<circle cx="338.61" cy="411.02" r="1.75" fill="#1d558f" stroke="#1d558f"/>
<circle cx="332.36" cy="415.56" r="1.75" fill="#76d630" stroke="#76d630"/>
<circle cx="333.84" cy="418.34" r="1.75" fill="#16608e" stroke="#16608e"/>
<circle cx="334.29" cy="412.1" r="1.75" fill="#039196" stroke="#039196"/>
<circle cx="339.16" cy="409.82" r="1.75" fill="#00aa8a" stroke="#00aa8a"/>
<circle cx="332.28" cy="414.66" r="1.75" fill="#abdc12" stroke="#abdc12"/>
<circle cx="334.81" cy="416.42" r="1.75" fill="#00b579" stroke="#00b579"/>
<circle cx="336.57" cy="418.12" r="1.75" fill="#2e3d91" stroke="#2e3d91"/>
<circle cx="336.09" cy="410.35" r="1.75" fill="#264890" stroke="#264890"/>
<circle cx="335.89" cy="411.05" r="1.75" fill="#009d96" stroke="#009d96"/>
<circle cx="337.08" cy="412.29" r="1.75" fill="#009e96" stroke="#009e96"/>
<circle cx="332.58" cy="417.25" r="1.75" fill="#039296" stroke="#039296"/>
<circle cx="349.86" cy="401.61" r="1.75" fill="#1dc360" stroke="#1dc360"/>
<circle cx="348.42" cy="402.46" r="1.75" fill="#078296" stroke="#078296"/>
<circle cx="346.47" cy="405.28" r="1.75" fill="#23c45c" stroke="#23c45c"/>
<circle cx="347.39" cy="409.03" r="1.75" fill="#0abc69" stroke="#0abc69"/>
<circle cx="341.03" cy="406.1" r="1.75" fill="#22c45d" stroke="#22c45d"/>
<circle cx="341.68" cy="412.61" r="1.75" fill="#068596" stroke="#068596"/>
<circle cx="332.05" cy="417.43" r="1.75" fill="#26c55b" stroke="#26c55b"/>
<circle cx="345.35" cy="405.65" r="1.75" fill="#106b92" stroke="#106b92"/>
<circle cx="340.63" cy="408.04" r="1.75" fill="#45cc4a" stroke="#45cc4a"/>
<circle cx="335.67" cy="418.43" r="1.75" fill="#048e96" stroke="#048e96"/>
<circle cx="332.3" cy="412.22" r="1.75" fill="#26c55b" stroke="#26c55b"/>
<circle cx="332.69" cy="413.65" r="1.75" fill="#019896" stroke="#019896"/>
<circle cx="328.45" cy="416.9" r="1.75" fill="#bbde0a" stroke="#bbde0a"/>
<circle cx="329.86" cy="414.08" r="1.75" fill="#195b8e" stroke="#195b8e"/>
<circle cx="343.04" cy="409.19" r="1.75" fill="#00a98b" stroke="#00a98b"/>
<circle cx="344.27" cy="412.43" r="1.75" fill="#00a98b" stroke="#00a98b"/>
<circle cx="333.22" cy="414.22" r="1.75" fill="#00a88c" stroke="#00a88c"/>
<circle cx="332.27" cy="411.89" r="1.75" fill="#058c96" stroke="#058c96"/>
<circle cx="334.24" cy="410.7" r="1.75" fill="#2dc657" stroke="#2dc657"/>
<circle cx="343.42" cy="408.03" r="1.75" fill="#49208a" stroke="#49208a"/>
<circle cx="333.58" cy="415.27" r="1.75" fill="#00b871" stroke="#00b871"/>
<circle cx="338.23" cy="410.02" r="1.75" fill="#3d2c8e" stroke="#3d2c8e"/>
<circle cx="347.43" cy="408.34" r="1.75" fill="#38318f" stroke="#38318f"/>
<circle cx="339.47" cy="411.92" r="1.75" fill="#56d041" stroke="#56d041"/>
<circle cx="334.66" cy="416.09" r="1.75" fill="#65d339" stroke="#65d339"/>
<circle cx="328.64" cy="414.06" r="1.75" fill="#bede09" stroke="#bede09"/>
<circle cx="336.05" cy="414.91" r="1.75" fill="#00b47b" stroke="#00b47b"/>
<circle cx="325.75" cy="416.52" r="1.75" fill="#dee004" stroke="#dee004"/>
<circle cx="337.47" cy="411.52" r="1.75" fill="#79d62e" stroke="#79d62e"/>
<circle cx="336.28" cy="418.04" r="1.75" fill="#43cb4b" stroke="#43cb4b"/>
<circle cx="338.12" cy="404.23" r="1.75" fill="#c8df08" stroke="#c8df08"/>
<circle cx="336.89" cy="415.18" r="1.75" fill="#3c2d8e" stroke="#3c2d8e"/>
<circle cx="338.52" cy="408.72" r="1.75" fill="#048e96" stroke="#048e96"/>
<circle cx="336" cy="407.49" r="1.75" fill="#f2e101" stroke="#f2e101"/>
<circle cx="345.86" cy="405.84" r="1.75" fill="#078396" stroke="#078396"/>
<circle cx="337.12" cy="415.81" r="1.75" fill="#126891" stroke="#126891"/>
<circle cx="336.46" cy="409.16" r="1.75" fill="#0f6e93" stroke="#0f6e93"/>
<circle cx="344.72" cy="405.04" r="1.75" fill="#1f528f" stroke="#1f528f"/>
<circle cx="335.15" cy="417.57" r="1.75" fill="#660479" stroke="#660479"/>
<circle cx="340.11" cy="412.65" r="1.75" fill="#00b96f" stroke="#00b96f"/>
<circle cx="339.33" cy="411.15" r="1.75" fill="#0a7896" stroke="#0a7896"/>
<circle cx="332.87" cy="412.46" r="1.75" fill="#009d96" stroke="#009d96"/>
<circle cx="334.8" cy="414.8" r="1.75" fill="#1d558f" stroke="#1d558f"/>
<circle cx="345.02" cy="403.02" r="1.75" fill="#00a98b" stroke="#00a98b"/>
<circle cx="341.22" cy="403.28" r="1.75" fill="#00a68e" stroke="#00a68e"/>
<circle cx="340.39" cy="405.13" r="1.75" fill="#058c96" stroke="#058c96"/>
<circle cx="330.37" cy="413.06" r="1.75" fill="#c7df08" stroke="#c7df08"/>
<circle cx="336.8" cy="408.28" r="1.75" fill="#61d23b" stroke="#61d23b"/>
<circle cx="348.71" cy="406.54" r="1.75" fill="#00b96f" stroke="#00b96f"/>
<circle cx="328.87" cy="415.02" r="1.75" fill="#00a094" stroke="#00a094"/>
<circle cx="335.85" cy="411.92" r="1.75" fill="#00b37f" stroke="#00b37f"/>
<circle cx="340.76" cy="409.07" r="1.75" fill="#00a68e" stroke="#00a68e"/>
<circle cx="333.24" cy="418.81" r="1.75" fill="#15618f" stroke="#15618f"/>
<circle cx="342.05" cy="412.52" r="1.75" fill="#65057a" stroke="#65057a"/>
<circle cx="340.13" cy="412.72" r="1.75" fill="#21508f" stroke="#21508f"/>
<circle cx="327.86" cy="420" r="1.75" fill="#561386" stroke="#561386"/>
<circle cx="345.29" cy="408.31" r="1.75" fill="#0b7695" stroke="#0b7695"/>
<circle cx="339.58" cy="412.28" r="1.75" fill="#234c8f" stroke="#234c8f"/>
<circle cx="350.48" cy="402" r="1.75" fill="#541587" stroke="#541587"/>
<circle cx="338.29" cy="408.76" r="1.75" fill="#58d040" stroke="#58d040"/>
<circle cx="329.55" cy="419.44" r="1.75" fill="#058b96" stroke="#058b96"/>
<circle cx="340.92" cy="409" r="1.75" fill="#2e3d91" stroke="#2e3d91"/>
<circle cx="344.56" cy="401.43" r="1.75" fill="#254a90" stroke="#254a90"/>
<circle cx="337.89" cy="412.2" r="1.75" fill="#097b96" stroke="#097b96"/>
<circle cx="338.09" cy="409.14" r="1.75" fill="#00b96f" stroke="#00b96f"/>
<circle cx="350.54" cy="403.25" r="1.75" fill="#254a90" stroke="#254a90"/>
<circle cx="335.9" cy="411.87" r="1.75" fill="#0d7294" stroke="#0d7294"/>
<circle cx="340.11" cy="408.88" r="1.75" fill="#1fc35e" stroke="#1fc35e"/>
<circle cx="345.55" cy="403.99" r="1.75" fill="#019a96" stroke="#019a96"/>
<circle cx="336.84" cy="413.59" r="1.75" fill="#58d040" stroke="#58d040"/>
<circle cx="345.25" cy="407.89" r="1.75" fill="#00b677" stroke="#00b677"/>
<circle cx="334.76" cy="414.88" r="1.75" fill="#521788" stroke="#521788"/>
<circle cx="332.36" cy="417.55" r="1.75" fill="#07bb6a" stroke="#07bb6a"/>
<circle cx="335.69" cy="409.84" r="1.75" fill="#106b92" stroke="#106b92"/>
<circle cx="329.24" cy="415.73" r="1.75" fill="#068896" stroke="#068896"/>
<circle cx="334.81" cy="417.79" r="1.75" fill="#244c8f" stroke="#244c8f"/>
<circle cx="334" cy="412.57" r="1.75" fill="#2d3e90" stroke="#2d3e90"/>
<circle cx="333.26" cy="416.79" r="1.75" fill="#00a094" stroke="#00a094"/>
<circle cx="333.63" cy="413.42" r="1.75" fill="#9dda1a" stroke="#9dda1a"/>
<circle cx="330.86" cy="418.92" r="1.75" fill="#294490" stroke="#294490"/>
<circle cx="334.67" cy="418.81" r="1.75" fill="#00ab89" stroke="#00ab89"/>
<circle cx="345.27" cy="401.74" r="1.75" fill="#009d96" stroke="#009d96"/>
<circle cx="336.63" cy="410.86" r="1.75" fill="#00a094" stroke="#00a094"/>
<circle cx="334.48" cy="418.16" r="1.75" fill="#0abc69" stroke="#0abc69"/>
<circle cx="339.33" cy="415.96" r="1.75" fill="#224e8f" stroke="#224e8f"/>
<circle cx="340.63" cy="410.46" r="1.75" fill="#00b183" stroke="#00b183"/>
<circle cx="485.7" cy="270.63" r="1.75" fill="#3d2c8e" stroke="#3d2c8e"/>
<circle cx="480.69" cy="267.51" r="1.75" fill="#11bf65" stroke="#11bf65"/>
<circle cx="479.13" cy="278.39" r="1.75" fill="#00a68e" stroke="#00a68e"/>
<circle cx="488.01" cy="272.47" r="1.75" fill="#00b282" stroke="#00b282"/>
<circle cx="488.26" cy="268.81" r="1.75" fill="#00b57a" stroke="#00b57a"/>
<circle cx="488.78" cy="272.72" r="1.75" fill="#0bbd69" stroke="#0bbd69"/>
<circle cx="475.65" cy="277.77" r="1.75" fill="#048d96" stroke="#048d96"/>
<circle cx="489.35" cy="265.05" r="1.75" fill="#d5df06" stroke="#d5df06"/>
<circle cx="489.7" cy="266.35" r="1.75" fill="#1d558f" stroke="#1d558f"/>
<circle cx="487.04" cy="271.94" r="1.75" fill="#019996" stroke="#019996"/>
<circle cx="493.85" cy="264.33" r="1.75" fill="#0d7194" stroke="#0d7194"/>
<circle cx="475.6" cy="278" r="1.75" fill="#00b96f" stroke="#00b96f"/>
<circle cx="476.85" cy="273.48" r="1.75" fill="#039196" stroke="#039196"/>
<circle cx="487.05" cy="271.9" r="1.75" fill="#185c8e" stroke="#185c8e"/>
<circle cx="482.33" cy="276.93" r="1.75" fill="#21c45d" stroke="#21c45d"/>
<circle cx="479.98" cy="271.83" r="1.75" fill="#00a78d" stroke="#00a78d"/>
<circle cx="486.91" cy="269.79" r="1.75" fill="#00a58f" stroke="#00a58f"/>
<circle cx="480.5" cy="274.73" r="1.75" fill="#00a490" stroke="#00a490"/>
<circle cx="483.67" cy="271.53" r="1.75" fill="#0b7595" stroke="#0b7595"/>
<circle cx="480.29" cy="281.41" r="1.75" fill="#41288d" stroke="#41288d"/>
<circle cx="480.87" cy="276.93" r="1.75" fill="#00b47b" stroke="#00b47b"/>
<circle cx="473.32" cy="276.38" r="1.75" fill="#00b773" stroke="#00b773"/>
<circle cx="478.31" cy="279.47" r="1.75" fill="#05bb6b" stroke="#05bb6b"/>
<circle cx="477.84" cy="280.18" r="1.75" fill="#0d7294" stroke="#0d7294"/>
<circle cx="480.51" cy="274.93" r="1.75" fill="#009e96" stroke="#009e96"/>
<circle cx="481.78" cy="273.46" r="1.75" fill="#39c951" stroke="#39c951"/>
<circle cx="462.31" cy="275.92" r="1.75" fill="#0d7294" stroke="#0d7294"/>
<circle cx="476.68" cy="285.92" r="1.75" fill="#1f528f" stroke="#1f528f"/>
<circle cx="489.05" cy="268.14" r="1.75" fill="#36c852" stroke="#36c852"/>
<circle cx="482.69" cy="267.13" r="1.75" fill="#039196" stroke="#039196"/>
<circle cx="494" cy="263.9" r="1.75" fill="#45248b" stroke="#45248b"/>
<circle cx="485.43" cy="270.47" r="1.75" fill="#00a490" stroke="#00a490"/>
<circle cx="487.35" cy="276.45" r="1.75" fill="#3d2c8e" stroke="#3d2c8e"/>
<circle cx="492.03" cy="264.01" r="1.75" fill="#04ba6c" stroke="#04ba6c"/>
<circle cx="476.39" cy="275.26" r="1.75" fill="#00b871" stroke="#00b871"/>
<circle cx="488.61" cy="266.71" r="1.75" fill="#00ae86" stroke="#00ae86"/>
<circle cx="489.28" cy="268.85" r="1.75" fill="#67d438" stroke="#67d438"/>
<circle cx="488.7" cy="267.8" r="1.75" fill="#097d96" stroke="#097d96"/>
<circle cx="482.78" cy="274.66" r="1.75" fill="#ccdf07" stroke="#ccdf07"/>
<circle cx="483" cy="270.64" r="1.75" fill="#07bb6b" stroke="#07bb6b"/>
<circle cx="471.89" cy="284.53" r="1.75" fill="#019996" stroke="#019996"/>
<circle cx="484.75" cy="269.6" r="1.75" fill="#bfde09" stroke="#bfde09"/>
<circle cx="495.1" cy="264.97" r="1.75" fill="#00af85" stroke="#00af85"/>
<circle cx="485.29" cy="273.4" r="1.75" fill="#9fdb18" stroke="#9fdb18"/>
<circle cx="492.86" cy="271.17" r="1.75" fill="#244b8f" stroke="#244b8f"/>
<circle cx="493.4" cy="264.77" r="1.75" fill="#019a96" stroke="#019a96"/>
<circle cx="489.74" cy="266" r="1.75" fill="#49208a" stroke="#49208a"/>
<circle cx="480.83" cy="277.55" r="1.75" fill="#38c951" stroke="#38c951"/>
<circle cx="472.98" cy="271.04" r="1.75" fill="#136690" stroke="#136690"/>
<circle cx="485.33" cy="276.62" r="1.75" fill="#2c4090" stroke="#2c4090"/>
<circle cx="482.16" cy="276.65" r="1.75" fill="#294490" stroke="#294490"/>
<circle cx="491.54" cy="268.61" r="1.75" fill="#5d0d81" stroke="#5d0d81"/>
<circle cx="483.06" cy="276.59" r="1.75" fill="#16c063" stroke="#16c063"/>
<circle cx="480.49" cy="279.16" r="1.75" fill="#254a90" stroke="#254a90"/>
<circle cx="485.08" cy="279.87" r="1.75" fill="#00b47c" stroke="#00b47c"/>
<circle cx="489.39" cy="271.47" r="1.75" fill="#097c96" stroke="#097c96"/>
<circle cx="490.06" cy="263.49" r="1.75" fill="#11bf66" stroke="#11bf66"/>
<circle cx="483.15" cy="275.25" r="1.75" fill="#00af85" stroke="#00af85"/>
<circle cx="480.38" cy="272.25" r="1.75" fill="#41cb4d" stroke="#41cb4d"/>
<circle cx="488.88" cy="273.37" r="1.75" fill="#5cd13e" stroke="#5cd13e"/>
<circle cx="492.26" cy="265.8" r="1.75" fill="#00b084" stroke="#00b084"/>
<circle cx="476.86" cy="276.67" r="1.75" fill="#45cc4a" stroke="#45cc4a"/>
<circle cx="480.84" cy="277.08" r="1.75" fill="#146490" stroke="#146490"/>
<circle cx="490.09" cy="269.03" r="1.75" fill="#049096" stroke="#049096"/>
<circle cx="472.67" cy="285.17" r="1.75" fill="#244c8f" stroke="#244c8f"/>
<circle cx="491.38" cy="266.32" r="1.75" fill="#00b96f" stroke="#00b96f"/>
<circle cx="482" cy="271.43" r="1.75" fill="#2fc756" stroke="#2fc756"/>
<circle cx="486.43" cy="267.22" r="1.75" fill="#f2e101" stroke="#f2e101"/>
<circle cx="486.5" cy="276.9" r="1.75" fill="#0d7294" stroke="#0d7294"/>
<circle cx="492.55" cy="271.08" r="1.75" fill="#44258c" stroke="#44258c"/>
<circle cx="479.83" cy="278.19" r="1.75" fill="#1a5a8e" stroke="#1a5a8e"/>
<circle cx="479.81" cy="277.09" r="1.75" fill="#3ac950" stroke="#3ac950"/>
<circle cx="470.91" cy="280.14" r="1.75" fill="#94d91f" stroke="#94d91f"/>
<circle cx="476.28" cy="274.37" r="1.75" fill="#146390" stroke="#146390"/>
<circle cx="481.51" cy="279.27" r="1.75" fill="#b2dd0e" stroke="#b2dd0e"/>
<circle cx="489.52" cy="263.71" r="1.75" fill="#00b57a" stroke="#00b57a"/>
<circle cx="489.21" cy="267.68" r="1.75" fill="#1a5a8e" stroke="#1a5a8e"/>
<circle cx="497.11" cy="262.63" r="1.75" fill="#00b578" stroke="#00b578"/>
<circle cx="479.04" cy="272.99" r="1.75" fill="#00b871" stroke="#00b871"/>
<circle cx="482.47" cy="273.37" r="1.75" fill="#068996" stroke="#068996"/>
<circle cx="485.4" cy="270.84" r="1.75" fill="#581285" stroke="#581285"/>
<circle cx="487.12" cy="277.61" r="1.75" fill="#28c55a" stroke="#28c55a"/>
<circle cx="491.95" cy="266.53" r="1.75" fill="#2e3d91" stroke="#2e3d91"/>
<circle cx="483.84" cy="272.69" r="1.75" fill="#00b96e" stroke="#00b96e"/>
<circle cx="483.85" cy="274.06" r="1.75" fill="#04ba6c" stroke="#04ba6c"/>
<circle cx="485.28" cy="269.55" r="1.75" fill="#20518f" stroke="#20518f"/>
<circle cx="483.77" cy="268.76" r="1.75" fill="#039496" stroke="#039496"/>
<circle cx="484.54" cy="267.51" r="1.75" fill="#00a88c" stroke="#00a88c"/>
<circle cx="483.59" cy="268.9" r="1.75" fill="#029696" stroke="#029696"/>
<circle cx="489.92" cy="268.15" r="1.75" fill="#31c755" stroke="#31c755"/>
<circle cx="482.74" cy="267.95" r="1.75" fill="#116a92" stroke="#116a92"/>
<circle cx="489.53" cy="267.4" r="1.75" fill="#30c756" stroke="#30c756"/>
<circle cx="485.13" cy="269.11" r="1.75" fill="#294490" stroke="#294490"/>
<circle cx="484.82" cy="273.51" r="1.75" fill="#c9df08" stroke="#c9df08"/>
<circle cx="491.02" cy="270.91" r="1.75" fill="#24c45c" stroke="#24c45c"/>
<circle cx="488.07" cy="280.12" r="1.75" fill="#126791" stroke="#126791"/>
<circle cx="494.92" cy="262.87" r="1.75" fill="#00b084" stroke="#00b084"/>
<circle cx="488.76" cy="271.08" r="1.75" fill="#1b598e" stroke="#1b598e"/>
<circle cx="492.19" cy="265.65" r="1.75" fill="#00a98b" stroke="#00a98b"/>
<circle cx="489.65" cy="265.81" r="1.75" fill="#a0db18" stroke="#a0db18"/>
<circle cx="491" cy="271.46" r="1.75" fill="#660479" stroke="#660479"/>
<circle cx="483.02" cy="285.25" r="1.75" fill="#41cb4c" stroke="#41cb4c"/>
<circle cx="480.77" cy="274.9" r="1.75" fill="#9bda1b" stroke="#9bda1b"/>
<circle cx="481.08" cy="274.14" r="1.75" fill="#00b57a" stroke="#00b57a"/>
<circle cx="475.72" cy="282.81" r="1.75" fill="#00a98b" stroke="#00a98b"/>
<circle cx="494.13" cy="264.69" r="1.75" fill="#45248c" stroke="#45248c"/>
<circle cx="495.1" cy="265.48" r="1.75" fill="#24c45c" stroke="#24c45c"/>
<circle cx="488.35" cy="269.47" r="1.75" fill="#00b380" stroke="#00b380"/>
<circle cx="490.16" cy="269.7" r="1.75" fill="#00a193" stroke="#00a193"/>
<circle cx="483.08" cy="272.2" r="1.75" fill="#58d040" stroke="#58d040"/>
<circle cx="477.14" cy="274.36" r="1.75" fill="#303a91" stroke="#303a91"/>
<circle cx="487.35" cy="272.2" r="1.75" fill="#1b588e" stroke="#1b588e"/>
<circle cx="494.85" cy="262.66" r="1.75" fill="#00a292" stroke="#00a292"/>
<circle cx="484.86" cy="271.68" r="1.75" fill="#03ba6c" stroke="#03ba6c"/>
<circle cx="488.29" cy="267.26" r="1.75" fill="#088196" stroke="#088196"/>
<circle cx="474.79" cy="273.09" r="1.75" fill="#224e8f" stroke="#224e8f"/>
<circle cx="488.54" cy="267.17" r="1.75" fill="#03ba6c" stroke="#03ba6c"/>
<circle cx="479.27" cy="273.96" r="1.75" fill="#00ab89" stroke="#00ab89"/>
<circle cx="472.04" cy="278.82" r="1.75" fill="#234d8f" stroke="#234d8f"/>
<circle cx="484.13" cy="275.07" r="1.75" fill="#00b282" stroke="#00b282"/>
<circle cx="476.76" cy="279.99" r="1.75" fill="#058b96" stroke="#058b96"/>
<circle cx="482.19" cy="273.3" r="1.75" fill="#00a68e" stroke="#00a68e"/>
<circle cx="470.77" cy="277.03" r="1.75" fill="#3e2b8e" stroke="#3e2b8e"/>
<circle cx="474.32" cy="274.51" r="1.75" fill="#343591" stroke="#343591"/>
<circle cx="472.34" cy="271.33" r="1.75" fill="#8ad824" stroke="#8ad824"/>
<circle cx="493.86" cy="266.13" r="1.75" fill="#00b084" stroke="#00b084"/>
<circle cx="495.02" cy="263.06" r="1.75" fill="#511888" stroke="#511888"/>
<circle cx="492.86" cy="269.34" r="1.75" fill="#00ad87" stroke="#00ad87"/>
<circle cx="491.71" cy="267.35" r="1.75" fill="#029596" stroke="#029596"/>
<circle cx="490.09" cy="273.34" r="1.75" fill="#00a88c" stroke="#00a88c"/>
<circle cx="474.37" cy="275.12" r="1.75" fill="#106c92" stroke="#106c92"/>
<circle cx="488.12" cy="267.24" r="1.75" fill="#00a193" stroke="#00a193"/>
<circle cx="484.34" cy="278.37" r="1.75" fill="#048d96" stroke="#048d96"/>
<circle cx="493.34" cy="264.01" r="1.75" fill="#165f8e" stroke="#165f8e"/>
<circle cx="475.06" cy="276.94" r="1.75" fill="#3b2e8e" stroke="#3b2e8e"/>
<circle cx="471.48" cy="273.94" r="1.75" fill="#96da1e" stroke="#96da1e"/>
<circle cx="486.97" cy="267.87" r="1.75" fill="#165f8e" stroke="#165f8e"/>
<circle cx="490.47" cy="266.91" r="1.75" fill="#175e8e" stroke="#175e8e"/>
<circle cx="486.86" cy="270.9" r="1.75" fill="#146490" stroke="#146490"/>
<circle cx="482.72" cy="271.71" r="1.75" fill="#60d23c" stroke="#60d23c"/>
<circle cx="495.49" cy="262.25" r="1.75" fill="#5bd13f" stroke="#5bd13f"/>
<circle cx="496.17" cy="262.41" r="1.75" fill="#1f538f" stroke="#1f538f"/>
<circle cx="479.16" cy="286.28" r="1.75" fill="#00b380" stroke="#00b380"/>
<circle cx="471.28" cy="277.77" r="1.75" fill="#333691" stroke="#333691"/>
<circle cx="480.08" cy="281.29" r="1.75" fill="#039196" stroke="#039196"/>
<circle cx="488.06" cy="270.37" r="1.75" fill="#00b675" stroke="#00b675"/>
<circle cx="478.3" cy="274.25" r="1.75" fill="#00b37e" stroke="#00b37e"/>
<circle cx="475.79" cy="281.21" r="1.75" fill="#27c55a" stroke="#27c55a"/>
<circle cx="482.5" cy="269.98" r="1.75" fill="#175e8e" stroke="#175e8e"/>
<circle cx="485.69" cy="276.91" r="1.75" fill="#106c92" stroke="#106c92"/>
<circle cx="484.45" cy="269.91" r="1.75" fill="#88d825" stroke="#88d825"/>
<circle cx="493.19" cy="267.64" r="1.75" fill="#48cd49" stroke="#48cd49"/>
<circle cx="494.63" cy="265.99" r="1.75" fill="#08bc6a" stroke="#08bc6a"/>
<circle cx="479.84" cy="283.93" r="1.75" fill="#26c55b" stroke="#26c55b"/>
<circle cx="484.61" cy="272.18" r="1.75" fill="#048f96" stroke="#048f96"/>
<circle cx="489.67" cy="270.04" r="1.75" fill="#541587" stroke="#541587"/>
<circle cx="485.41" cy="278.83" r="1.75" fill="#4a1f8a" stroke="#4a1f8a"/>
<circle cx="478.36" cy="272.4" r="1.75" fill="#00a391" stroke="#00a391"/>
<circle cx="485.89" cy="275.78" r="1.75" fill="#00a68e" stroke="#00a68e"/>
<circle cx="482.18" cy="275.48" r="1.75" fill="#00aa8a" stroke="#00aa8a"/>
<circle cx="487.01" cy="269.57" r="1.75" fill="#11bf65" stroke="#11bf65"/>
<circle cx="495.16" cy="263.5" r="1.75" fill="#1a5a8e" stroke="#1a5a8e"/>
<circle cx="476.46" cy="277.98" r="1.75" fill="#bcde0a" stroke="#bcde0a"/>
<circle cx="487.28" cy="268.24" r="1.75" fill="#274690" stroke="#274690"/>
<circle cx="488.03" cy="269.82" r="1.75" fill="#0f6d93" stroke="#0f6d93"/>
<circle cx="475.94" cy="274.72" r="1.75" fill="#0ebe67" stroke="#0ebe67"/>
<circle cx="487.44" cy="272.24" r="1.75" fill="#00b57b" stroke="#00b57b"/>
<circle cx="495.14" cy="264.42" r="1.75" fill="#13bf65" stroke="#13bf65"/>
<circle cx="495.39" cy="262.44" r="1.75" fill="#00a094" stroke="#00a094"/>
<circle cx="480.82" cy="282.14" r="1.75" fill="#15628f" stroke="#15628f"/>
<circle cx="481.2" cy="273.98" r="1.75" fill="#00a094" stroke="#00a094"/>
<circle cx="489.61" cy="268.31" r="1.75" fill="#0a7796" stroke="#0a7796"/>
<circle cx="488.83" cy="270.26" r="1.75" fill="#00a490" stroke="#00a490"/>
<circle cx="484.35" cy="270.63" r="1.75" fill="#1e538f" stroke="#1e538f"/>
<circle cx="489.33" cy="266.87" r="1.75" fill="#00a292" stroke="#00a292"/>
<circle cx="487.17" cy="281.81" r="1.75" fill="#029596" stroke="#029596"/>
<circle cx="482.8" cy="275.93" r="1.75" fill="#019c96" stroke="#019c96"/>
<circle cx="489.09" cy="268.11" r="1.75" fill="#00a391" stroke="#00a391"/>
<circle cx="479.04" cy="275.2" r="1.75" fill="#343590" stroke="#343590"/>
<circle cx="487.74" cy="271.73" r="1.75" fill="#00aa8a" stroke="#00aa8a"/>
<circle cx="492.06" cy="268.65" r="1.75" fill="#521788" stroke="#521788"/>
<circle cx="489.56" cy="267.73" r="1.75" fill="#511888" stroke="#511888"/>
<circle cx="476.37" cy="276.28" r="1.75" fill="#195c8e" stroke="#195c8e"/>
<circle cx="484.05" cy="286.19" r="1.75" fill="#00a88c" stroke="#00a88c"/>
<circle cx="481.36" cy="285.63" r="1.75" fill="#00b870" stroke="#00b870"/>
<circle cx="482.84" cy="277.34" r="1.75" fill="#029596" stroke="#029596"/>
<circle cx="489.18" cy="278.05" r="1.75" fill="#224f8f" stroke="#224f8f"/>
<circle cx="484.75" cy="275.27" r="1.75" fill="#078596" stroke="#078596"/>
<circle cx="485.05" cy="269.28" r="1.75" fill="#254990" stroke="#254990"/>
<circle cx="487.04" cy="274.86" r="1.75" fill="#c0de09" stroke="#c0de09"/>
<circle cx="488.3" cy="268.82" r="1.75" fill="#274690" stroke="#274690"/>
<circle cx="478.05" cy="284.97" r="1.75" fill="#37328f" stroke="#37328f"/>
<circle cx="483.79" cy="271.67" r="1.75" fill="#0fbe66" stroke="#0fbe66"/>
<circle cx="475.43" cy="277.17" r="1.75" fill="#39308f" stroke="#39308f"/>
<circle cx="484.67" cy="268.06" r="1.75" fill="#00a78d" stroke="#00a78d"/>
<circle cx="480.12" cy="276.44" r="1.75" fill="#d4df06" stroke="#d4df06"/>
<circle cx="488.35" cy="266.35" r="1.75" fill="#15618f" stroke="#15618f"/>
<circle cx="490.1" cy="266.58" r="1.75" fill="#1d568f" stroke="#1d568f"/>
<circle cx="489.54" cy="269.53" r="1.75" fill="#087f96" stroke="#087f96"/>
<circle cx="488.67" cy="265.23" r="1.75" fill="#087f96" stroke="#087f96"/>
<circle cx="489.31" cy="270.21" r="1.75" fill="#00a490" stroke="#00a490"/>
<circle cx="480.19" cy="275.88" r="1.75" fill="#21508f" stroke="#21508f"/>
<circle cx="479.73" cy="267.95" r="1.75" fill="#c6df08" stroke="#c6df08"/>
<circle cx="471.08" cy="279.06" r="1.75" fill="#0c7595" stroke="#0c7595"/>
<circle cx="494.82" cy="264.42" r="1.75" fill="#571285" stroke="#571285"/>
<circle cx="484.54" cy="271.55" r="1.75" fill="#097c96" stroke="#097c96"/>
<circle cx="491.72" cy="267.4" r="1.75" fill="#2a4390" stroke="#2a4390"/>
<circle cx="495.16" cy="263.06" r="1.75" fill="#24c45c" stroke="#24c45c"/>
<circle cx="492.56" cy="269.09" r="1.75" fill="#5c0d81" stroke="#5c0d81"/>
<circle cx="477.92" cy="277.6" r="1.75" fill="#41288d" stroke="#41288d"/>
<circle cx="492.64" cy="269.12" r="1.75" fill="#1d558f" stroke="#1d558f"/>
<circle cx="488.73" cy="267.79" r="1.75" fill="#60d23c" stroke="#60d23c"/>
<circle cx="490.75" cy="266.11" r="1.75" fill="#185d8e" stroke="#185d8e"/>
<circle cx="485.87" cy="268.63" r="1.75" fill="#44258c" stroke="#44258c"/>
<circle cx="484.74" cy="265.66" r="1.75" fill="#62d23b" stroke="#62d23b"/>
<circle cx="488.81" cy="275.43" r="1.75" fill="#38318f" stroke="#38318f"/>
<circle cx="478.97" cy="286.39" r="1.75" fill="#38c951" stroke="#38c951"/>
<circle cx="479.6" cy="283.96" r="1.75" fill="#029896" stroke="#029896"/>
<circle cx="484" cy="275.97" r="1.75" fill="#00a58f" stroke="#00a58f"/>
<circle cx="478.16" cy="273.98" r="1.75" fill="#00af85" stroke="#00af85"/>
<circle cx="475.56" cy="283.49" r="1.75" fill="#039396" stroke="#039396"/>
<circle cx="492.59" cy="266.51" r="1.75" fill="#254a90" stroke="#254a90"/>
<circle cx="492.71" cy="267.75" r="1.75" fill="#00aa8a" stroke="#00aa8a"/>
<circle cx="490.25" cy="269.26" r="1.75" fill="#53cf42" stroke="#53cf42"/>
<circle cx="480.33" cy="279.21" r="1.75" fill="#8fd922" stroke="#8fd922"/>
<circle cx="484.1" cy="273.62" r="1.75" fill="#254a90" stroke="#254a90"/>
<circle cx="488.82" cy="274.29" r="1.75" fill="#39308f" stroke="#39308f"/>
<circle cx="484.42" cy="273.19" r="1.75" fill="#00b870" stroke="#00b870"/>
<circle cx="490.38" cy="265.99" r="1.75" fill="#0b7796" stroke="#0b7796"/>
<circle cx="492.43" cy="264.76" r="1.75" fill="#00b37f" stroke="#00b37f"/>
<circle cx="489.51" cy="272.46" r="1.75" fill="#b6de0c" stroke="#b6de0c"/>
<circle cx="478.8" cy="273.81" r="1.75" fill="#313991" stroke="#313991"/>
<circle cx="488.85" cy="266.6" r="1.75" fill="#e7e003" stroke="#e7e003"/>
<circle cx="489.87" cy="267.03" r="1.75" fill="#18c162" stroke="#18c162"/>
<circle cx="494.55" cy="265.53" r="1.75" fill="#029796" stroke="#029796"/>
<circle cx="493.3" cy="267.9" r="1.75" fill="#75d530" stroke="#75d530"/>
<circle cx="486.25" cy="271.01" r="1.75" fill="#00a094" stroke="#00a094"/>
<circle cx="481.31" cy="282.03" r="1.75" fill="#00b57a" stroke="#00b57a"/>
<circle cx="489.17" cy="273.34" r="1.75" fill="#195b8e" stroke="#195b8e"/>
<circle cx="488.51" cy="266.63" r="1.75" fill="#097c96" stroke="#097c96"/>
<circle cx="492.69" cy="263.64" r="1.75" fill="#068796" stroke="#068796"/>
<circle cx="486.52" cy="268.77" r="1.75" fill="#1a5a8e" stroke="#1a5a8e"/>
<circle cx="484.33" cy="268.25" r="1.75" fill="#a4db16" stroke="#a4db16"/>
<circle cx="481.09" cy="271.81" r="1.75" fill="#00ad87" stroke="#00ad87"/>
<circle cx="495.38" cy="264.29" r="1.75" fill="#1c568f" stroke="#1c568f"/>
<circle cx="489.61" cy="265.31" r="1.75" fill="#23c45d" stroke="#23c45d"/>
<circle cx="472.57" cy="282.97" r="1.75" fill="#116a92" stroke="#116a92"/>
<circle cx="481.13" cy="273.76" r="1.75" fill="#00a292" stroke="#00a292"/>
<circle cx="471.15" cy="274.99" r="1.75" fill="#7dd72c" stroke="#7dd72c"/>
<circle cx="488.87" cy="267.49" r="1.75" fill="#64d33a" stroke="#64d33a"/>
<circle cx="489.11" cy="264.77" r="1.75" fill="#1e538f" stroke="#1e538f"/>
<circle cx="495.21" cy="262.77" r="1.75" fill="#088096" stroke="#088096"/>
<circle cx="492.22" cy="266.44" r="1.75" fill="#2ac659" stroke="#2ac659"/>
<circle cx="486.68" cy="273.62" r="1.75" fill="#05bb6b" stroke="#05bb6b"/>
<circle cx="476.36" cy="281.25" r="1.75" fill="#00a68e" stroke="#00a68e"/>
<circle cx="496.42" cy="263.63" r="1.75" fill="#3b2e8e" stroke="#3b2e8e"/>
<circle cx="493.79" cy="264.26" r="1.75" fill="#0ebe67" stroke="#0ebe67"/>
<circle cx="492.92" cy="265.19" r="1.75" fill="#00a094" stroke="#00a094"/>
<circle cx="476.25" cy="284.27" r="1.75" fill="#234d8f" stroke="#234d8f"/>
<circle cx="488.2" cy="279.89" r="1.75" fill="#00b870" stroke="#00b870"/>
<circle cx="494.85" cy="267.31" r="1.75" fill="#00a88c" stroke="#00a88c"/>
<circle cx="479.66" cy="273.69" r="1.75" fill="#43268c" stroke="#43268c"/>
<circle cx="485.32" cy="276.52" r="1.75" fill="#00b579" stroke="#00b579"/>
<circle cx="480.09" cy="270.63" r="1.75" fill="#5bd13e" stroke="#5bd13e"/>
<circle cx="484.13" cy="276.62" r="1.75" fill="#078396" stroke="#078396"/>
<circle cx="483.97" cy="271.78" r="1.75" fill="#45248c" stroke="#45248c"/>
<circle cx="489.99" cy="272.65" r="1.75" fill="#087e96" stroke="#087e96"/>
<circle cx="492.28" cy="266.99" r="1.75" fill="#00a88c" stroke="#00a88c"/>
<circle cx="484.34" cy="273.91" r="1.75" fill="#0e7093" stroke="#0e7093"/>
<circle cx="496.39" cy="261.28" r="1.75" fill="#00a98b" stroke="#00a98b"/>
<circle cx="491.62" cy="263.19" r="1.75" fill="#019b96" stroke="#019b96"/>
<circle cx="470.37" cy="278.94" r="1.75" fill="#1e548f" stroke="#1e548f"/>
<circle cx="487.77" cy="275.92" r="1.75" fill="#18c162" stroke="#18c162"/>
<circle cx="486.47" cy="270.92" r="1.75" fill="#0d7294" stroke="#0d7294"/>
<circle cx="472.85" cy="284.9" r="1.75" fill="#00a68e" stroke="#00a68e"/>
<circle cx="487.44" cy="272.46" r="1.75" fill="#254990" stroke="#254990"/>
<circle cx="485.87" cy="269.42" r="1.75" fill="#0e7194" stroke="#0e7194"/>
<circle cx="470.02" cy="275.55" r="1.75" fill="#019996" stroke="#019996"/>
<circle cx="490.65" cy="268.29" r="1.75" fill="#20c45e" stroke="#20c45e"/>
<circle cx="476.36" cy="274.06" r="1.75" fill="#00a490" stroke="#00a490"/>
<circle cx="480.66" cy="270.18" r="1.75" fill="#00a193" stroke="#00a193"/>
<circle cx="490.29" cy="270.69" r="1.75" fill="#009e96" stroke="#009e96"/>
<circle cx="472.48" cy="273.2" r="1.75" fill="#078396" stroke="#078396"/>
<circle cx="487.63" cy="265.36" r="1.75" fill="#00a193" stroke="#00a193"/>
<circle cx="485.76" cy="270.5" r="1.75" fill="#058a96" stroke="#058a96"/>
<circle cx="492.87" cy="262.48" r="1.75" fill="#00b47b" stroke="#00b47b"/>
<circle cx="482.72" cy="273.28" r="1.75" fill="#0a7796" stroke="#0a7796"/>
<circle cx="476" cy="274.12" r="1.75" fill="#00b871" stroke="#00b871"/>
<circle cx="482.57" cy="271.72" r="1.75" fill="#511888" stroke="#511888"/>
<circle cx="492.17" cy="267.7" r="1.75" fill="#126891" stroke="#126891"/>
<circle cx="491.83" cy="265.43" r="1.75" fill="#73d532" stroke="#73d532"/>
<circle cx="492.72" cy="265.48" r="1.75" fill="#088096" stroke="#088096"/>
<circle cx="478.18" cy="281.87" r="1.75" fill="#48218b" stroke="#48218b"/>
<circle cx="475.85" cy="290.18" r="1.75" fill="#1c578f" stroke="#1c578f"/>
<circle cx="484.89" cy="276.07" r="1.75" fill="#76d630" stroke="#76d630"/>
<circle cx="492.44" cy="268.42" r="1.75" fill="#078396" stroke="#078396"/>
<circle cx="491.01" cy="264.41" r="1.75" fill="#009d96" stroke="#009d96"/>
<circle cx="494.09" cy="268.1" r="1.75" fill="#313991" stroke="#313991"/>
<circle cx="482.82" cy="273.98" r="1.75" fill="#126891" stroke="#126891"/>
<circle cx="484.81" cy="275.29" r="1.75" fill="#126791" stroke="#126791"/>
<circle cx="485.59" cy="277.83" r="1.75" fill="#116b92" stroke="#116b92"/>
<circle cx="480.69" cy="272.83" r="1.75" fill="#00a68e" stroke="#00a68e"/>
<circle cx="491.26" cy="268.61" r="1.75" fill="#a4db16" stroke="#a4db16"/>
<circle cx="492.79" cy="263.16" r="1.75" fill="#1b598e" stroke="#1b598e"/>
<circle cx="491.49" cy="266.71" r="1.75" fill="#234c8f" stroke="#234c8f"/>
<circle cx="490.93" cy="266.04" r="1.75" fill="#00b084" stroke="#00b084"/>
<circle cx="477.97" cy="279.65" r="1.75" fill="#5bd13e" stroke="#5bd13e"/>
<circle cx="478.36" cy="274.92" r="1.75" fill="#74d531" stroke="#74d531"/>
<circle cx="487.23" cy="267.39" r="1.75" fill="#7cd62c" stroke="#7cd62c"/>
<circle cx="494.19" cy="264.5" r="1.75" fill="#088196" stroke="#088196"/>
<circle cx="485.31" cy="272.06" r="1.75" fill="#068796" stroke="#068796"/>
<circle cx="476.57" cy="271.09" r="1.75" fill="#106b92" stroke="#106b92"/>
<circle cx="490.86" cy="268.4" r="1.75" fill="#00a094" stroke="#00a094"/>
<circle cx="474.74" cy="271.84" r="1.75" fill="#96da1e" stroke="#96da1e"/>
<circle cx="487.26" cy="271.66" r="1.75" fill="#00a391" stroke="#00a391"/>
<circle cx="492.41" cy="266.64" r="1.75" fill="#294490" stroke="#294490"/>
<circle cx="493.95" cy="267.54" r="1.75" fill="#234c8f" stroke="#234c8f"/>
<circle cx="480.23" cy="282.06" r="1.75" fill="#019896" stroke="#019896"/>
<circle cx="493.82" cy="267.9" r="1.75" fill="#264990" stroke="#264990"/>
<circle cx="493.93" cy="265" r="1.75" fill="#1a5a8e" stroke="#1a5a8e"/>
<circle cx="483.17" cy="271.11" r="1.75" fill="#078496" stroke="#078496"/>
<circle cx="491.39" cy="266.53" r="1.75" fill="#00ab89" stroke="#00ab89"/>
<circle cx="487.07" cy="272.73" r="1.75" fill="#00ac88" stroke="#00ac88"/>
<circle cx="483.9" cy="278.72" r="1.75" fill="#bbde0a" stroke="#bbde0a"/>
<circle cx="478.04" cy="283.44" r="1.75" fill="#39308f" stroke="#39308f"/>
<circle cx="487.77" cy="275.94" r="1.75" fill="#244b8f" stroke="#244b8f"/>
<circle cx="485.25" cy="278.43" r="1.75" fill="#35c853" stroke="#35c853"/>
<circle cx="488.64" cy="264.32" r="1.75" fill="#00b96f" stroke="#00b96f"/>
<circle cx="488.6" cy="268.25" r="1.75" fill="#058b96" stroke="#058b96"/>
<circle cx="494.59" cy="264.87" r="1.75" fill="#088096" stroke="#088096"/>
<circle cx="489.32" cy="266.55" r="1.75" fill="#00aa8a" stroke="#00aa8a"/>
<circle cx="493.65" cy="262.28" r="1.75" fill="#00ac88" stroke="#00ac88"/>
<circle cx="483.12" cy="277.34" r="1.75" fill="#2f3b91" stroke="#2f3b91"/>
<circle cx="491.78" cy="266.26" r="1.75" fill="#009e96" stroke="#009e96"/>
<circle cx="493.14" cy="267.53" r="1.75" fill="#44258c" stroke="#44258c"/>
<circle cx="493.4" cy="268.11" r="1.75" fill="#06bb6b" stroke="#06bb6b"/>
<circle cx="489.5" cy="264.92" r="1.75" fill="#36c952" stroke="#36c952"/>
<circle cx="479.57" cy="268.02" r="1.75" fill="#00b47d" stroke="#00b47d"/>
<circle cx="486.25" cy="274.28" r="1.75" fill="#00af85" stroke="#00af85"/>
<circle cx="482.43" cy="285.14" r="1.75" fill="#029596" stroke="#029596"/>
<circle cx="485.51" cy="267.21" r="1.75" fill="#0a7896" stroke="#0a7896"/>
<circle cx="478.79" cy="272.72" r="1.75" fill="#165f8e" stroke="#165f8e"/>
<circle cx="487.28" cy="268.66" r="1.75" fill="#0f6e93" stroke="#0f6e93"/>
<circle cx="476.71" cy="272.22" r="1.75" fill="#097a96" stroke="#097a96"/>
<circle cx="486.29" cy="272.45" r="1.75" fill="#363390" stroke="#363390"/>
<circle cx="493.46" cy="264.01" r="1.75" fill="#244b8f" stroke="#244b8f"/>
<circle cx="493.96" cy="262.9" r="1.75" fill="#00b37f" stroke="#00b37f"/>
<circle cx="480.93" cy="277.83" r="1.75" fill="#36c852" stroke="#36c852"/>
<circle cx="484.47" cy="270.91" r="1.75" fill="#61d23b" stroke="#61d23b"/>
<circle cx="492.15" cy="266.19" r="1.75" fill="#29c659" stroke="#29c659"/>
<circle cx="490.55" cy="266.09" r="1.75" fill="#70d533" stroke="#70d533"/>
<circle cx="489.87" cy="267.37" r="1.75" fill="#4b1e8a" stroke="#4b1e8a"/>
<circle cx="483.17" cy="287.11" r="1.75" fill="#00b281" stroke="#00b281"/>
<circle cx="487.09" cy="270.06" r="1.75" fill="#029796" stroke="#029796"/>
<circle cx="489.79" cy="272.88" r="1.75" fill="#264890" stroke="#264890"/>
<circle cx="493.29" cy="266.33" r="1.75" fill="#274790" stroke="#274790"/>
<circle cx="488.93" cy="275.33" r="1.75" fill="#00a292" stroke="#00a292"/>
<circle cx="485.98" cy="268.64" r="1.75" fill="#50ce45" stroke="#50ce45"/>
<circle cx="483.25" cy="275.54" r="1.75" fill="#00ad87" stroke="#00ad87"/>
<circle cx="485.41" cy="273.58" r="1.75" fill="#4d1c89" stroke="#4d1c89"/>
<circle cx="475.73" cy="273.85" r="1.75" fill="#284590" stroke="#284590"/>
<circle cx="489.2" cy="266.55" r="1.75" fill="#078396" stroke="#078396"/>
<circle cx="479.67" cy="278.53" r="1.75" fill="#313891" stroke="#313891"/>
<circle cx="490.64" cy="274.68" r="1.75" fill="#3dca4f" stroke="#3dca4f"/>
<circle cx="491.54" cy="264.91" r="1.75" fill="#254990" stroke="#254990"/>
<circle cx="488.9" cy="269.53" r="1.75" fill="#35c853" stroke="#35c853"/>
<circle cx="485.04" cy="273.87" r="1.75" fill="#00b871" stroke="#00b871"/>
<circle cx="488.51" cy="267.01" r="1.75" fill="#088096" stroke="#088096"/>
<circle cx="486.47" cy="273.53" r="1.75" fill="#00ae86" stroke="#00ae86"/>
<circle cx="491.93" cy="266.06" r="1.75" fill="#29c559" stroke="#29c559"/>
<circle cx="481.74" cy="271.41" r="1.75" fill="#addd11" stroke="#addd11"/>
<circle cx="476.73" cy="276.61" r="1.75" fill="#38c951" stroke="#38c951"/>
<circle cx="476.21" cy="284.98" r="1.75" fill="#3f2a8d" stroke="#3f2a8d"/>
<circle cx="486.06" cy="266.8" r="1.75" fill="#009e96" stroke="#009e96"/>
<circle cx="479.03" cy="272.18" r="1.75" fill="#00a193" stroke="#00a193"/>
<circle cx="478.59" cy="269.55" r="1.75" fill="#6dd535" stroke="#6dd535"/>
<circle cx="489.03" cy="268.74" r="1.75" fill="#097b96" stroke="#097b96"/>
<circle cx="490.82" cy="266.41" r="1.75" fill="#03ba6c" stroke="#03ba6c"/>
<circle cx="484.82" cy="268.71" r="1.75" fill="#54cf42" stroke="#54cf42"/>
<circle cx="483.16" cy="272.11" r="1.75" fill="#039196" stroke="#039196"/>
<circle cx="481.55" cy="274.83" r="1.75" fill="#088196" stroke="#088196"/>
<circle cx="494.8" cy="263.35" r="1.75" fill="#068996" stroke="#068996"/>
<circle cx="495.06" cy="263.36" r="1.75" fill="#1e538f" stroke="#1e538f"/>
<circle cx="477.92" cy="283.31" r="1.75" fill="#039296" stroke="#039296"/>
<circle cx="492.82" cy="266.39" r="1.75" fill="#00b872" stroke="#00b872"/>
<circle cx="489.17" cy="267.32" r="1.75" fill="#50ce44" stroke="#50ce44"/>
<circle cx="494.61" cy="263.83" r="1.75" fill="#00b37e" stroke="#00b37e"/>
<circle cx="486.01" cy="278.23" r="1.75" fill="#00af85" stroke="#00af85"/>
<circle cx="495.73" cy="262.29" r="1.75" fill="#00b579" stroke="#00b579"/>
<circle cx="483.8" cy="267.53" r="1.75" fill="#00a68e" stroke="#00a68e"/>
<circle cx="478.04" cy="271.9" r="1.75" fill="#abdc12" stroke="#abdc12"/>
<circle cx="490.5" cy="274.52" r="1.75" fill="#00b084" stroke="#00b084"/>
<circle cx="481.12" cy="280.96" r="1.75" fill="#078396" stroke="#078396"/>
<circle cx="477.41" cy="274.99" r="1.75" fill="#2a4390" stroke="#2a4390"/>
<circle cx="486.13" cy="270.96" r="1.75" fill="#00b57a" stroke="#00b57a"/>
<circle cx="490.48" cy="267.04" r="1.75" fill="#32c755" stroke="#32c755"/>
<circle cx="475.83" cy="281.69" r="1.75" fill="#0e6f93" stroke="#0e6f93"/>
<circle cx="486.52" cy="270.68" r="1.75" fill="#156390" stroke="#156390"/>
<circle cx="488.54" cy="272.74" r="1.75" fill="#17c162" stroke="#17c162"/>
<circle cx="476.43" cy="273.69" r="1.75" fill="#039496" stroke="#039496"/>
<circle cx="329.73" cy="359.29" r="1.75" fill="#f2e101" stroke="#f2e101"/>
<circle cx="331.57" cy="366.71" r="1.75" fill="#06bb6b" stroke="#06bb6b"/>
<circle cx="338.85" cy="368.03" r="1.75" fill="#116991" stroke="#116991"/>
<circle cx="368.3" cy="381.05" r="1.75" fill="#00a88c" stroke="#00a88c"/>
<circle cx="361.11" cy="387.97" r="1.75" fill="#4e1b89" stroke="#4e1b89"/>
<circle cx="364.62" cy="390.28" r="1.75" fill="#12bf65" stroke="#12bf65"/>
<circle cx="360.41" cy="409.57" r="1.75" fill="#4e1b89" stroke="#4e1b89"/>
<circle cx="351.12" cy="396.21" r="1.75" fill="#009e96" stroke="#009e96"/>
<circle cx="356.91" cy="392.59" r="1.75" fill="#00b57a" stroke="#00b57a"/>
<circle cx="354.28" cy="392.59" r="1.75" fill="#4e1b89" stroke="#4e1b89"/>
<circle cx="353.58" cy="399.35" r="1.75" fill="#009e96" stroke="#009e96"/>
<circle cx="352.7" cy="404.46" r="1.75" fill="#058b96" stroke="#058b96"/>
<circle cx="334.47" cy="404.79" r="1.75" fill="#214f8f" stroke="#214f8f"/>
<circle cx="329.38" cy="408.58" r="1.75" fill="#00a88c" stroke="#00a88c"/>
<circle cx="330.08" cy="411.71" r="1.75" fill="#00a88c" stroke="#00a88c"/>
<circle cx="427.73" cy="316.43" r="1.75" fill="#47228b" stroke="#47228b"/>
<circle cx="430.18" cy="328.79" r="1.75" fill="#1d558f" stroke="#1d558f"/>
<circle cx="438.25" cy="324.83" r="1.75" fill="#2e3d91" stroke="#2e3d91"/>
<circle cx="449.81" cy="304.89" r="1.75" fill="#1d558f" stroke="#1d558f"/>
<circle cx="452.44" cy="290.88" r="1.75" fill="#1d558f" stroke="#1d558f"/>
<circle cx="457.53" cy="294.67" r="1.75" fill="#195b8e" stroke="#195b8e"/>
<circle cx="459.63" cy="286.42" r="1.75" fill="#d8e005" stroke="#d8e005"/>
<circle cx="462.44" cy="274.88" r="1.75" fill="#591084" stroke="#591084"/>
<circle cx="464.54" cy="293.02" r="1.75" fill="#591084" stroke="#591084"/>
<circle cx="468.05" cy="292.03" r="1.75" fill="#551487" stroke="#551487"/>
<circle cx="472.95" cy="293.68" r="1.75" fill="#591084" stroke="#591084"/>
<circle cx="466.29" cy="300.44" r="1.75" fill="#06bb6b" stroke="#06bb6b"/>
<circle cx="467.52" cy="297.3" r="1.75" fill="#00b282" stroke="#00b282"/>
<circle cx="468.05" cy="295.16" r="1.75" fill="#00a88c" stroke="#00a88c"/>
<circle cx="490.48" cy="277.69" r="1.75" fill="#591084" stroke="#591084"/>
<circle cx="477.69" cy="288.07" r="1.75" fill="#00b96e" stroke="#00b96e"/>
<circle cx="442.63" cy="374.62" r="1.75" fill="#00ae86" stroke="#00ae86"/>
<circle cx="499.6" cy="414.18" r="1.75" fill="#6a0076" stroke="#6a0076"/>
<circle cx="499.6" cy="419.13" r="1.75" fill="#00a88c" stroke="#00a88c"/>
<circle cx="327.81" cy="419.95" r="1.75" fill="#91d921" stroke="#91d921"/>
<circle cx="328.68" cy="418.3" r="1.75" fill="#b9de0a" stroke="#b9de0a"/>
<circle cx="329.56" cy="419.13" r="1.75" fill="#d8e005" stroke="#d8e005"/>
<circle cx="339.2" cy="413.36" r="1.75" fill="#b9de0a" stroke="#b9de0a"/>
<circle cx="343.58" cy="410.89" r="1.75" fill="#c6df08" stroke="#c6df08"/>
<circle cx="333.06" cy="418.3" r="1.75" fill="#600a7e" stroke="#600a7e"/>
<circle cx="341.83" cy="415.01" r="1.75" fill="#600a7e" stroke="#600a7e"/>
<circle cx="335.69" cy="415.01" r="1.75" fill="#591084" stroke="#591084"/>
<circle cx="472.43" cy="269.94" r="1.75" fill="#009e96" stroke="#009e96"/>
<circle cx="478.74" cy="269.94" r="1.75" fill="#e5e003" stroke="#e5e003"/>
<circle cx="491.54" cy="272.08" r="1.75" fill="#a9dc13" stroke="#a9dc13"/>
<circle cx="482.07" cy="264.33" r="1.75" fill="#600a7e" stroke="#600a7e"/>
<circle cx="496.44" cy="261.04" r="1.75" fill="#62087d" stroke="#62087d"/>
<circle cx="475.06" cy="274.88" r="1.75" fill="#591084" stroke="#591084"/>
<circle cx="482.07" cy="278.18" r="1.75" fill="#551487" stroke="#551487"/>
<circle cx="464.54" cy="277.36" r="1.75" fill="#1ec35f" stroke="#1ec35f"/>
<circle cx="466.29" cy="279.83" r="1.75" fill="#00b57a" stroke="#00b57a"/>
</g>
<path d="M324.3 429.35v2.3M318.55 423.25h-2.3M359.36 429.35v2.3M318.55 390.28h-2.3M394.42 429.35v2.3M318.55 357.31h-2.3M429.48 429.35v2.3M318.55 324.34h-2.3M464.54 429.35v2.3M318.55 291.37h-2.3M499.6 429.35v2.3M318.55 258.4h-2.3M528.65 394.4h2.3M528.65 358.8h2.3M528.65 323.2h2.3M528.65 287.6h2.3" stroke="#3a3a3a" stroke-width="0.8" fill="none"/>
<rect x="318.55" y="252.75" width="190" height="176.6" fill="none" stroke="#3a3a3a" stroke-width="0.9"/>
<rect x="520.25" y="252.75" width="8.4" height="176.6" fill="url(#vg)" stroke="none"/>
<rect x="520.25" y="252.75" width="8.4" height="176.6" fill="none" stroke="#3a3a3a" stroke-width="0.8"/>
<g font-family="'DejaVu Sans','Liberation Sans',sans-serif" fill="#000" stroke="#000" stroke-width="0.12">
<text x="413.85" y="248.5" font-size="7.97" text-anchor="middle">The correlation between two periods of MCI to AD</text>
<g font-size="6.75">
<text x="324.3" y="439.4" text-anchor="middle">0.0</text>
<text x="313.85" y="425.68" text-anchor="end">0.0</text>
<text x="359.36" y="439.4" text-anchor="middle">0.2</text>
<text x="313.85" y="392.71" text-anchor="end">0.2</text>
<text x="394.42" y="439.4" text-anchor="middle">0.4</text>
<text x="313.85" y="359.74" text-anchor="end">0.4</text>
<text x="429.48" y="439.4" text-anchor="middle">0.6</text>
<text x="313.85" y="326.77" text-anchor="end">0.6</text>
<text x="464.54" y="439.4" text-anchor="middle">0.8</text>
<text x="313.85" y="293.8" text-anchor="end">0.8</text>
<text x="499.6" y="439.4" text-anchor="middle">1.0</text>
<text x="313.85" y="260.83" text-anchor="end">1.0</text>
<text x="533.05" y="396.83">0.2</text>
<text x="533.05" y="361.23">0.4</text>
<text x="533.05" y="325.63">0.6</text>
<text x="533.05" y="290.03">0.8</text>
<text x="413.55" y="449.1" text-anchor="middle">Period 1</text>
<text transform="translate(298.8 341.05) rotate(-90)" text-anchor="middle">Period 2</text>
</g></g>
<text x="418.7" y="468.7" font-family="'Liberation Serif',serif" font-size="13.1" text-anchor="middle" fill="#000">(<tspan font-weight="bold">d</tspan>) MCI to AD</text></g>
</svg>
</body></html>
